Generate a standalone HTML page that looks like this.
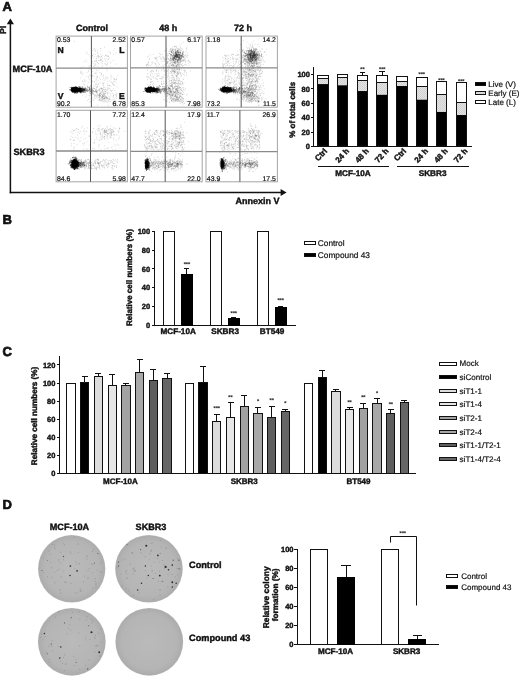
<!DOCTYPE html>
<html lang="en"><head><meta charset="utf-8"><title>Figure</title>
<style>
html,body{margin:0;padding:0;background:#fff;}
body{width:520px;height:676px;overflow:hidden;}
svg{display:block;font-family:"Liberation Sans", sans-serif;filter:blur(0.45px);text-rendering:geometricPrecision;}
</style></head><body>
<svg width="520" height="676" viewBox="0 0 520 676">
<rect width="520" height="676" fill="#fff"/>
<text x="2.50" y="11.00" font-size="13" font-weight="bold" stroke="#111" stroke-width="0.7" text-anchor="start" fill="#111">A</text>
<line x1="10.40" y1="22.50" x2="10.40" y2="193.30" stroke="#111" stroke-width="1.5"/>
<polygon points="10.4,18.4 6.8,24.2 14.0,24.2" fill="#111"/>
<line x1="9.70" y1="192.60" x2="281.50" y2="192.60" stroke="#111" stroke-width="1.5"/>
<polygon points="286.6,192.6 280.6,189.1 280.6,196.1" fill="#111"/>
<text x="5.70" y="29.80" font-size="8.6" font-weight="bold" stroke="#111" stroke-width="0.4" text-anchor="middle" fill="#111" transform="rotate(-90 5.70 29.80)">PI</text>
<text x="257.50" y="203.50" font-size="9" font-weight="bold" stroke="#111" stroke-width="0.4" text-anchor="middle" fill="#111">Annexin V</text>
<text x="92.00" y="30.70" font-size="9" font-weight="bold" stroke="#111" stroke-width="0.4" text-anchor="middle" fill="#111">Control</text>
<text x="168.30" y="30.70" font-size="9" font-weight="bold" stroke="#111" stroke-width="0.4" text-anchor="middle" fill="#111">48 h</text>
<text x="243.10" y="30.70" font-size="9" font-weight="bold" stroke="#111" stroke-width="0.4" text-anchor="middle" fill="#111">72 h</text>
<text x="12.60" y="71.60" font-size="9.2" font-weight="bold" stroke="#111" stroke-width="0.4" text-anchor="start" fill="#111">MCF-10A</text>
<text x="13.40" y="155.30" font-size="9.2" font-weight="bold" stroke="#111" stroke-width="0.4" text-anchor="start" fill="#111">SKBR3</text>
<rect x="56.1" y="36.1" width="71.30000000000001" height="71.1" fill="#fff" stroke="#a4a4a4" stroke-width="1"/>
<path d="M104.4 100.1h.01M100.9 96.8h.01M100.0 100.0h.01M103.7 96.1h.01M102.3 97.9h.01M96.2 90.9h.01M91.0 95.7h.01M93.3 90.6h.01M105.5 93.5h.01M102.4 96.5h.01M105.8 98.2h.01M90.0 94.8h.01M108.0 98.8h.01M97.1 94.1h.01M108.5 101.1h.01M101.6 99.8h.01M100.6 95.7h.01M106.3 101.0h.01M102.2 97.8h.01M103.3 96.5h.01M92.4 91.9h.01M101.8 96.5h.01M96.6 91.8h.01M90.7 93.6h.01M91.9 88.5h.01M99.2 97.7h.01M94.6 95.0h.01M105.2 97.9h.01M91.7 89.7h.01M89.4 89.7h.01M110.0 101.6h.01M95.7 95.0h.01M99.8 96.1h.01M93.5 94.5h.01M93.5 91.1h.01M97.5 94.8h.01M105.7 94.9h.01M89.9 92.2h.01M106.7 99.2h.01M109.9 99.6h.01M100.8 98.5h.01M96.7 95.4h.01M94.0 86.4h.01M92.9 92.1h.01M95.9 90.3h.01M107.0 101.4h.01M89.2 95.6h.01M105.6 97.2h.01M103.1 97.3h.01M89.5 89.7h.01M90.6 91.6h.01M104.5 99.2h.01M103.2 100.0h.01M95.7 91.2h.01M107.2 102.6h.01M93.5 90.3h.01M98.1 95.2h.01M91.5 93.9h.01M102.7 98.4h.01M90.9 88.9h.01M92.9 90.4h.01M105.2 97.1h.01M99.6 95.2h.01M103.0 99.6h.01M104.5 95.0h.01M101.8 97.5h.01M93.3 93.5h.01M103.8 98.7h.01M91.5 92.3h.01M94.8 96.3h.01M98.5 95.9h.01M91.5 93.2h.01M91.3 92.5h.01M102.8 100.9h.01M104.7 93.7h.01M96.9 96.8h.01M97.3 93.6h.01M93.5 91.7h.01M100.1 93.4h.01M101.3 92.1h.01M108.7 99.1h.01M90.0 89.0h.01M108.2 100.7h.01M109.9 97.3h.01M96.4 96.9h.01M104.3 98.3h.01M106.4 98.2h.01M102.8 95.4h.01M95.2 91.4h.01M102.2 94.2h.01M107.5 98.1h.01M91.3 91.2h.01M99.2 94.7h.01M89.6 87.2h.01M106.8 98.4h.01M105.4 96.3h.01M90.1 90.9h.01M104.8 102.0h.01M103.6 98.7h.01M91.8 90.7h.01M100.1 92.0h.01M103.6 94.2h.01M96.1 89.9h.01M99.7 97.0h.01M109.6 98.7h.01M102.4 96.9h.01M99.6 94.0h.01M90.5 91.0h.01M91.6 94.5h.01M107.0 97.5h.01M104.7 97.1h.01M106.6 97.1h.01M101.2 98.1h.01M101.2 93.9h.01M100.2 93.2h.01M104.5 94.8h.01M96.0 90.5h.01M99.5 96.4h.01M99.0 100.7h.01M103.0 94.9h.01M106.8 65.5h.01M101.9 59.9h.01M92.4 55.6h.01M98.2 56.9h.01M98.5 57.2h.01M95.3 54.5h.01M113.6 54.3h.01M86.8 52.1h.01M102.8 65.8h.01M102.4 58.0h.01M96.0 64.3h.01M101.1 56.5h.01M106.2 58.6h.01M101.2 57.0h.01M103.0 61.1h.01M105.0 63.5h.01M85.9 59.7h.01M110.4 53.7h.01M116.0 53.0h.01M107.0 68.9h.01M107.2 56.3h.01M90.2 56.2h.01M99.3 67.6h.01M94.4 65.2h.01M96.0 61.6h.01M106.9 55.5h.01M94.5 73.4h.01M99.2 60.7h.01M86.7 61.7h.01M99.0 57.0h.01M100.7 48.9h.01M95.2 49.4h.01M95.1 60.7h.01M113.3 60.6h.01M91.6 56.5h.01M92.7 50.5h.01M94.4 48.7h.01M108.5 56.0h.01M114.8 48.6h.01M102.4 63.9h.01M95.1 65.6h.01M97.1 76.5h.01M107.6 63.8h.01M93.7 54.2h.01M110.3 52.4h.01M100.6 54.2h.01M104.6 56.9h.01M105.3 64.4h.01M111.0 62.1h.01M92.7 61.9h.01M108.4 59.5h.01M97.5 62.4h.01M94.7 67.5h.01M100.8 51.2h.01M98.6 55.1h.01M93.2 49.1h.01M88.9 68.6h.01M93.5 66.5h.01M110.3 63.0h.01M113.8 50.3h.01M104.7 59.2h.01M108.4 56.6h.01M96.5 58.6h.01M99.6 56.9h.01M102.1 61.5h.01M92.5 55.5h.01M93.2 63.7h.01M100.8 59.7h.01M97.9 56.2h.01M92.7 57.4h.01M102.8 55.2h.01M98.3 63.4h.01M107.2 56.3h.01M100.1 60.0h.01M98.0 55.5h.01M101.0 48.4h.01M98.9 64.0h.01M95.4 51.2h.01M97.3 62.5h.01M105.3 60.8h.01M104.6 47.3h.01M109.1 52.0h.01M88.2 54.8h.01M97.3 52.8h.01M97.2 50.4h.01M101.3 62.9h.01M96.9 56.5h.01M96.5 60.6h.01M105.6 55.3h.01M101.3 60.1h.01M91.9 53.2h.01M109.4 57.9h.01M107.1 61.9h.01M96.1 58.4h.01M105.9 55.1h.01M95.0 51.0h.01M108.0 59.2h.01M98.6 60.3h.01M94.5 56.4h.01M97.5 53.1h.01M94.7 61.6h.01M101.4 74.2h.01M101.3 56.1h.01M100.4 60.3h.01M96.2 60.6h.01M74.5 41.4h.01M100.7 58.9h.01M86.8 53.5h.01M101.8 67.1h.01M95.2 98.6h.01M110.8 93.6h.01M105.4 89.2h.01M107.5 89.2h.01M89.6 75.3h.01M82.5 95.4h.01M113.5 95.9h.01M115.7 95.0h.01M104.6 90.4h.01M115.1 100.3h.01M106.9 92.4h.01M103.1 93.7h.01M96.0 72.4h.01M93.6 88.5h.01M88.6 76.7h.01M96.4 82.9h.01M99.4 94.0h.01M81.3 89.2h.01M95.1 90.0h.01M90.9 66.4h.01M104.2 91.5h.01M110.9 76.7h.01M103.4 78.1h.01M105.3 92.3h.01M103.4 83.3h.01M89.8 90.3h.01M112.2 96.7h.01M116.0 97.3h.01M87.0 72.4h.01M80.5 73.0h.01M116.6 79.6h.01M112.8 83.8h.01M103.2 75.3h.01M111.1 82.0h.01M102.7 84.0h.01M114.5 79.6h.01M89.3 67.9h.01M97.0 70.7h.01M105.6 91.5h.01M88.3 82.4h.01M107.3 97.7h.01M90.1 92.7h.01M107.1 84.0h.01M110.7 95.2h.01M96.2 69.7h.01M104.1 98.5h.01M108.9 85.8h.01M80.9 67.9h.01M84.4 84.4h.01M107.1 68.7h.01M115.9 82.3h.01M104.0 93.9h.01M114.8 90.5h.01M82.3 75.1h.01M114.0 99.0h.01M113.4 78.9h.01M104.0 89.3h.01M96.4 79.2h.01M106.9 78.9h.01M89.4 86.7h.01M105.5 77.0h.01M100.6 79.6h.01M90.0 102.2h.01M80.2 68.4h.01M87.5 87.6h.01M111.8 76.8h.01M88.2 68.3h.01M82.9 81.7h.01M89.5 88.9h.01M99.8 72.5h.01M102.4 97.8h.01M113.4 81.3h.01M112.6 90.4h.01M116.9 94.1h.01M113.7 95.3h.01M97.2 66.5h.01M85.5 97.1h.01M116.4 95.8h.01M88.8 77.7h.01M103.7 76.2h.01M90.1 65.4h.01M111.1 75.0h.01M87.7 87.0h.01M96.1 80.7h.01M88.4 70.5h.01M112.8 83.8h.01M103.6 102.0h.01M104.1 83.2h.01M92.1 77.0h.01M86.8 94.8h.01M112.7 93.7h.01M109.2 88.5h.01M108.0 81.6h.01M118.0 75.1h.01M101.4 74.0h.01M86.9 76.5h.01M103.3 84.1h.01M91.0 86.1h.01M99.6 90.7h.01M97.6 86.8h.01M101.5 87.9h.01M115.1 79.7h.01M110.9 67.0h.01M95.9 78.8h.01M111.2 79.1h.01M112.8 82.6h.01M109.5 85.4h.01M101.1 73.1h.01M114.3 78.4h.01M98.8 83.9h.01M84.1 81.7h.01M90.4 75.8h.01M105.1 91.8h.01M94.5 81.4h.01M96.2 73.9h.01M95.4 84.3h.01M87.4 100.3h.01M83.7 73.6h.01M82.0 91.5h.01M105.7 100.7h.01M92.4 98.0h.01M97.5 76.3h.01M103.9 87.6h.01M110.9 86.0h.01M109.1 85.7h.01M116.3 96.2h.01M82.6 80.6h.01M94.7 81.9h.01M116.2 103.0h.01M97.7 77.4h.01M116.1 79.7h.01M87.1 89.3h.01M82.4 87.0h.01M114.1 100.4h.01M95.7 73.3h.01M99.4 95.9h.01M115.7 94.8h.01M88.4 99.4h.01M116.9 77.9h.01M95.2 86.0h.01M89.5 79.3h.01M89.0 66.1h.01M99.8 78.1h.01M97.8 95.9h.01M113.8 84.7h.01M82.0 72.7h.01M81.8 88.5h.01M85.9 90.9h.01M103.1 96.1h.01M109.8 80.3h.01M98.3 84.2h.01M103.4 96.6h.01M104.5 80.1h.01M80.8 72.0h.01M89.5 90.4h.01M92.7 71.6h.01M116.1 64.1h.01M98.8 70.4h.01M88.6 71.7h.01M80.2 78.0h.01M88.4 87.9h.01M92.3 81.5h.01M96.8 77.3h.01M97.1 85.9h.01M100.9 75.9h.01M98.1 84.2h.01M81.3 73.3h.01M116.7 98.4h.01M81.1 71.3h.01M108.0 77.7h.01M98.2 80.3h.01M107.0 70.9h.01M92.7 75.8h.01M94.2 76.1h.01M99.7 94.0h.01M114.7 85.4h.01M92.6 75.1h.01M83.4 66.9h.01M81.6 68.0h.01M113.6 88.7h.01M92.0 80.7h.01M84.6 92.0h.01M102.8 79.8h.01M112.2 99.5h.01M102.9 88.7h.01M85.9 81.0h.01M95.5 63.8h.01M90.2 69.4h.01M80.7 86.9h.01M116.8 104.3h.01M97.6 86.6h.01M85.2 88.5h.01M113.7 85.3h.01M117.5 86.8h.01M111.1 82.0h.01M89.7 91.9h.01M87.3 84.9h.01M100.1 82.9h.01M102.3 82.7h.01M113.5 94.9h.01M116.9 93.6h.01M114.7 81.4h.01M93.1 100.4h.01M102.4 88.5h.01M84.8 80.8h.01M99.8 100.0h.01M82.8 90.3h.01M84.3 79.7h.01M84.7 86.0h.01M91.6 72.0h.01M91.9 76.4h.01M106.9 64.7h.01M83.0 92.4h.01M84.3 61.6h.01M105.0 93.6h.01M105.7 78.7h.01M107.1 77.6h.01M107.5 85.6h.01M105.3 89.5h.01M101.1 91.7h.01M108.3 105.5h.01M83.2 83.8h.01M88.1 90.5h.01M100.1 100.4h.01M106.7 90.1h.01M103.9 93.3h.01M100.8 92.4h.01M102.6 99.7h.01M102.8 95.8h.01M104.1 96.2h.01M105.1 87.7h.01M100.6 95.7h.01M99.4 88.7h.01M106.8 97.6h.01M94.6 97.9h.01M100.0 96.0h.01M89.6 98.7h.01M99.6 99.1h.01M106.5 96.8h.01M94.8 95.1h.01M116.1 100.9h.01M90.2 101.6h.01M110.3 89.6h.01M110.9 101.4h.01M107.7 98.7h.01M102.0 100.9h.01M104.9 98.4h.01M98.6 89.9h.01M107.1 90.2h.01M97.5 105.2h.01M101.7 97.4h.01M108.1 89.0h.01M97.5 97.8h.01M101.3 94.3h.01M103.9 86.9h.01M96.4 84.6h.01M108.9 88.1h.01M104.8 97.5h.01M95.5 95.9h.01M102.9 94.9h.01M99.2 97.5h.01M99.8 99.1h.01M103.5 85.6h.01M99.6 94.6h.01M107.9 92.0h.01M99.6 89.9h.01M108.0 93.4h.01M102.9 95.5h.01M107.4 94.8h.01M100.4 88.8h.01M100.6 93.7h.01M106.0 90.8h.01M107.8 87.7h.01M113.7 97.5h.01M109.6 99.1h.01M104.3 98.4h.01M102.0 90.5h.01M105.0 101.1h.01M103.0 92.2h.01M110.4 90.4h.01M107.8 93.1h.01M98.9 95.6h.01M99.7 99.7h.01M109.9 99.2h.01M104.6 96.0h.01M101.9 100.8h.01M109.0 96.5h.01M101.2 100.6h.01M101.7 89.1h.01M100.8 88.2h.01M93.3 100.0h.01" stroke="#333" stroke-opacity="0.25" stroke-width="0.80" stroke-linecap="round" fill="none"/>
<path d="M78.8 89.1h.01M84.2 90.5h.01M79.3 91.2h.01M87.0 90.5h.01M82.6 91.4h.01M83.4 90.2h.01M82.3 91.6h.01M83.0 91.7h.01M85.0 89.9h.01M80.9 91.8h.01M79.1 90.2h.01M83.7 90.1h.01M79.6 88.9h.01M79.7 89.7h.01M79.4 90.9h.01M80.8 88.4h.01M83.6 90.9h.01M91.4 90.6h.01M97.8 90.6h.01M82.3 87.1h.01M82.3 89.9h.01M84.5 90.9h.01M80.9 89.1h.01M82.6 90.1h.01M79.3 87.3h.01M91.1 91.2h.01M78.8 89.3h.01M80.0 91.0h.01M82.0 87.6h.01M96.2 91.4h.01M89.5 89.6h.01M103.1 92.0h.01M81.2 88.9h.01M79.9 89.3h.01M81.3 92.8h.01M80.5 89.0h.01M84.6 89.0h.01M90.8 89.5h.01M79.5 88.8h.01M80.9 91.5h.01M92.7 93.2h.01M94.5 88.6h.01M85.7 87.4h.01M79.9 91.4h.01M80.5 91.3h.01M81.3 91.0h.01M79.8 91.3h.01M79.7 89.0h.01M81.9 89.8h.01M78.7 88.5h.01M79.7 88.4h.01M97.0 92.1h.01M84.0 89.1h.01M80.8 92.8h.01M80.0 90.1h.01M84.6 89.1h.01M94.4 91.6h.01M79.7 92.1h.01M80.5 90.6h.01M96.8 87.4h.01M88.5 90.6h.01M83.7 91.9h.01M78.8 89.5h.01M89.5 88.7h.01M83.1 91.4h.01M80.5 90.2h.01M80.5 88.7h.01M79.4 89.6h.01M81.3 89.1h.01M78.9 90.3h.01M82.2 90.1h.01M79.2 91.3h.01M82.8 90.9h.01M79.2 88.2h.01M79.3 90.5h.01M96.9 91.9h.01M78.7 90.5h.01M80.8 91.3h.01M85.1 89.2h.01M86.2 88.6h.01M87.3 91.5h.01M82.8 88.6h.01M87.5 86.6h.01M81.6 91.3h.01M81.1 89.1h.01M84.0 89.6h.01M83.8 88.1h.01M79.3 88.5h.01M85.2 88.3h.01M79.2 89.6h.01M85.5 90.5h.01M90.4 86.0h.01M80.7 90.9h.01M81.4 88.5h.01M92.9 88.0h.01M92.5 91.3h.01M85.5 89.9h.01M80.6 88.1h.01M83.6 92.5h.01M80.1 89.0h.01M90.9 90.4h.01M84.3 90.3h.01M82.1 91.8h.01M80.7 89.4h.01M81.0 91.2h.01M80.2 89.1h.01M96.8 92.4h.01M82.8 89.0h.01M82.9 89.5h.01M80.6 92.3h.01M92.8 90.6h.01M78.6 90.1h.01M99.9 95.1h.01M81.0 90.4h.01M79.5 89.1h.01M80.1 90.9h.01M81.3 88.5h.01M80.4 91.4h.01M78.7 91.3h.01M82.7 89.2h.01M80.9 89.2h.01M81.8 90.2h.01M81.6 90.0h.01M89.3 88.3h.01M82.2 90.7h.01M79.9 87.6h.01M80.8 89.5h.01M82.8 89.5h.01M82.1 89.6h.01M85.0 90.4h.01M79.1 88.6h.01M90.2 91.0h.01M85.9 89.7h.01M83.9 89.1h.01M89.3 87.7h.01M79.8 88.6h.01M82.6 90.5h.01M81.4 88.8h.01M80.6 90.1h.01M80.6 91.3h.01M81.8 91.3h.01M80.2 91.9h.01M83.5 89.6h.01M85.4 88.4h.01M86.0 91.5h.01M81.3 90.4h.01M92.0 92.1h.01M86.8 90.0h.01M85.5 91.8h.01M78.9 90.9h.01M87.7 91.1h.01M83.3 90.7h.01M79.9 90.5h.01M80.3 90.3h.01M80.1 90.3h.01M78.7 91.1h.01M96.1 88.9h.01M81.9 92.2h.01M99.2 89.8h.01M79.6 91.1h.01M88.3 89.9h.01M89.7 89.6h.01M79.3 92.3h.01M84.9 89.6h.01M80.8 88.4h.01M79.8 89.2h.01M81.0 89.6h.01M81.0 92.7h.01M80.7 90.3h.01M95.0 91.9h.01M90.5 88.2h.01M111.4 91.0h.01M80.0 90.8h.01M85.0 92.6h.01M81.3 89.1h.01M87.8 91.0h.01M80.6 90.4h.01M82.6 88.6h.01M83.2 90.0h.01M83.3 89.6h.01M82.3 87.0h.01M86.5 90.9h.01M84.5 90.8h.01M83.7 89.4h.01M80.1 88.4h.01M85.0 92.2h.01M83.2 90.4h.01M84.1 91.4h.01M78.7 91.6h.01M84.5 89.3h.01M83.6 91.1h.01M78.6 89.7h.01M84.1 89.9h.01M81.2 89.9h.01M82.5 90.0h.01M80.7 91.4h.01M78.8 90.1h.01M92.5 89.7h.01M86.8 89.6h.01M80.2 90.4h.01M80.4 88.9h.01M79.7 89.4h.01M80.7 89.9h.01M87.5 89.1h.01M103.0 89.7h.01M101.5 88.6h.01M90.1 93.5h.01M78.6 91.5h.01M79.3 90.5h.01M84.1 89.9h.01M80.7 92.7h.01M86.2 90.5h.01M85.6 89.9h.01M102.6 90.7h.01M79.1 90.3h.01M79.5 91.6h.01M80.7 90.0h.01M92.7 93.9h.01M79.6 89.0h.01M81.9 90.9h.01M81.2 88.8h.01M80.5 92.2h.01M83.0 89.6h.01M79.6 89.9h.01M81.5 91.2h.01M78.8 91.4h.01M81.4 88.6h.01M80.0 89.6h.01M83.9 88.1h.01M85.0 90.2h.01M79.7 89.9h.01M78.8 89.6h.01M81.1 89.2h.01M81.7 89.5h.01M86.0 88.9h.01M82.1 90.7h.01M83.1 92.0h.01M80.7 87.7h.01M80.9 89.9h.01M91.9 89.2h.01M84.0 90.7h.01M79.8 88.9h.01M80.9 89.8h.01M81.1 88.7h.01M79.8 90.8h.01M87.1 90.2h.01M79.1 89.8h.01M81.1 90.5h.01M81.1 89.7h.01M88.7 87.4h.01M81.7 90.8h.01M80.0 90.3h.01M84.6 89.8h.01M89.9 91.7h.01M82.2 91.6h.01M82.2 88.6h.01M79.4 89.1h.01M82.0 92.0h.01M84.9 92.0h.01M78.8 89.2h.01" stroke="#222" stroke-opacity="0.4" stroke-width="0.90" stroke-linecap="round" fill="none"/>
<path d="M74.9 89.1h.01M75.4 88.9h.01M74.4 89.6h.01M73.4 88.6h.01M74.1 90.3h.01M73.2 89.6h.01M75.0 90.0h.01M77.2 89.5h.01M74.1 88.9h.01M73.8 88.7h.01M75.7 89.5h.01M75.5 89.1h.01M75.1 89.9h.01M73.3 89.7h.01M74.9 88.3h.01M76.1 89.8h.01M72.6 88.3h.01M74.1 89.1h.01M71.7 89.4h.01M72.7 87.5h.01M71.8 89.8h.01M74.5 89.9h.01M72.7 89.5h.01M75.4 89.3h.01M75.2 89.3h.01M74.6 88.7h.01M70.6 89.4h.01M74.0 89.1h.01M74.8 89.8h.01M75.1 88.4h.01M72.3 89.9h.01M74.1 89.9h.01M73.2 89.6h.01M73.5 89.2h.01M76.7 90.3h.01M73.5 88.0h.01M74.8 90.2h.01M76.4 90.0h.01M73.9 90.0h.01M74.7 90.1h.01M75.1 89.0h.01M75.0 89.4h.01M72.8 90.4h.01M75.0 90.2h.01M77.2 89.9h.01M72.3 88.1h.01M76.4 90.3h.01M75.1 90.9h.01M73.8 90.8h.01M78.3 89.9h.01M76.2 88.1h.01M72.9 90.7h.01M75.0 89.5h.01M75.9 87.0h.01M74.6 90.1h.01M76.1 88.1h.01M74.8 88.3h.01M76.0 89.0h.01M77.3 91.0h.01M73.8 89.3h.01M75.2 90.0h.01M74.1 91.5h.01M75.1 91.4h.01M72.9 89.6h.01M73.9 89.4h.01M74.6 88.4h.01M76.4 89.0h.01M76.8 90.1h.01M72.7 90.1h.01M73.5 89.8h.01M76.0 90.7h.01M71.5 88.9h.01M74.1 89.6h.01M74.7 90.5h.01M77.0 90.3h.01M76.1 90.8h.01M74.3 90.1h.01M74.3 89.4h.01M74.5 90.1h.01M77.5 88.6h.01M74.2 88.0h.01M74.4 90.3h.01M75.5 89.6h.01M74.7 90.0h.01M74.6 87.9h.01M73.0 89.3h.01M74.9 89.1h.01M74.1 88.8h.01M76.9 87.3h.01M76.0 89.3h.01M74.9 90.6h.01M76.0 90.1h.01M74.3 89.1h.01M76.7 89.7h.01M74.9 90.5h.01M75.9 86.8h.01M72.7 89.6h.01M75.5 90.3h.01M72.0 90.4h.01M71.4 91.5h.01M74.4 90.9h.01M73.4 90.0h.01M75.2 90.0h.01M78.7 90.5h.01M73.5 89.1h.01M73.8 89.7h.01M75.2 90.7h.01M75.7 91.8h.01M74.6 89.5h.01M74.5 89.6h.01M76.1 89.9h.01M75.8 91.1h.01M73.1 89.7h.01M74.8 91.2h.01M75.0 88.7h.01M73.1 89.5h.01M75.3 89.5h.01M73.4 90.5h.01M76.6 90.8h.01M75.2 88.1h.01M75.1 88.7h.01M73.9 90.1h.01M74.7 89.0h.01M71.5 88.1h.01M73.0 90.8h.01M75.5 90.2h.01M71.3 90.2h.01M76.3 89.2h.01M71.9 90.8h.01M76.2 89.4h.01M73.5 90.9h.01M76.2 88.7h.01M75.1 88.8h.01M72.3 89.9h.01M77.0 89.0h.01M77.4 90.4h.01M74.8 90.0h.01M74.4 88.7h.01M74.6 89.8h.01M73.2 89.3h.01M76.8 90.7h.01M74.0 89.0h.01M74.8 89.2h.01M73.6 91.0h.01M73.8 92.1h.01M72.7 91.8h.01M77.0 89.8h.01M74.6 89.9h.01M76.5 91.3h.01M74.9 89.6h.01M73.7 88.7h.01M74.3 89.8h.01M73.9 90.2h.01M74.9 88.8h.01M74.3 88.0h.01M74.4 88.2h.01M72.6 90.4h.01M73.5 88.9h.01M77.7 89.6h.01M73.8 89.9h.01M73.1 90.4h.01M75.5 89.3h.01M77.3 90.2h.01M72.4 88.8h.01M74.5 89.3h.01M73.8 88.6h.01M71.9 90.9h.01M76.1 89.7h.01M74.9 88.9h.01M75.0 89.3h.01M73.6 89.5h.01M75.7 90.4h.01M74.0 88.0h.01M74.7 88.6h.01M73.0 89.3h.01M72.8 92.4h.01M77.2 90.7h.01M74.0 89.6h.01M75.4 90.4h.01M74.8 91.9h.01M74.2 89.5h.01M74.0 89.3h.01M76.0 91.0h.01M74.4 90.2h.01M74.6 90.4h.01M74.9 89.2h.01M76.9 91.7h.01M76.1 91.5h.01M75.6 90.3h.01M73.9 90.4h.01M72.6 87.6h.01M76.5 90.4h.01M76.5 89.5h.01M74.7 90.2h.01M75.8 90.4h.01M76.2 89.3h.01M76.3 87.9h.01M76.5 90.1h.01M74.1 88.9h.01M77.5 89.4h.01M72.8 89.1h.01M76.4 89.3h.01M75.7 87.3h.01M76.4 91.0h.01M78.1 90.0h.01M77.4 90.9h.01M73.0 91.8h.01M72.0 89.7h.01M76.3 87.8h.01M73.2 88.8h.01M74.9 88.4h.01M76.3 89.2h.01M72.1 89.8h.01M71.3 87.6h.01M75.3 90.1h.01M75.0 88.1h.01M74.5 90.0h.01M75.0 89.6h.01M73.4 89.4h.01M72.3 89.6h.01M74.6 89.1h.01M73.2 89.1h.01M72.1 87.9h.01M75.8 89.7h.01M74.8 91.6h.01M75.6 91.8h.01M73.2 91.1h.01M73.8 90.4h.01M73.2 89.0h.01M73.4 91.2h.01M75.2 89.6h.01M73.6 89.6h.01M75.5 89.4h.01M75.5 89.8h.01M78.3 89.2h.01M72.5 89.6h.01M76.4 88.6h.01M74.7 89.3h.01M74.9 92.1h.01M72.4 89.6h.01M74.1 89.4h.01M76.2 90.3h.01M74.8 90.4h.01M75.0 88.5h.01M74.4 89.5h.01M76.9 90.7h.01M74.9 90.0h.01M71.2 89.8h.01M73.7 91.3h.01M71.6 89.0h.01M69.4 89.8h.01M74.0 89.2h.01M77.2 91.3h.01M75.0 87.7h.01M72.9 89.0h.01M73.3 89.1h.01M76.8 90.4h.01M75.2 90.3h.01M75.0 91.2h.01M74.8 88.0h.01M75.0 90.5h.01M76.3 89.4h.01M75.8 89.0h.01M75.3 90.3h.01M73.1 88.7h.01M75.8 87.5h.01M73.7 89.3h.01M76.8 88.1h.01M72.7 89.0h.01M74.7 90.1h.01M74.9 90.0h.01M72.6 91.4h.01M77.8 89.5h.01M77.4 88.1h.01M74.1 88.9h.01M76.2 88.7h.01M75.5 88.4h.01M70.5 90.2h.01M75.3 89.0h.01M74.8 87.6h.01M75.0 90.4h.01M73.1 89.6h.01M74.4 90.1h.01M74.6 89.8h.01M76.9 90.4h.01M75.5 89.7h.01M74.9 91.0h.01M77.5 90.1h.01M74.0 90.1h.01M74.2 90.1h.01M71.8 88.2h.01M77.6 89.5h.01M76.5 89.4h.01M76.5 89.9h.01M76.0 88.3h.01M75.1 91.4h.01M75.3 89.8h.01M74.5 88.4h.01M74.6 87.9h.01M75.0 89.4h.01M77.5 89.6h.01M75.8 88.9h.01M74.8 89.8h.01M73.9 89.0h.01M73.8 90.3h.01M77.6 88.9h.01M75.8 89.7h.01M75.0 90.7h.01M74.3 92.4h.01M73.0 88.6h.01M74.8 89.2h.01M76.4 88.8h.01M74.2 90.5h.01M74.5 88.5h.01M74.5 89.2h.01M75.1 89.7h.01M72.2 88.7h.01M74.5 88.7h.01M73.4 89.2h.01M76.4 87.5h.01M73.6 88.2h.01M75.9 89.3h.01M77.5 89.9h.01M74.4 89.5h.01M73.9 87.8h.01M75.2 89.2h.01M74.9 90.5h.01M73.2 90.3h.01M75.7 89.6h.01M78.3 88.8h.01M74.5 90.4h.01M74.6 89.1h.01M73.1 88.5h.01M75.4 88.9h.01M72.8 91.2h.01M73.0 89.9h.01M77.1 90.9h.01M73.4 89.2h.01M76.7 90.7h.01M77.5 89.1h.01M75.3 89.5h.01M75.8 92.3h.01M78.2 90.5h.01M74.6 89.2h.01M73.9 89.6h.01M72.6 90.0h.01M75.0 91.0h.01M77.4 89.2h.01M76.5 87.9h.01M73.3 89.4h.01M73.4 89.7h.01M74.0 89.8h.01M75.4 91.1h.01M74.6 90.0h.01M75.3 90.6h.01M75.4 88.5h.01M74.4 90.6h.01M74.8 91.9h.01M75.3 90.5h.01M74.8 90.0h.01M75.8 89.9h.01M78.1 91.6h.01M75.9 88.7h.01M75.0 89.6h.01M72.0 90.2h.01M75.6 90.5h.01M71.6 89.2h.01M72.5 90.0h.01M76.4 89.4h.01M76.1 89.8h.01M74.6 89.6h.01M72.0 88.5h.01M74.3 89.7h.01M73.7 90.6h.01M76.0 88.7h.01M78.7 89.4h.01M75.3 90.4h.01M73.6 88.6h.01M72.9 89.9h.01M74.8 88.6h.01M74.6 90.9h.01M72.9 92.1h.01M75.1 91.8h.01M72.9 89.5h.01M76.8 90.5h.01M76.7 89.8h.01M76.7 89.8h.01M74.1 91.3h.01M75.8 88.3h.01M74.7 90.8h.01M74.2 89.6h.01M74.3 91.2h.01M72.7 89.9h.01M72.4 89.0h.01M76.3 90.0h.01M74.6 90.5h.01M75.3 89.7h.01M76.6 90.2h.01M72.0 89.2h.01M73.6 87.5h.01M75.2 90.6h.01M75.6 90.4h.01M74.3 89.9h.01M76.6 89.8h.01M75.3 90.8h.01M72.8 89.2h.01M73.3 89.0h.01M76.3 89.5h.01M75.7 90.9h.01M71.7 88.2h.01M77.2 91.0h.01M75.9 89.0h.01M77.2 88.5h.01M74.2 91.0h.01M74.4 89.6h.01M73.0 88.3h.01M79.2 89.3h.01M74.6 90.7h.01M77.6 91.0h.01M73.8 89.3h.01M75.2 90.1h.01M72.1 90.4h.01M74.2 89.0h.01M76.6 90.1h.01M72.8 89.7h.01M76.7 89.1h.01M75.5 89.2h.01M73.1 89.8h.01M74.0 89.7h.01M74.1 89.1h.01M74.8 89.3h.01M74.0 90.9h.01M73.5 89.9h.01M74.4 90.6h.01M73.2 91.0h.01M72.7 90.3h.01M74.8 92.1h.01M76.4 88.8h.01M72.3 90.5h.01M74.9 89.4h.01M73.8 91.6h.01M73.2 91.5h.01M76.4 87.6h.01M74.0 88.7h.01M77.4 90.4h.01M73.6 90.5h.01M75.6 90.5h.01M74.5 89.6h.01M73.6 90.2h.01M75.9 90.4h.01M74.6 89.6h.01M75.9 90.8h.01M74.8 87.3h.01M73.1 90.4h.01M74.7 88.6h.01M75.0 90.7h.01M76.5 89.5h.01M73.4 88.8h.01M74.8 90.1h.01M72.0 88.7h.01M76.0 88.7h.01M73.1 88.1h.01M71.8 89.7h.01M74.8 90.2h.01M76.8 90.8h.01M72.3 89.6h.01M73.1 90.8h.01M73.6 89.7h.01M73.0 89.6h.01M75.5 90.3h.01M73.5 90.8h.01M73.7 89.3h.01M75.9 89.4h.01M73.6 89.5h.01M75.6 89.8h.01M73.2 88.8h.01M72.8 90.8h.01M71.8 89.3h.01M78.1 90.2h.01M74.4 88.8h.01M75.3 90.1h.01M74.8 90.1h.01M75.2 89.3h.01M75.0 91.8h.01M78.1 90.1h.01M73.1 91.6h.01M72.3 90.7h.01M73.2 89.0h.01M72.6 89.3h.01M76.2 90.2h.01M76.3 89.8h.01M73.3 89.8h.01M72.5 89.4h.01M74.3 87.8h.01M77.3 89.5h.01M70.1 87.4h.01M75.8 90.1h.01M73.1 88.9h.01M76.7 88.9h.01M73.1 89.5h.01M74.4 90.0h.01M72.3 88.2h.01M73.2 87.9h.01M77.3 88.6h.01M76.3 87.6h.01M74.2 88.7h.01M73.4 91.4h.01M71.7 88.6h.01M74.2 90.4h.01M74.8 88.3h.01M74.8 90.0h.01M74.7 89.4h.01M73.0 89.6h.01M74.8 90.3h.01M74.8 91.5h.01M77.1 89.9h.01M78.1 89.8h.01M74.7 88.7h.01M73.6 90.3h.01M74.8 89.4h.01M79.8 90.9h.01M77.5 89.4h.01M82.1 88.7h.01M72.4 91.5h.01M76.8 90.6h.01M79.9 90.1h.01M76.7 90.9h.01M75.5 91.1h.01M76.9 90.2h.01M74.0 86.9h.01M77.9 89.0h.01M83.9 89.3h.01M80.6 88.6h.01M74.7 90.0h.01M75.3 91.2h.01M76.5 89.2h.01M80.2 88.4h.01M75.5 92.2h.01M75.8 89.3h.01M79.9 88.3h.01M79.8 90.1h.01M76.6 90.3h.01M74.7 89.0h.01M73.6 90.7h.01M75.8 89.2h.01M71.8 88.7h.01M79.5 90.0h.01M76.0 90.7h.01M78.9 89.0h.01M82.5 90.2h.01M80.6 89.7h.01M74.6 93.2h.01M79.9 88.9h.01M80.6 91.5h.01M75.7 89.7h.01M75.1 89.6h.01M77.3 90.7h.01M73.4 90.9h.01M81.4 91.3h.01M71.3 90.2h.01M74.7 89.1h.01M76.9 89.2h.01M77.0 90.4h.01M78.0 90.5h.01M78.3 91.5h.01M77.0 90.3h.01M80.6 91.1h.01M72.0 91.6h.01M77.6 90.0h.01M75.7 88.0h.01M77.9 88.4h.01M78.2 88.1h.01M75.2 91.7h.01M75.9 88.8h.01M79.7 91.3h.01M78.5 90.5h.01M75.8 91.9h.01M82.9 91.0h.01M83.6 89.7h.01M73.8 89.6h.01M78.4 89.9h.01M84.1 90.0h.01M79.6 89.2h.01M78.2 89.8h.01M77.1 91.7h.01M76.2 87.8h.01M77.0 90.1h.01M76.2 88.7h.01M79.5 90.0h.01M76.6 90.8h.01M76.5 89.7h.01M74.5 90.7h.01M77.5 87.9h.01M75.3 91.1h.01M77.1 89.1h.01M80.3 90.5h.01M78.6 90.0h.01M78.9 86.7h.01M78.5 88.9h.01M77.8 90.1h.01M77.3 91.7h.01M76.8 90.1h.01M79.6 90.1h.01M74.8 88.1h.01M81.1 91.5h.01M77.7 92.0h.01M75.7 89.8h.01M76.3 89.5h.01M75.8 87.9h.01M78.0 90.9h.01M75.7 93.0h.01M80.6 90.7h.01M75.6 91.3h.01M71.7 90.5h.01M75.7 88.6h.01M72.4 91.4h.01M77.5 88.3h.01M80.4 89.5h.01M79.3 90.1h.01M74.1 90.9h.01M75.6 90.3h.01M82.2 90.3h.01M78.4 88.9h.01M77.6 88.3h.01M80.3 89.9h.01M84.0 88.9h.01M81.0 88.2h.01M78.0 88.3h.01M78.5 89.2h.01M79.2 87.6h.01M76.0 88.2h.01M74.8 87.8h.01M77.7 90.0h.01M75.1 90.3h.01M77.4 92.2h.01M77.8 88.0h.01M83.7 89.0h.01M75.4 90.9h.01M77.3 89.5h.01M77.2 89.4h.01M78.7 91.9h.01M80.3 89.4h.01M76.3 88.4h.01M75.5 88.2h.01M73.3 90.2h.01M75.2 90.2h.01M79.0 88.2h.01M77.7 88.6h.01M75.0 90.4h.01M76.6 90.5h.01M77.7 89.0h.01M78.9 90.5h.01M76.1 90.5h.01M76.9 87.7h.01M72.9 89.4h.01M74.6 90.3h.01M81.8 89.1h.01M71.9 87.2h.01M76.7 89.5h.01M78.2 90.7h.01M76.6 91.7h.01M75.5 87.2h.01M77.4 92.9h.01M77.6 88.4h.01M77.4 90.9h.01M72.7 91.3h.01M77.2 91.0h.01M75.4 90.0h.01M76.2 88.4h.01M78.2 90.6h.01M79.3 88.9h.01M79.9 86.8h.01M76.3 93.2h.01M80.0 90.6h.01M80.7 92.0h.01M80.6 88.7h.01M81.2 91.6h.01M77.2 91.7h.01M77.1 91.7h.01M79.7 89.8h.01M74.0 88.4h.01M78.1 89.6h.01M76.2 87.2h.01M76.6 87.8h.01M73.1 89.9h.01M75.3 88.6h.01M77.5 89.6h.01M79.9 89.7h.01M80.2 92.1h.01M77.4 91.4h.01M77.1 89.7h.01M75.4 91.3h.01M78.6 88.9h.01M77.0 89.4h.01M79.2 90.9h.01M82.2 88.3h.01M77.5 89.5h.01M73.7 88.2h.01M75.4 89.9h.01M73.8 91.8h.01M74.5 88.9h.01M81.0 90.1h.01M78.2 88.7h.01M73.6 88.4h.01M79.3 88.3h.01M80.9 91.5h.01M76.7 92.6h.01M75.8 90.4h.01M76.7 88.9h.01M78.3 90.6h.01M79.3 89.4h.01M80.7 90.8h.01M80.8 90.1h.01M80.7 90.1h.01M81.1 90.5h.01M79.3 89.1h.01M73.6 89.3h.01M77.3 87.7h.01M78.4 89.3h.01M76.6 88.1h.01" stroke="#000" stroke-opacity="0.6" stroke-width="1.00" stroke-linecap="round" fill="none"/>
<line x1="56.10" y1="68.10" x2="127.40" y2="68.10" stroke="#8a8a8a" stroke-width="1.3"/>
<line x1="91.40" y1="36.10" x2="91.40" y2="107.20" stroke="#555" stroke-width="1"/>
<text x="56.90" y="42.30" font-size="6.9" stroke="#111" stroke-width="0.2" text-anchor="start" fill="#111">0.53</text>
<text x="125.90" y="42.30" font-size="6.9" stroke="#111" stroke-width="0.2" text-anchor="end" fill="#111">2.52</text>
<text x="56.90" y="106.30" font-size="6.9" stroke="#111" stroke-width="0.2" text-anchor="start" fill="#111">90.2</text>
<text x="125.90" y="106.30" font-size="6.9" stroke="#111" stroke-width="0.2" text-anchor="end" fill="#111">6.78</text>
<text x="57.50" y="52.90" font-size="8.6" font-weight="bold" stroke="#111" stroke-width="0.4" text-anchor="start" fill="#111">N</text>
<text x="124.40" y="52.70" font-size="8.6" font-weight="bold" stroke="#111" stroke-width="0.4" text-anchor="end" fill="#111">L</text>
<text x="57.70" y="98.80" font-size="8.6" font-weight="bold" stroke="#111" stroke-width="0.4" text-anchor="start" fill="#111">V</text>
<text x="124.70" y="98.80" font-size="8.6" font-weight="bold" stroke="#111" stroke-width="0.4" text-anchor="end" fill="#111">E</text>
<rect x="130.5" y="36.1" width="71.69999999999999" height="71.1" fill="#fff" stroke="#a4a4a4" stroke-width="1"/>
<path d="M166.0 89.9h.01M163.7 91.5h.01M169.8 90.2h.01M169.5 94.5h.01M179.7 101.0h.01M175.3 94.1h.01M171.7 94.7h.01M180.1 96.0h.01M183.2 101.1h.01M177.0 97.1h.01M177.2 97.5h.01M181.6 102.2h.01M169.6 94.3h.01M184.4 103.6h.01M167.2 93.4h.01M164.5 88.0h.01M180.8 99.4h.01M167.2 93.1h.01M170.5 90.5h.01M174.3 98.5h.01M165.8 91.5h.01M172.4 95.4h.01M170.9 91.9h.01M165.3 91.2h.01M176.2 97.1h.01M173.0 94.2h.01M166.9 92.0h.01M180.0 93.8h.01M172.1 97.4h.01M164.0 88.0h.01M182.0 94.6h.01M172.1 92.3h.01M165.4 89.3h.01M169.6 94.4h.01M168.9 90.8h.01M164.4 91.2h.01M170.4 91.5h.01M167.0 96.8h.01M168.0 93.6h.01M177.7 101.5h.01M166.8 89.6h.01M164.0 91.8h.01M167.2 89.9h.01M169.7 94.5h.01M167.0 93.4h.01M176.0 92.9h.01M182.0 96.9h.01M180.9 96.3h.01M173.4 91.8h.01M180.0 96.8h.01M180.1 96.3h.01M176.8 93.6h.01M180.4 98.8h.01M171.5 95.3h.01M179.2 95.1h.01M174.5 94.4h.01M179.0 97.9h.01M179.0 97.4h.01M164.9 89.3h.01M181.0 100.7h.01M164.3 92.4h.01M172.5 96.1h.01M175.9 95.9h.01M180.8 103.1h.01M164.7 94.6h.01M177.6 96.3h.01M170.7 93.5h.01M164.4 93.2h.01M170.5 91.9h.01M177.0 97.7h.01M165.2 91.1h.01M181.3 97.5h.01M164.4 90.1h.01M168.5 89.2h.01M170.4 92.4h.01M164.8 86.4h.01M182.9 104.9h.01M183.8 103.6h.01M182.5 102.3h.01M167.7 92.9h.01M181.0 101.1h.01M170.6 96.5h.01M169.6 95.4h.01M178.0 99.4h.01M165.3 89.0h.01M163.6 91.1h.01M183.0 98.7h.01M170.9 91.2h.01M180.2 95.9h.01M172.4 95.5h.01M165.4 93.4h.01M173.5 92.1h.01M167.1 95.7h.01M165.2 94.2h.01M163.9 89.5h.01M171.9 93.3h.01M168.9 92.7h.01M170.6 95.8h.01M183.7 99.4h.01M180.9 96.4h.01M178.3 98.3h.01M168.6 88.1h.01M179.2 98.3h.01M178.2 100.0h.01M174.6 96.3h.01M168.5 94.3h.01M167.9 93.4h.01M172.3 96.1h.01M169.3 93.3h.01M182.1 97.6h.01M173.3 94.5h.01M177.7 97.1h.01M182.3 102.3h.01M176.5 100.2h.01M166.9 92.7h.01M170.2 91.8h.01M182.9 98.2h.01M164.5 90.2h.01M168.2 95.5h.01M176.5 97.3h.01M176.6 46.1h.01M177.5 64.8h.01M179.0 64.3h.01M176.4 55.8h.01M174.4 58.3h.01M179.1 60.3h.01M174.3 68.6h.01M176.9 61.2h.01M172.8 58.6h.01M168.3 55.1h.01M172.8 48.6h.01M173.8 54.5h.01M176.6 58.8h.01M183.0 56.7h.01M167.2 58.9h.01M177.2 63.2h.01M164.3 61.2h.01M170.7 60.2h.01M173.7 62.7h.01M164.1 59.6h.01M166.3 58.2h.01M177.3 61.4h.01M176.9 47.2h.01M175.9 66.5h.01M172.1 50.0h.01M188.3 63.8h.01M175.6 58.5h.01M171.8 65.6h.01M185.7 58.6h.01M179.9 52.3h.01M174.5 65.4h.01M183.1 59.6h.01M177.4 59.2h.01M180.0 58.9h.01M177.8 64.9h.01M170.8 63.7h.01M181.8 59.9h.01M177.4 48.3h.01M170.9 55.8h.01M172.3 59.1h.01M181.8 70.1h.01M174.5 60.9h.01M176.8 57.8h.01M180.1 66.2h.01M177.2 57.7h.01M168.1 58.3h.01M180.0 59.5h.01M181.7 48.7h.01M181.3 64.7h.01M185.4 61.2h.01M178.5 56.6h.01M180.8 51.0h.01M185.2 59.8h.01M174.9 67.6h.01M186.1 54.3h.01M186.0 51.6h.01M180.8 61.2h.01M186.6 48.1h.01M181.2 44.0h.01M171.7 55.6h.01M182.8 54.0h.01M178.3 56.7h.01M178.8 54.9h.01M177.4 60.6h.01M184.0 57.0h.01M179.5 54.6h.01M172.7 55.5h.01M179.2 62.6h.01M180.5 64.7h.01M172.5 64.4h.01M174.1 63.0h.01M173.2 52.0h.01M178.4 56.4h.01M182.1 59.8h.01M186.9 48.0h.01M183.1 67.7h.01M182.1 60.5h.01M182.8 54.4h.01M183.8 59.5h.01M174.4 56.2h.01M180.3 53.5h.01M178.3 61.8h.01M175.8 55.5h.01M174.0 49.3h.01M173.7 54.4h.01M175.0 57.7h.01M169.7 51.5h.01M179.4 66.7h.01M176.4 51.4h.01M177.1 69.9h.01M178.4 64.3h.01M180.5 52.4h.01M173.2 59.3h.01M175.9 66.2h.01M167.7 57.3h.01M164.3 50.8h.01M165.8 59.2h.01M185.0 71.4h.01M166.5 48.8h.01M179.1 62.1h.01M184.6 58.6h.01M174.0 57.8h.01M185.5 56.0h.01M186.7 56.5h.01M181.7 65.3h.01M189.5 62.4h.01M179.9 52.1h.01M172.5 68.7h.01M179.4 50.1h.01M174.1 62.9h.01M169.4 59.7h.01M169.5 66.3h.01M189.2 60.9h.01M173.6 65.4h.01M176.4 58.4h.01M172.9 64.9h.01M177.3 60.8h.01M175.2 72.5h.01M174.3 54.0h.01M169.9 66.3h.01M168.8 61.6h.01M172.5 59.7h.01M178.2 54.9h.01M188.0 61.5h.01M182.4 49.0h.01M186.6 49.7h.01M179.2 63.2h.01M176.1 48.5h.01M169.3 67.9h.01M176.6 56.8h.01M164.8 60.2h.01M174.9 59.1h.01M185.5 61.3h.01M178.4 56.8h.01M182.8 56.2h.01M174.5 57.8h.01M169.0 65.4h.01M174.0 66.0h.01M174.4 66.9h.01M183.2 61.0h.01M187.5 57.3h.01M172.5 47.7h.01M174.6 62.8h.01M175.8 64.1h.01M174.7 56.0h.01M169.8 63.8h.01M177.1 67.0h.01M178.6 59.2h.01M178.8 65.5h.01M170.0 60.6h.01M176.0 47.3h.01M167.1 55.5h.01M181.7 55.9h.01M171.0 62.0h.01M175.1 53.0h.01M174.2 55.7h.01M173.4 52.3h.01M170.8 58.3h.01M166.9 59.1h.01M186.2 64.9h.01M178.1 63.8h.01M178.1 59.7h.01M188.2 60.2h.01M176.1 59.3h.01M179.7 59.3h.01M176.8 68.7h.01M183.2 42.4h.01M179.4 57.5h.01M178.4 60.6h.01M175.3 65.9h.01M178.2 51.5h.01M183.1 60.9h.01M165.3 64.2h.01M176.0 55.7h.01M174.4 46.2h.01M175.0 56.3h.01M165.8 50.8h.01M180.7 62.8h.01M172.0 53.1h.01M175.4 70.2h.01M173.9 59.5h.01M167.5 53.4h.01M174.2 55.3h.01M166.5 51.5h.01M171.5 61.1h.01M174.9 68.3h.01M176.7 57.2h.01M177.0 64.6h.01M175.9 52.5h.01M188.4 60.6h.01M179.1 73.6h.01M170.0 49.5h.01M173.3 66.6h.01M173.1 66.2h.01M175.7 46.4h.01M173.4 49.3h.01M172.0 52.3h.01M185.8 64.9h.01M176.9 55.8h.01M174.8 57.5h.01M175.3 63.2h.01M175.5 59.4h.01M184.3 60.1h.01M179.3 56.5h.01M182.9 65.9h.01M159.5 53.5h.01M178.5 69.5h.01M182.5 56.4h.01M187.5 53.4h.01M176.9 62.8h.01M167.2 61.5h.01M179.9 45.7h.01M173.4 60.0h.01M166.8 49.8h.01M173.3 53.2h.01M182.5 63.7h.01M183.3 53.0h.01M180.7 60.9h.01M170.9 56.1h.01M190.5 71.1h.01M170.3 58.0h.01M176.3 50.9h.01M168.8 51.4h.01M183.9 52.7h.01M179.2 59.4h.01M181.6 58.5h.01M177.2 64.9h.01M176.3 59.6h.01M177.7 59.4h.01M177.5 91.4h.01M175.2 71.1h.01M177.3 94.4h.01M179.8 91.3h.01M179.8 83.6h.01M173.1 83.4h.01M167.0 75.0h.01M171.8 100.7h.01M177.2 75.2h.01M163.4 68.7h.01M173.4 82.7h.01M178.1 98.6h.01M173.0 98.8h.01M170.2 83.5h.01M184.6 75.4h.01M182.7 91.0h.01M174.5 82.7h.01M182.4 94.3h.01M182.3 94.8h.01M170.2 89.0h.01M189.2 100.9h.01M171.1 86.6h.01M174.5 101.0h.01M170.3 86.8h.01M176.2 67.7h.01M169.2 85.7h.01M175.8 91.9h.01M181.2 76.7h.01M176.8 65.5h.01M174.5 73.6h.01M183.5 92.5h.01M171.3 67.2h.01M180.6 58.6h.01M174.3 96.8h.01M176.8 100.9h.01M175.9 96.3h.01M176.4 93.4h.01M175.5 90.2h.01M171.8 82.4h.01M172.9 86.8h.01M178.0 90.9h.01M175.2 72.6h.01M169.9 67.1h.01M172.2 88.6h.01M172.3 84.7h.01M175.5 101.7h.01M176.6 76.3h.01M176.2 76.3h.01M172.5 63.5h.01M175.8 58.8h.01M168.9 64.2h.01M161.3 84.1h.01M175.4 100.5h.01M167.4 63.1h.01M171.0 65.1h.01M169.7 88.1h.01M178.8 71.4h.01M169.6 60.1h.01M177.1 97.2h.01M173.2 64.7h.01M169.5 77.3h.01M167.8 91.3h.01M178.0 92.4h.01M177.6 100.2h.01M179.5 84.2h.01M184.8 64.6h.01M177.0 61.6h.01M177.0 86.4h.01M175.0 81.7h.01M176.1 69.1h.01M173.9 65.4h.01M171.1 73.5h.01M185.6 70.8h.01M166.3 73.7h.01M176.9 73.6h.01M177.8 91.2h.01M176.3 78.4h.01M170.8 95.4h.01M174.6 80.2h.01M173.3 70.9h.01M170.2 98.8h.01M175.3 86.8h.01M173.5 95.2h.01M172.8 68.4h.01M179.0 100.9h.01M170.2 86.0h.01M177.7 74.6h.01M172.5 69.1h.01M177.7 62.4h.01M175.9 59.5h.01M176.7 66.7h.01M170.6 71.7h.01M171.6 81.4h.01M171.2 75.6h.01M176.4 60.1h.01M179.2 64.5h.01M180.9 58.9h.01M173.0 59.9h.01M175.9 71.2h.01M167.4 86.2h.01M164.4 64.8h.01M171.1 97.0h.01M172.1 101.5h.01M167.7 85.2h.01M166.6 60.2h.01M178.1 66.1h.01M171.4 80.6h.01M167.1 99.2h.01M187.0 101.3h.01M176.3 90.5h.01M173.8 97.3h.01M178.8 62.4h.01M171.6 80.4h.01M183.3 79.1h.01M167.7 67.6h.01M168.9 82.9h.01M174.7 82.9h.01M171.6 100.8h.01M182.4 61.0h.01M167.4 71.3h.01M171.7 65.6h.01M176.6 67.9h.01M178.2 72.1h.01M180.4 74.3h.01M177.1 100.2h.01M186.3 72.5h.01M173.0 79.4h.01M176.2 65.4h.01M179.6 67.8h.01M173.8 67.6h.01M173.9 83.1h.01M173.0 71.3h.01M172.1 70.3h.01M169.7 81.1h.01M172.6 58.8h.01M167.6 96.1h.01M177.2 60.4h.01M167.4 76.2h.01M185.6 101.6h.01M183.8 65.5h.01M180.8 60.1h.01M174.2 79.5h.01M172.4 85.8h.01M181.4 74.9h.01M176.2 67.8h.01M178.1 88.5h.01M171.7 84.0h.01M180.6 73.4h.01M171.3 85.2h.01M175.8 95.1h.01M166.7 80.7h.01M172.0 75.2h.01M177.8 85.2h.01M173.0 80.3h.01M173.0 62.4h.01M179.2 97.8h.01M174.9 63.6h.01M181.4 90.8h.01M163.2 77.2h.01M178.1 92.6h.01M177.8 81.1h.01M167.6 94.2h.01M168.8 78.8h.01M179.6 69.0h.01M169.9 92.0h.01M172.1 94.5h.01M178.2 80.2h.01M173.6 99.0h.01M177.6 89.2h.01M170.9 99.1h.01M176.7 66.7h.01M180.6 99.6h.01M176.9 91.9h.01M164.3 99.6h.01M178.5 73.5h.01M175.5 82.6h.01M170.7 97.5h.01M182.2 87.7h.01M166.6 70.8h.01M184.6 70.8h.01M172.1 99.7h.01M183.1 87.6h.01M175.0 60.4h.01M168.6 69.5h.01M175.7 82.6h.01M176.9 66.4h.01M177.9 78.6h.01M180.5 87.5h.01M170.8 61.8h.01M177.7 69.3h.01M178.9 96.9h.01M173.9 59.9h.01M170.6 63.0h.01M170.5 94.2h.01M179.0 87.9h.01M179.2 78.8h.01M171.1 95.9h.01M168.6 67.3h.01M181.4 58.3h.01M167.5 93.8h.01M176.0 86.2h.01M171.2 72.9h.01M166.5 83.6h.01M175.8 61.7h.01M174.3 71.9h.01M182.4 83.1h.01M186.5 95.3h.01M174.3 72.0h.01M180.3 60.8h.01M180.4 62.0h.01M172.6 71.6h.01M170.9 85.7h.01M183.2 89.1h.01M173.4 88.7h.01M175.1 96.6h.01M173.8 88.1h.01M174.6 87.6h.01M172.2 84.2h.01M178.9 87.4h.01M181.5 90.2h.01M173.4 101.0h.01M168.4 66.0h.01M175.5 86.4h.01M167.8 63.6h.01M172.0 67.2h.01M181.3 98.9h.01M186.8 75.9h.01M177.1 83.1h.01M169.9 67.4h.01M179.1 80.5h.01M164.0 59.2h.01M171.8 83.7h.01M182.8 100.1h.01M178.9 88.3h.01M168.4 87.4h.01M166.9 82.5h.01M179.5 72.2h.01M175.0 92.1h.01M172.3 75.2h.01M177.3 72.9h.01M172.4 82.2h.01M165.7 101.0h.01M179.2 90.4h.01M172.0 87.8h.01M170.2 63.7h.01M168.6 93.7h.01M176.5 76.7h.01M171.2 85.8h.01M178.3 82.8h.01M173.9 92.7h.01M180.6 59.5h.01M173.3 62.4h.01M172.0 70.5h.01M165.4 67.0h.01M169.8 88.1h.01M178.8 63.2h.01M190.4 62.2h.01M169.0 81.4h.01M170.1 61.0h.01M176.9 93.0h.01M177.6 72.6h.01M171.9 71.4h.01M175.6 84.4h.01M167.2 101.1h.01M173.7 70.6h.01M179.7 68.0h.01M183.4 74.3h.01M174.4 92.4h.01M173.9 99.2h.01M177.5 64.9h.01M180.7 59.4h.01M177.6 71.6h.01M171.5 72.2h.01M177.0 91.0h.01M180.0 88.0h.01M171.7 91.0h.01M168.6 75.4h.01M177.8 77.0h.01M177.0 99.5h.01M180.0 60.2h.01M175.7 59.0h.01M172.0 58.8h.01M173.1 94.0h.01M170.1 80.9h.01M170.5 88.7h.01M172.4 86.9h.01M172.8 93.9h.01M180.8 81.4h.01M169.1 72.6h.01M175.0 63.0h.01M172.3 76.2h.01M182.6 66.7h.01M176.5 98.9h.01M173.4 91.7h.01M179.3 70.6h.01M175.6 80.6h.01M172.9 78.8h.01M182.9 84.7h.01M178.8 99.8h.01M183.9 70.2h.01M181.0 85.1h.01M179.1 80.3h.01M175.9 100.1h.01M169.9 67.7h.01M178.8 86.6h.01M175.6 62.1h.01M178.6 82.0h.01M175.2 100.3h.01M171.8 89.8h.01M170.3 59.5h.01M178.8 101.4h.01M181.7 81.8h.01M173.8 83.6h.01M177.5 99.7h.01M182.2 83.8h.01M171.1 67.8h.01M173.6 77.0h.01M169.7 91.1h.01M181.1 75.5h.01M176.6 65.5h.01M173.0 75.2h.01M167.1 62.6h.01M174.4 62.5h.01M180.2 63.4h.01M173.8 80.5h.01M173.2 72.2h.01M178.5 66.0h.01M169.2 90.6h.01M175.6 85.0h.01M178.3 94.2h.01M171.4 65.2h.01M171.2 85.4h.01M176.5 69.7h.01M174.8 79.9h.01M174.1 77.7h.01M176.3 83.8h.01M176.4 83.2h.01M170.7 98.5h.01M172.0 85.6h.01M177.5 73.6h.01M180.9 93.1h.01M182.0 65.2h.01M171.1 92.2h.01M180.7 83.5h.01M179.1 69.5h.01M175.2 91.2h.01M177.7 63.1h.01M179.4 59.7h.01M184.2 70.1h.01M170.1 80.3h.01M178.3 85.9h.01M174.6 71.9h.01M174.3 83.6h.01M181.0 101.2h.01M179.4 102.0h.01M170.3 89.8h.01M173.9 71.4h.01M176.5 79.1h.01M168.3 93.6h.01M179.6 97.1h.01M175.0 100.0h.01M176.1 75.2h.01M177.0 73.0h.01M184.3 72.9h.01M175.5 92.6h.01M173.6 100.2h.01M184.0 82.9h.01M172.9 77.6h.01M172.7 87.4h.01M168.5 76.7h.01M180.7 83.2h.01M176.7 66.4h.01M177.7 62.5h.01M176.2 75.9h.01M174.7 69.9h.01M171.5 64.8h.01M171.5 100.6h.01M177.5 88.7h.01M176.0 75.2h.01M183.4 101.7h.01M171.6 62.8h.01M172.9 73.4h.01M170.3 97.0h.01M182.2 100.7h.01M169.3 93.0h.01M179.2 66.3h.01M182.5 83.0h.01M174.7 61.2h.01M178.9 60.9h.01M164.8 96.1h.01M173.4 58.2h.01M167.2 62.4h.01M176.2 62.8h.01M175.4 89.4h.01M171.6 85.8h.01M180.0 67.6h.01M177.1 76.1h.01M172.8 100.0h.01M172.8 67.4h.01M168.1 61.1h.01M174.5 86.6h.01M185.8 62.9h.01M171.9 82.6h.01M177.4 69.3h.01M172.7 59.5h.01M179.3 87.1h.01M177.5 91.2h.01M174.2 71.9h.01M166.6 65.1h.01M172.8 101.1h.01M181.3 68.9h.01M174.2 68.9h.01M178.5 74.2h.01M173.0 68.7h.01M166.2 68.9h.01M177.5 98.8h.01M177.0 61.7h.01M172.5 94.8h.01M173.5 81.6h.01M176.8 59.7h.01M172.4 64.7h.01M177.1 87.0h.01M174.4 82.7h.01M163.7 68.7h.01M174.7 70.9h.01M172.4 98.9h.01M171.2 90.5h.01M177.4 87.2h.01M173.0 98.8h.01M178.0 68.3h.01M180.8 72.6h.01M176.1 95.0h.01M167.7 77.5h.01M171.8 77.8h.01M179.9 93.7h.01M174.1 102.1h.01M171.4 97.2h.01M174.9 92.0h.01M177.9 77.7h.01M176.7 89.2h.01M178.6 68.0h.01M171.3 69.3h.01M174.0 67.1h.01M174.1 88.1h.01M175.3 99.8h.01M165.0 91.3h.01M174.2 69.8h.01M168.8 87.2h.01M182.3 73.5h.01M183.1 94.4h.01M183.7 79.5h.01M179.4 69.1h.01M173.0 70.9h.01M180.1 61.9h.01M174.4 74.0h.01M178.4 73.0h.01M170.9 78.3h.01M172.5 87.0h.01M177.7 99.0h.01M184.2 94.1h.01M175.3 83.3h.01M186.5 74.0h.01M189.0 65.6h.01M169.1 84.1h.01M175.3 60.9h.01M170.7 60.5h.01M174.7 86.4h.01M172.8 65.3h.01M175.1 95.4h.01M180.2 87.6h.01M180.1 81.2h.01M176.7 99.3h.01M175.4 63.9h.01M176.0 71.7h.01M176.0 80.4h.01M178.3 100.6h.01M175.4 61.6h.01M177.9 84.6h.01M168.9 98.6h.01M179.3 64.5h.01M184.1 89.1h.01M176.3 88.5h.01M168.4 74.0h.01M182.1 81.7h.01M173.8 99.3h.01M160.6 78.7h.01M174.3 78.2h.01M178.4 82.9h.01M177.3 59.5h.01M181.6 93.7h.01M178.5 60.4h.01M176.0 101.2h.01M165.7 100.8h.01M169.9 94.1h.01M176.3 97.5h.01M178.8 85.2h.01M170.4 71.6h.01M172.4 84.7h.01M177.8 88.0h.01M166.0 64.3h.01M165.8 92.2h.01M174.3 71.5h.01M176.7 80.7h.01M173.1 69.8h.01M164.1 70.5h.01M175.6 96.7h.01M168.9 92.0h.01M178.7 60.9h.01M174.9 92.0h.01M176.7 98.8h.01M178.6 89.1h.01M172.8 88.6h.01M179.5 69.7h.01M181.6 88.9h.01M177.4 74.8h.01M182.0 98.7h.01M172.3 89.1h.01M180.0 72.3h.01M176.8 97.0h.01M170.6 92.2h.01M150.9 81.5h.01M151.2 82.5h.01M146.8 65.2h.01M163.4 66.5h.01M148.4 67.0h.01M152.6 63.0h.01M162.7 84.1h.01M153.2 71.1h.01M152.8 76.8h.01M148.0 73.5h.01M147.6 57.0h.01M159.1 56.4h.01M149.5 58.8h.01M167.7 70.0h.01M147.1 74.2h.01M153.4 86.0h.01M150.5 82.9h.01M166.3 77.7h.01M163.0 66.4h.01M149.0 65.1h.01M147.7 76.4h.01M148.3 65.2h.01M162.8 78.6h.01M162.9 77.4h.01M160.4 57.9h.01M157.3 79.8h.01M156.7 57.1h.01M159.6 64.3h.01M148.9 85.3h.01M164.0 74.9h.01M163.6 81.5h.01M161.5 83.8h.01M151.7 62.6h.01M151.2 79.6h.01M168.1 66.0h.01M167.4 56.2h.01M163.0 57.5h.01M163.8 58.1h.01M156.6 74.3h.01M165.8 74.6h.01M161.7 81.2h.01M156.1 63.5h.01M161.5 78.5h.01M148.3 62.6h.01M155.2 64.1h.01M165.1 75.1h.01M157.1 66.7h.01M158.7 86.0h.01M158.8 64.2h.01M167.2 61.7h.01M150.9 82.2h.01M161.5 82.0h.01M156.4 59.3h.01M151.7 64.9h.01M147.6 70.4h.01M159.9 56.2h.01M150.5 66.0h.01M159.3 78.7h.01M156.0 78.7h.01M155.4 58.9h.01M166.0 63.8h.01M148.5 62.7h.01M158.8 76.0h.01M155.6 58.3h.01M149.8 85.7h.01M155.2 57.8h.01M165.6 71.0h.01M150.9 76.6h.01M161.5 84.4h.01M152.4 73.8h.01M157.9 81.5h.01M158.6 71.1h.01M148.1 61.2h.01M164.3 67.6h.01M154.8 73.5h.01M151.1 71.1h.01M151.1 79.1h.01M168.2 71.4h.01M167.2 66.4h.01M156.8 70.6h.01M152.5 70.7h.01M162.1 54.4h.01M147.7 64.6h.01M165.4 72.4h.01M146.6 76.9h.01M147.6 67.8h.01M153.9 78.0h.01M156.5 70.2h.01M146.6 65.9h.01M152.8 61.9h.01M168.1 79.6h.01M163.5 83.6h.01M147.8 77.4h.01M165.8 61.2h.01M156.7 76.7h.01M168.3 70.3h.01M153.6 83.7h.01M153.3 54.3h.01M161.4 78.8h.01M157.2 69.0h.01M152.6 81.5h.01M158.0 73.5h.01M160.5 54.3h.01M153.4 76.2h.01M164.6 71.2h.01M163.0 61.8h.01M163.1 58.0h.01M161.0 66.8h.01M151.6 72.0h.01M162.0 69.4h.01M150.3 54.6h.01M149.6 58.8h.01M157.6 75.9h.01M150.3 71.6h.01M149.3 77.9h.01M159.5 67.4h.01M168.0 62.3h.01M147.7 79.6h.01M156.3 61.1h.01M148.5 56.0h.01M158.4 65.9h.01M159.1 68.5h.01M157.3 60.8h.01M147.4 84.7h.01M161.9 61.5h.01M157.7 58.0h.01M159.1 75.3h.01M161.2 58.7h.01M166.4 63.1h.01M156.1 67.3h.01M166.6 62.9h.01M150.4 75.0h.01M156.5 58.6h.01M150.4 74.7h.01M154.7 57.8h.01M166.4 72.7h.01M168.0 85.4h.01M156.9 79.3h.01M152.6 84.4h.01M153.6 71.6h.01M166.3 59.2h.01M156.1 65.9h.01M150.9 78.9h.01M164.9 58.3h.01M157.7 75.4h.01M155.9 64.4h.01M166.4 83.5h.01M162.9 65.3h.01M146.8 64.4h.01M167.8 62.8h.01M156.5 71.4h.01M150.5 84.6h.01M166.5 71.4h.01M155.7 77.8h.01M161.6 70.8h.01M163.0 56.7h.01M150.8 72.9h.01M168.1 73.1h.01M158.9 73.2h.01M147.8 63.7h.01M158.3 62.6h.01M146.9 64.6h.01M168.0 55.1h.01M161.2 59.3h.01M154.8 63.3h.01M164.1 70.5h.01M164.0 83.3h.01M161.9 76.5h.01M151.7 70.6h.01M148.5 77.0h.01M168.8 91.1h.01M170.8 91.4h.01M178.1 94.5h.01M177.5 86.8h.01M176.0 92.1h.01M182.2 91.5h.01M172.6 89.8h.01M172.1 95.5h.01M172.1 86.1h.01M185.1 90.4h.01M162.6 88.1h.01M175.9 94.6h.01M176.8 89.9h.01M174.6 92.3h.01M187.5 93.9h.01M180.9 84.6h.01M178.7 94.2h.01M169.2 88.6h.01M177.1 90.9h.01M172.2 91.6h.01M174.6 95.9h.01M175.5 95.5h.01M171.6 100.3h.01M177.9 92.9h.01M183.6 89.9h.01M180.2 89.8h.01M175.6 95.2h.01M163.4 99.6h.01M180.5 93.7h.01M180.5 89.4h.01M173.3 93.4h.01M171.7 93.3h.01M178.1 92.3h.01M169.8 88.6h.01M178.9 80.2h.01M168.3 89.6h.01M169.2 97.0h.01M174.5 93.1h.01M166.2 81.8h.01M174.4 92.1h.01M177.4 83.5h.01M167.0 101.4h.01M179.6 93.0h.01M171.3 86.5h.01M177.5 95.8h.01M175.6 88.4h.01M171.9 94.7h.01M171.5 92.2h.01M164.8 86.6h.01M170.5 95.2h.01M170.1 85.8h.01M183.7 98.4h.01M180.2 92.4h.01M166.7 87.3h.01M179.0 83.6h.01M175.7 99.6h.01M172.3 98.9h.01M177.1 86.2h.01M178.9 99.8h.01M171.3 92.9h.01M172.9 91.1h.01M175.4 91.7h.01M168.9 90.8h.01M175.5 98.8h.01M174.0 92.8h.01M170.6 83.5h.01M169.7 101.9h.01M176.2 96.2h.01M179.4 87.0h.01M176.3 90.4h.01M169.7 87.9h.01M178.7 92.3h.01M175.4 93.9h.01M177.8 93.2h.01M181.0 89.3h.01M169.4 88.4h.01M173.7 96.1h.01M171.1 91.6h.01M169.6 102.6h.01M185.7 88.3h.01M179.8 95.8h.01M164.6 92.3h.01M176.9 88.6h.01M171.4 98.5h.01M180.9 92.7h.01M175.0 87.9h.01M173.5 90.6h.01M175.3 96.9h.01M176.6 86.4h.01M174.7 98.5h.01" stroke="#333" stroke-opacity="0.25" stroke-width="0.80" stroke-linecap="round" fill="none"/>
<path d="M157.3 89.7h.01M153.3 88.5h.01M169.9 88.9h.01M159.0 90.8h.01M165.6 88.5h.01M153.9 89.1h.01M157.2 88.1h.01M166.0 87.8h.01M156.5 91.0h.01M163.1 90.7h.01M156.3 88.4h.01M157.9 88.5h.01M162.4 89.0h.01M162.8 90.8h.01M155.7 88.5h.01M155.5 89.7h.01M156.6 87.1h.01M159.3 88.1h.01M154.5 90.4h.01M171.3 91.8h.01M156.9 88.4h.01M159.7 88.8h.01M161.2 91.2h.01M164.8 89.2h.01M161.4 89.1h.01M153.1 90.5h.01M153.0 90.2h.01M157.5 91.4h.01M156.3 91.0h.01M164.9 88.9h.01M154.2 89.8h.01M155.8 89.9h.01M158.7 88.0h.01M168.3 88.0h.01M157.3 91.2h.01M165.9 87.0h.01M153.5 91.1h.01M160.0 90.4h.01M156.8 89.8h.01M155.4 90.6h.01M157.6 90.6h.01M159.3 91.7h.01M154.2 89.5h.01M155.8 89.7h.01M176.1 89.3h.01M158.4 92.6h.01M153.4 91.0h.01M156.1 88.8h.01M169.6 89.2h.01M162.8 88.8h.01M153.8 90.0h.01M164.3 90.3h.01M155.5 92.8h.01M158.7 87.4h.01M154.7 91.2h.01M155.1 90.5h.01M169.1 88.5h.01M163.6 89.7h.01M166.4 89.0h.01M156.7 90.0h.01M153.3 91.1h.01M153.3 88.3h.01M155.0 91.5h.01M155.5 89.5h.01M156.7 91.9h.01M156.2 90.5h.01M160.6 91.8h.01M160.6 90.8h.01M154.3 91.2h.01M156.9 90.0h.01M153.8 89.0h.01M155.0 90.8h.01M154.5 90.8h.01M157.0 92.7h.01M162.9 86.6h.01M159.4 89.7h.01M154.2 91.2h.01M154.1 88.5h.01M158.5 89.6h.01M160.4 93.1h.01M154.5 91.6h.01M153.3 89.0h.01M153.2 91.6h.01M156.5 91.5h.01M154.2 90.9h.01M156.1 90.4h.01M153.9 90.2h.01M158.5 88.7h.01M156.4 89.3h.01M153.6 90.8h.01M155.5 90.1h.01M155.6 92.3h.01M160.3 89.5h.01M157.1 86.8h.01M155.8 89.5h.01M156.0 90.3h.01M153.3 90.4h.01M158.5 90.1h.01M156.2 88.9h.01M156.4 91.9h.01M154.9 89.2h.01M157.9 90.9h.01M176.9 89.2h.01M153.5 88.6h.01M156.0 91.8h.01M153.6 87.1h.01M155.8 88.9h.01M164.7 90.7h.01M156.8 89.5h.01M153.3 90.8h.01M159.7 89.8h.01M153.8 89.5h.01M157.5 92.9h.01M162.6 89.6h.01M158.0 89.7h.01M157.3 88.5h.01M161.0 88.8h.01M157.6 90.8h.01M154.9 90.7h.01M154.4 90.0h.01M154.7 89.1h.01M168.1 91.3h.01M157.3 87.7h.01M154.1 89.6h.01M159.6 89.6h.01M167.1 88.4h.01M157.8 90.2h.01M159.1 89.0h.01M155.9 89.0h.01M157.9 92.4h.01M156.1 90.9h.01M155.4 91.5h.01M154.7 90.0h.01M157.0 91.3h.01M160.7 91.2h.01M155.1 91.5h.01M156.6 93.1h.01M153.3 89.7h.01M177.8 90.6h.01M156.8 89.9h.01M153.7 86.0h.01M168.5 87.3h.01M159.4 90.0h.01M156.0 90.8h.01M155.1 89.3h.01M167.3 92.1h.01M155.0 91.5h.01M158.5 89.4h.01M156.6 91.8h.01M161.0 92.7h.01M157.4 90.6h.01M154.3 88.8h.01M157.3 92.0h.01M160.4 89.7h.01M154.4 89.6h.01M154.0 90.1h.01M168.5 88.9h.01M156.4 91.4h.01M159.6 91.1h.01M159.2 91.8h.01M161.6 90.9h.01M163.6 88.7h.01M156.5 89.8h.01M157.7 91.2h.01M153.8 89.5h.01M153.1 93.2h.01M153.7 89.7h.01M153.3 89.3h.01M154.5 91.4h.01M157.3 91.0h.01M153.6 90.0h.01M157.3 89.7h.01M153.9 90.5h.01M153.2 90.9h.01M163.9 91.3h.01M154.2 89.6h.01M154.6 90.5h.01M166.2 91.5h.01M154.8 90.9h.01M159.4 85.5h.01M157.7 88.8h.01M156.9 89.0h.01M155.4 89.7h.01M158.4 90.3h.01M155.2 91.1h.01M153.8 90.7h.01M155.8 89.8h.01M170.2 90.0h.01M160.5 92.7h.01M154.9 89.3h.01M156.9 90.4h.01M158.3 92.2h.01M154.6 90.4h.01M153.3 87.7h.01M166.2 90.7h.01M157.3 89.5h.01M155.4 89.9h.01M158.9 91.5h.01M157.0 90.6h.01M154.1 89.7h.01M153.0 91.0h.01M156.8 90.6h.01M159.3 90.2h.01M159.5 90.4h.01M155.2 90.3h.01M167.1 89.4h.01M173.2 89.0h.01M165.6 90.0h.01M154.1 88.9h.01M156.4 88.4h.01M154.0 91.5h.01M154.9 89.7h.01M158.2 90.0h.01M154.9 89.8h.01M166.7 90.0h.01M155.7 90.0h.01M161.4 90.1h.01M155.7 89.0h.01M155.4 91.1h.01M163.2 88.9h.01M154.8 91.2h.01M158.1 87.4h.01M155.0 88.7h.01M156.7 91.3h.01M156.9 89.8h.01M158.3 89.1h.01M158.6 90.5h.01M154.6 88.8h.01M157.9 90.1h.01M162.9 86.4h.01M159.8 89.3h.01M157.8 89.1h.01M158.9 90.8h.01M153.8 91.0h.01M157.5 88.8h.01M156.7 92.1h.01M164.2 89.0h.01M153.1 87.7h.01M160.0 86.5h.01M156.9 92.0h.01M153.7 89.9h.01M164.3 88.9h.01M157.6 89.0h.01M164.3 88.1h.01M159.2 92.0h.01M166.1 89.8h.01M157.0 92.4h.01M157.1 89.7h.01M160.1 86.5h.01M161.0 91.3h.01M162.0 89.4h.01M156.2 89.7h.01M159.9 92.3h.01M176.0 89.4h.01M157.7 91.6h.01M158.4 90.0h.01M158.4 89.0h.01M155.0 90.6h.01M157.3 89.2h.01M154.8 91.5h.01M176.8 54.5h.01M174.4 58.2h.01M180.0 53.7h.01M178.0 57.3h.01M176.8 57.7h.01M177.4 50.5h.01M182.7 52.1h.01M176.5 54.4h.01M182.7 53.8h.01M181.2 56.5h.01M177.2 49.8h.01M180.0 57.8h.01M176.6 57.8h.01M174.2 55.1h.01M176.1 51.5h.01M173.9 55.6h.01M178.7 54.0h.01M177.1 57.3h.01M178.9 55.3h.01M179.8 57.8h.01M166.4 54.3h.01M178.1 59.9h.01M170.9 48.7h.01M177.6 52.6h.01M174.0 57.1h.01M177.4 51.1h.01M181.6 57.8h.01M171.2 51.9h.01M177.6 55.9h.01M176.7 52.9h.01M170.6 54.3h.01M179.2 56.1h.01M177.1 55.3h.01M175.3 54.5h.01M174.5 62.1h.01M187.9 55.6h.01M175.7 52.7h.01M170.9 58.4h.01M173.8 58.1h.01M175.8 59.3h.01M175.7 61.0h.01M176.7 52.8h.01M173.4 58.8h.01M178.8 59.0h.01M175.4 55.6h.01M172.4 56.3h.01M174.2 46.6h.01M175.7 53.9h.01M179.9 61.0h.01M178.6 50.2h.01M175.9 54.0h.01M177.1 56.5h.01M177.7 57.3h.01M183.9 60.5h.01M174.9 50.3h.01M178.6 55.7h.01M179.5 58.2h.01M173.8 51.7h.01M177.6 55.5h.01M177.6 61.3h.01M175.4 59.5h.01M178.9 57.2h.01M180.5 47.8h.01M180.8 55.2h.01M176.3 56.8h.01M177.6 54.7h.01M185.0 55.4h.01M173.2 64.9h.01M177.8 55.0h.01M180.0 52.7h.01M177.5 56.3h.01M179.2 54.7h.01M177.6 54.7h.01M179.6 55.3h.01M181.4 57.9h.01M176.2 56.3h.01M177.7 52.0h.01M176.8 55.2h.01M175.6 57.0h.01M176.9 54.2h.01M173.2 59.0h.01M179.5 57.9h.01M182.8 52.6h.01M182.8 56.6h.01M181.3 61.6h.01M173.7 60.3h.01M182.2 55.4h.01M174.6 58.3h.01M176.8 53.6h.01M183.3 51.3h.01M173.4 57.3h.01M179.9 56.3h.01M178.0 57.1h.01M176.5 55.5h.01M174.0 56.6h.01M178.4 54.1h.01M175.4 57.0h.01M180.6 58.1h.01M181.2 55.4h.01M172.3 58.0h.01M175.3 50.3h.01M175.9 53.2h.01M173.0 59.9h.01M173.2 60.9h.01M177.3 56.4h.01M176.3 55.3h.01M171.4 51.8h.01M175.2 56.7h.01M178.8 57.9h.01M172.9 51.2h.01M173.9 57.3h.01M182.4 57.1h.01M181.5 56.9h.01M171.5 52.2h.01M172.4 57.2h.01M178.3 51.1h.01M172.9 60.1h.01M176.1 56.0h.01M175.5 52.1h.01M178.9 59.6h.01M168.4 59.1h.01M169.5 53.6h.01M172.8 62.2h.01M180.4 52.6h.01M176.5 56.5h.01M171.2 59.1h.01M178.7 48.8h.01M179.4 58.6h.01M176.2 55.4h.01M175.9 55.6h.01M178.5 52.4h.01M181.1 56.6h.01M177.5 52.3h.01M178.8 52.7h.01M176.8 54.3h.01M175.7 51.9h.01M173.9 60.3h.01M177.9 51.6h.01M176.0 53.3h.01M176.2 54.7h.01M180.2 55.6h.01M178.7 58.0h.01M180.0 58.1h.01M171.6 54.7h.01M178.9 54.4h.01M175.0 55.7h.01M174.3 58.1h.01M174.1 57.7h.01M181.1 54.1h.01M179.8 49.4h.01M174.6 62.0h.01M173.1 58.5h.01M177.0 56.4h.01M175.4 56.6h.01M182.6 54.0h.01M172.0 52.6h.01M170.8 54.6h.01M176.1 54.9h.01M177.0 53.7h.01M177.5 51.2h.01M179.6 54.7h.01M184.0 57.3h.01M175.8 54.1h.01M175.1 55.7h.01M171.0 49.4h.01M177.8 55.0h.01M179.9 55.2h.01M176.1 51.9h.01M181.0 50.4h.01M177.1 56.8h.01M182.2 53.2h.01M178.1 57.1h.01M173.4 54.3h.01M174.8 57.5h.01M171.8 54.6h.01M171.1 51.1h.01M177.9 55.3h.01M180.0 54.6h.01M183.6 57.6h.01M176.8 54.2h.01M176.2 54.4h.01M173.2 58.2h.01M180.4 59.1h.01M178.3 57.9h.01M175.0 58.7h.01M179.3 57.0h.01M178.9 57.9h.01M170.6 58.2h.01M179.5 56.8h.01M177.5 55.8h.01M175.7 56.0h.01M175.6 62.8h.01M182.9 55.6h.01M182.2 54.9h.01M183.2 54.5h.01M173.1 55.5h.01M174.8 56.3h.01M180.1 52.2h.01M172.9 49.7h.01M174.6 56.5h.01M170.9 50.8h.01M183.3 56.4h.01M180.6 56.0h.01M178.6 59.1h.01M177.7 60.6h.01M175.6 56.7h.01M175.6 53.9h.01M179.1 52.1h.01M174.6 53.2h.01M181.2 55.7h.01M175.3 49.4h.01M174.0 55.8h.01M181.4 55.6h.01M176.5 57.5h.01M178.9 54.6h.01M175.6 55.9h.01M169.3 53.4h.01M178.9 54.2h.01M172.4 50.3h.01M180.7 56.0h.01M171.7 60.2h.01M170.7 56.1h.01M178.0 56.7h.01M178.4 52.7h.01M177.4 59.9h.01M172.9 53.3h.01M180.0 58.0h.01M172.0 55.9h.01M175.4 52.7h.01M174.3 58.7h.01" stroke="#222" stroke-opacity="0.4" stroke-width="0.90" stroke-linecap="round" fill="none"/>
<path d="M146.9 89.8h.01M148.8 89.8h.01M149.1 88.8h.01M148.5 89.8h.01M148.5 90.4h.01M151.7 89.9h.01M145.0 88.6h.01M150.8 87.5h.01M153.2 89.4h.01M149.3 89.9h.01M149.3 89.4h.01M150.5 89.3h.01M152.4 89.0h.01M147.3 90.5h.01M149.4 89.6h.01M149.0 89.8h.01M150.3 88.7h.01M149.6 89.0h.01M150.4 89.9h.01M148.6 88.6h.01M149.4 88.4h.01M148.2 89.4h.01M148.2 91.0h.01M149.1 89.9h.01M149.1 91.2h.01M147.3 89.6h.01M152.0 89.4h.01M149.1 88.2h.01M146.9 89.1h.01M151.2 91.2h.01M148.0 90.0h.01M150.2 90.5h.01M149.3 90.4h.01M149.7 89.7h.01M149.6 89.5h.01M148.3 89.8h.01M149.4 90.4h.01M152.8 90.2h.01M145.5 90.2h.01M149.4 89.9h.01M150.0 88.9h.01M147.5 89.4h.01M147.0 88.7h.01M153.0 90.8h.01M148.7 87.5h.01M152.8 89.5h.01M150.2 92.2h.01M149.4 89.3h.01M150.1 88.5h.01M150.4 89.7h.01M151.3 91.1h.01M150.0 89.5h.01M149.5 90.3h.01M149.6 89.8h.01M151.6 89.3h.01M150.7 93.0h.01M147.6 89.8h.01M148.2 89.1h.01M149.9 89.2h.01M148.2 90.1h.01M148.7 90.1h.01M147.7 90.5h.01M148.9 89.8h.01M150.0 88.2h.01M151.0 90.3h.01M149.3 89.4h.01M152.8 89.4h.01M149.2 88.1h.01M154.7 89.1h.01M151.0 88.9h.01M150.1 89.7h.01M148.5 88.2h.01M144.5 89.8h.01M149.0 89.8h.01M149.6 88.5h.01M152.6 89.0h.01M147.0 88.8h.01M152.5 90.7h.01M148.9 87.0h.01M150.5 89.3h.01M145.0 88.0h.01M149.5 89.2h.01M148.7 90.6h.01M150.5 89.0h.01M149.5 89.8h.01M147.4 88.8h.01M150.9 91.7h.01M150.5 90.7h.01M150.3 90.9h.01M151.0 88.3h.01M151.2 88.5h.01M149.3 90.8h.01M147.0 89.5h.01M146.9 89.4h.01M151.6 90.1h.01M150.5 88.4h.01M149.5 90.5h.01M148.6 89.7h.01M149.4 90.2h.01M149.3 89.0h.01M148.7 90.2h.01M148.1 89.0h.01M153.0 90.7h.01M149.7 90.9h.01M148.3 90.7h.01M147.1 90.2h.01M148.1 90.4h.01M150.5 86.9h.01M150.6 90.6h.01M148.9 89.4h.01M149.4 89.8h.01M148.8 89.4h.01M147.4 88.2h.01M151.5 89.1h.01M149.9 90.4h.01M153.5 91.2h.01M148.0 89.0h.01M149.1 88.8h.01M150.8 91.2h.01M148.9 88.8h.01M146.9 91.9h.01M147.7 89.8h.01M149.5 88.8h.01M149.9 90.7h.01M149.1 91.5h.01M151.0 88.2h.01M151.0 91.3h.01M149.8 89.4h.01M149.3 91.3h.01M148.9 89.3h.01M150.2 88.0h.01M150.9 90.2h.01M149.4 90.7h.01M150.1 91.9h.01M148.7 91.5h.01M146.9 90.4h.01M147.6 89.5h.01M150.6 89.2h.01M150.1 89.4h.01M152.0 88.8h.01M149.4 89.4h.01M150.8 87.0h.01M151.5 89.9h.01M151.0 89.7h.01M148.3 92.4h.01M149.0 90.5h.01M149.5 89.2h.01M147.6 90.3h.01M150.1 88.4h.01M151.0 89.1h.01M148.5 87.7h.01M152.7 91.2h.01M148.8 90.3h.01M149.0 88.5h.01M148.9 89.6h.01M148.1 90.7h.01M150.0 90.2h.01M149.3 90.1h.01M152.1 88.8h.01M150.3 89.0h.01M150.2 89.8h.01M148.9 90.7h.01M146.9 88.8h.01M149.1 88.5h.01M147.9 90.9h.01M150.9 88.7h.01M149.2 90.8h.01M152.1 90.0h.01M150.6 90.6h.01M150.7 91.5h.01M149.7 90.4h.01M149.7 90.5h.01M150.4 88.7h.01M150.9 89.0h.01M148.1 90.4h.01M150.1 91.3h.01M153.8 91.2h.01M149.1 92.1h.01M148.9 90.0h.01M148.1 89.9h.01M146.8 90.8h.01M151.3 89.7h.01M149.4 89.6h.01M149.8 88.6h.01M152.4 90.7h.01M153.6 88.6h.01M147.8 90.2h.01M151.1 88.2h.01M150.4 90.9h.01M150.0 88.6h.01M150.1 90.6h.01M149.3 88.0h.01M152.0 89.2h.01M150.3 90.9h.01M149.9 88.9h.01M151.4 89.8h.01M150.8 89.2h.01M150.1 87.3h.01M149.9 90.0h.01M152.3 90.2h.01M150.2 88.5h.01M149.2 90.3h.01M147.8 88.9h.01M148.7 88.6h.01M147.5 89.7h.01M149.5 89.0h.01M149.7 92.1h.01M145.8 88.1h.01M149.3 90.5h.01M150.4 90.7h.01M149.6 87.6h.01M147.7 87.9h.01M151.5 90.3h.01M148.1 89.2h.01M147.2 90.1h.01M147.5 90.9h.01M149.3 89.3h.01M151.0 88.6h.01M151.3 86.8h.01M149.7 89.9h.01M147.3 88.7h.01M148.2 90.0h.01M147.8 89.9h.01M149.0 88.2h.01M146.3 91.5h.01M149.5 90.8h.01M150.4 90.6h.01M149.0 88.5h.01M150.1 89.3h.01M147.7 89.1h.01M146.8 89.3h.01M148.2 88.5h.01M151.3 90.2h.01M151.1 89.9h.01M148.5 90.1h.01M151.3 89.2h.01M148.7 91.1h.01M151.9 89.9h.01M150.1 86.8h.01M148.5 89.0h.01M150.7 89.6h.01M148.0 90.7h.01M147.7 89.4h.01M146.8 89.4h.01M149.7 89.0h.01M149.2 90.4h.01M149.2 89.2h.01M148.6 89.1h.01M151.7 88.9h.01M148.6 90.3h.01M148.1 89.1h.01M151.4 87.9h.01M151.7 90.4h.01M149.9 89.0h.01M146.3 90.1h.01M148.3 90.1h.01M150.3 91.0h.01M149.3 90.8h.01M151.9 89.1h.01M147.0 89.5h.01M150.5 88.3h.01M148.2 91.5h.01M151.5 90.2h.01M149.2 91.2h.01M151.1 89.4h.01M148.2 87.5h.01M146.9 91.3h.01M147.4 89.8h.01M148.3 89.8h.01M147.6 89.8h.01M151.3 90.4h.01M151.6 90.3h.01M149.8 88.0h.01M147.5 90.8h.01M149.1 89.1h.01M148.1 89.2h.01M151.8 91.5h.01M149.8 90.7h.01M150.1 89.3h.01M148.6 87.8h.01M145.9 89.9h.01M148.0 90.3h.01M147.4 89.6h.01M149.9 88.4h.01M149.5 88.9h.01M147.9 88.4h.01M148.6 89.9h.01M152.0 90.6h.01M147.7 90.8h.01M147.7 88.9h.01M148.9 89.9h.01M148.1 90.3h.01M148.6 89.2h.01M150.2 89.5h.01M152.2 91.9h.01M146.3 89.9h.01M149.3 90.6h.01M149.4 89.2h.01M149.2 89.7h.01M149.0 87.9h.01M148.7 89.7h.01M151.0 91.0h.01M148.5 91.9h.01M149.1 91.0h.01M149.3 90.4h.01M149.5 89.8h.01M149.0 89.1h.01M151.0 89.5h.01M149.3 90.3h.01M149.6 88.9h.01M149.2 90.7h.01M147.6 88.7h.01M147.9 87.8h.01M147.5 88.6h.01M149.6 88.0h.01M148.1 88.3h.01M147.5 90.9h.01M149.7 89.5h.01M150.2 89.9h.01M146.3 90.9h.01M152.2 91.0h.01M149.4 89.2h.01M149.1 91.1h.01M151.1 90.1h.01M149.4 89.7h.01M148.3 90.2h.01M153.0 88.2h.01M147.5 88.9h.01M149.1 89.6h.01M150.7 90.3h.01M147.5 89.3h.01M149.1 89.6h.01M150.0 90.7h.01M153.4 91.2h.01M147.8 90.5h.01M149.2 91.0h.01M150.4 89.3h.01M149.4 89.4h.01M147.3 90.0h.01M150.0 89.4h.01M149.5 89.2h.01M150.1 91.4h.01M151.2 89.5h.01M151.0 88.7h.01M150.0 90.2h.01M149.8 91.6h.01M147.4 89.8h.01M149.1 91.0h.01M149.7 89.2h.01M148.6 89.2h.01M149.5 89.0h.01M147.9 89.5h.01M151.9 91.6h.01M153.0 88.5h.01M148.6 91.4h.01M150.0 88.6h.01M148.9 89.5h.01M151.4 90.6h.01M150.0 90.4h.01M149.4 90.0h.01M148.9 88.0h.01M149.5 90.1h.01M147.6 88.6h.01M150.4 92.4h.01M148.1 89.5h.01M150.2 89.9h.01M149.5 88.5h.01M151.2 89.2h.01M149.3 88.3h.01M151.0 90.7h.01M147.7 89.4h.01M150.3 90.3h.01M148.9 89.0h.01M149.6 89.2h.01M149.4 91.1h.01M150.9 88.7h.01M145.9 87.8h.01M149.8 90.1h.01M146.8 88.5h.01M151.4 89.2h.01M145.9 90.7h.01M147.6 88.8h.01M146.5 90.6h.01M152.1 89.0h.01M147.1 91.3h.01M149.5 91.1h.01M148.4 89.2h.01M146.2 89.5h.01M148.7 88.8h.01M150.4 89.9h.01M149.0 90.9h.01M150.9 88.2h.01M148.7 90.7h.01M149.3 88.3h.01M148.6 88.8h.01M149.9 87.8h.01M152.5 91.9h.01M149.9 89.8h.01M149.6 90.0h.01M148.2 89.0h.01M148.0 90.8h.01M151.8 87.5h.01M147.4 89.7h.01M147.7 92.0h.01M149.1 89.3h.01M148.6 89.7h.01M152.6 90.4h.01M145.3 88.8h.01M149.9 89.7h.01M150.5 90.7h.01M147.4 89.9h.01M148.2 90.1h.01M150.0 89.3h.01M152.1 90.0h.01M147.7 89.8h.01M146.6 91.2h.01M151.0 90.5h.01M151.9 89.4h.01M148.7 87.1h.01M145.5 90.5h.01M151.8 90.5h.01M149.0 88.7h.01M151.2 87.6h.01M149.2 88.5h.01M148.7 90.7h.01M148.5 88.6h.01M151.8 89.2h.01M151.7 89.9h.01M145.7 91.0h.01M147.7 89.7h.01M152.3 89.6h.01M148.7 89.1h.01M147.0 91.4h.01M149.3 90.8h.01M149.1 89.6h.01M149.1 88.2h.01M148.5 88.9h.01M148.8 90.3h.01M148.5 88.9h.01M149.9 90.6h.01M147.9 90.1h.01M148.8 90.0h.01M149.1 90.4h.01M151.5 90.2h.01M149.9 88.8h.01M149.1 89.4h.01M150.2 92.2h.01M150.0 88.4h.01M151.1 89.2h.01M150.2 90.8h.01M152.3 89.5h.01M151.6 88.8h.01M149.2 88.3h.01M148.6 90.3h.01M150.8 90.8h.01M150.2 91.2h.01M149.1 89.8h.01M146.8 90.8h.01M146.2 88.6h.01M149.9 89.9h.01M150.6 89.0h.01M150.7 89.9h.01M147.1 90.5h.01M151.1 90.8h.01M148.4 88.7h.01M150.0 91.0h.01M150.0 89.2h.01M147.9 88.6h.01M148.3 89.5h.01M145.8 88.2h.01M147.7 89.7h.01M146.2 90.0h.01M150.0 89.5h.01M149.4 90.3h.01M150.9 89.4h.01M149.9 89.7h.01M148.2 88.2h.01M149.9 89.7h.01M148.6 88.8h.01M150.3 89.2h.01M149.8 89.6h.01M147.6 89.9h.01M149.3 88.0h.01M149.4 88.1h.01M148.8 89.4h.01M150.8 90.2h.01M152.2 90.1h.01M148.7 90.6h.01M148.7 91.1h.01M145.5 90.2h.01M149.1 89.7h.01M148.6 88.6h.01M145.6 88.7h.01M149.8 89.2h.01M150.3 90.0h.01M148.1 89.9h.01M148.7 89.7h.01M147.7 89.5h.01M150.6 90.4h.01M146.7 89.9h.01M148.8 90.0h.01M152.6 90.0h.01M149.4 89.1h.01M150.1 88.6h.01M149.1 90.2h.01M147.3 90.1h.01M149.2 89.5h.01M150.0 89.3h.01M147.6 92.1h.01M149.9 88.9h.01M151.4 89.5h.01M151.1 90.0h.01M146.6 88.5h.01M147.6 89.8h.01M146.6 91.6h.01M151.1 90.7h.01M150.3 90.4h.01M150.5 90.3h.01M147.8 89.8h.01M147.3 90.7h.01M151.6 89.8h.01M150.9 88.7h.01M152.3 90.1h.01M154.4 92.0h.01M152.9 89.1h.01M153.8 89.8h.01M146.7 91.4h.01M155.1 89.0h.01M158.1 88.8h.01M155.5 88.5h.01M151.2 90.3h.01M149.8 90.4h.01M152.7 89.6h.01M149.4 89.8h.01M153.9 91.3h.01M150.6 90.8h.01M154.5 88.1h.01M155.5 89.8h.01M146.7 89.9h.01M152.8 90.6h.01M150.2 89.5h.01M148.3 89.0h.01M150.4 89.2h.01M151.4 87.6h.01M154.7 89.7h.01M148.0 89.1h.01M154.7 90.3h.01M157.2 88.5h.01M153.6 89.2h.01M153.4 88.6h.01M152.0 88.5h.01M148.9 90.6h.01M153.4 89.2h.01M153.0 90.3h.01M153.9 88.4h.01M158.7 89.9h.01M153.9 87.7h.01M153.1 89.2h.01M156.1 89.2h.01M148.5 90.5h.01M149.0 90.0h.01M151.0 89.5h.01M150.3 90.8h.01M153.8 90.0h.01M151.2 90.4h.01M156.5 90.7h.01M156.0 89.7h.01M154.0 89.4h.01M151.0 90.1h.01M153.6 89.2h.01M154.1 90.2h.01M149.2 91.1h.01M152.9 90.8h.01M153.8 89.3h.01M152.6 88.2h.01M156.1 89.7h.01M155.2 89.6h.01M149.9 91.1h.01M152.3 89.3h.01M149.8 89.5h.01M153.5 90.6h.01M149.7 89.2h.01M154.4 89.6h.01M153.0 91.8h.01M154.5 91.5h.01M151.6 90.5h.01M148.2 90.1h.01M156.6 88.6h.01M151.6 90.4h.01M155.6 89.8h.01M153.1 90.0h.01M153.8 89.1h.01M156.8 89.7h.01M152.9 89.5h.01M155.6 90.1h.01M148.1 91.5h.01M154.3 90.2h.01M151.4 87.8h.01M151.7 88.6h.01M152.0 87.8h.01M152.9 88.8h.01M156.3 90.4h.01M147.2 90.2h.01M152.1 89.0h.01M150.1 90.1h.01M155.0 88.8h.01M150.9 88.0h.01M153.2 88.1h.01M151.0 88.7h.01M153.7 91.4h.01M154.6 88.1h.01M151.0 91.2h.01M152.1 91.3h.01M148.3 89.5h.01M152.8 89.7h.01M154.2 89.0h.01M150.6 89.7h.01M154.9 90.5h.01M146.6 89.8h.01M147.2 90.9h.01M148.4 91.2h.01M150.7 90.2h.01M152.0 90.1h.01M151.8 89.7h.01M151.8 90.2h.01M153.9 88.4h.01M150.8 90.2h.01M148.7 90.0h.01M148.8 88.7h.01M157.5 92.3h.01M145.9 88.6h.01M151.5 88.7h.01M155.8 90.1h.01M153.3 87.4h.01M149.8 88.8h.01M152.0 87.9h.01M154.2 88.6h.01M155.1 89.6h.01M149.7 90.1h.01M154.0 91.1h.01M152.7 90.7h.01M154.9 91.2h.01M155.6 90.4h.01M151.1 89.2h.01M148.2 91.1h.01M153.0 89.2h.01M156.6 89.0h.01M153.8 91.6h.01M152.6 90.7h.01M158.2 90.0h.01M149.3 90.6h.01M154.3 90.8h.01M150.5 88.1h.01M152.1 89.6h.01M152.2 88.3h.01M155.9 89.9h.01M149.6 88.9h.01M150.6 91.4h.01M147.9 90.4h.01M153.3 88.8h.01M150.8 89.7h.01M153.1 88.3h.01M149.2 89.8h.01M151.1 90.4h.01M154.7 90.0h.01M151.5 87.4h.01M153.6 89.3h.01M153.4 90.3h.01M151.1 90.1h.01M147.9 91.1h.01M154.6 88.2h.01M152.4 90.4h.01M154.6 89.0h.01M146.8 90.0h.01M147.7 90.2h.01M146.4 90.6h.01M149.7 89.0h.01M154.7 90.0h.01M153.5 88.3h.01M151.9 88.0h.01M152.3 90.4h.01M154.0 89.7h.01M151.2 87.8h.01M153.0 88.7h.01M152.4 89.8h.01M146.3 91.6h.01M151.0 91.0h.01M155.5 90.7h.01M151.0 87.6h.01M151.6 89.6h.01M150.4 90.3h.01M150.7 90.2h.01M154.9 90.2h.01M151.3 89.5h.01M149.3 91.8h.01M143.9 91.5h.01M150.5 89.6h.01M146.9 88.6h.01M147.3 92.2h.01M154.1 89.1h.01M153.8 91.2h.01M147.0 92.0h.01M154.2 88.6h.01M153.2 90.1h.01M150.0 89.3h.01M153.9 90.3h.01M147.8 90.1h.01M148.9 92.1h.01M148.3 90.4h.01M149.1 89.7h.01M154.3 91.1h.01M148.5 89.4h.01M149.0 89.3h.01M149.5 92.4h.01M152.5 88.7h.01M151.1 89.1h.01M154.2 89.8h.01M150.2 88.5h.01M148.6 87.2h.01M150.7 91.0h.01" stroke="#000" stroke-opacity="0.6" stroke-width="1.00" stroke-linecap="round" fill="none"/>
<line x1="130.50" y1="67.80" x2="202.20" y2="67.80" stroke="#8a8a8a" stroke-width="1.3"/>
<line x1="166.00" y1="36.10" x2="166.00" y2="107.20" stroke="#555" stroke-width="1"/>
<text x="131.30" y="42.30" font-size="6.9" stroke="#111" stroke-width="0.2" text-anchor="start" fill="#111">0.57</text>
<text x="200.70" y="42.30" font-size="6.9" stroke="#111" stroke-width="0.2" text-anchor="end" fill="#111">6.17</text>
<text x="131.30" y="106.30" font-size="6.9" stroke="#111" stroke-width="0.2" text-anchor="start" fill="#111">85.3</text>
<text x="200.70" y="106.30" font-size="6.9" stroke="#111" stroke-width="0.2" text-anchor="end" fill="#111">7.98</text>
<rect x="206.0" y="36.1" width="71.39999999999998" height="71.1" fill="#fff" stroke="#a4a4a4" stroke-width="1"/>
<path d="M257.6 96.7h.01M251.0 96.6h.01M245.3 92.1h.01M241.4 93.3h.01M252.3 99.2h.01M250.8 96.3h.01M249.0 94.4h.01M254.1 98.4h.01M248.8 95.3h.01M255.4 95.8h.01M245.1 95.7h.01M245.9 94.2h.01M258.2 101.6h.01M251.2 93.4h.01M259.1 102.3h.01M240.3 95.6h.01M258.4 101.4h.01M240.2 87.7h.01M254.7 98.2h.01M251.2 96.2h.01M241.5 92.1h.01M245.4 93.0h.01M249.1 96.4h.01M250.7 95.1h.01M249.2 95.9h.01M239.6 89.1h.01M259.9 101.0h.01M246.4 96.2h.01M254.2 96.8h.01M258.5 101.5h.01M259.5 98.6h.01M242.9 91.4h.01M257.7 99.1h.01M249.8 98.4h.01M252.8 95.5h.01M244.2 95.6h.01M242.0 88.6h.01M251.2 96.0h.01M258.0 101.8h.01M247.8 96.2h.01M259.0 98.1h.01M253.8 95.0h.01M239.4 92.4h.01M258.6 97.3h.01M241.4 92.8h.01M243.7 91.5h.01M250.8 96.2h.01M258.7 105.3h.01M241.8 95.1h.01M245.2 95.3h.01M240.0 87.7h.01M240.8 91.9h.01M248.0 94.9h.01M251.1 96.1h.01M249.7 98.6h.01M240.0 87.0h.01M248.0 95.5h.01M248.3 95.2h.01M258.6 98.4h.01M245.9 97.6h.01M252.3 94.1h.01M249.2 95.5h.01M255.3 98.6h.01M251.7 91.7h.01M259.8 97.5h.01M252.4 94.8h.01M246.2 95.6h.01M247.8 96.8h.01M257.0 100.6h.01M246.7 94.7h.01M258.5 95.1h.01M248.3 95.4h.01M258.8 99.0h.01M242.2 94.5h.01M255.5 101.5h.01M248.3 99.9h.01M243.8 94.2h.01M251.4 98.3h.01M240.3 88.6h.01M243.2 92.6h.01M256.8 96.4h.01M250.0 97.8h.01M246.1 91.2h.01M242.0 91.3h.01M242.4 90.1h.01M243.8 91.6h.01M248.7 96.1h.01M239.4 89.2h.01M243.3 92.9h.01M248.0 92.5h.01M257.5 102.7h.01M257.2 97.9h.01M258.6 102.3h.01M243.7 97.4h.01M241.6 86.1h.01M256.8 97.0h.01M253.7 97.1h.01M244.2 95.5h.01M248.1 93.7h.01M258.4 100.8h.01M256.2 97.2h.01M258.7 101.4h.01M249.4 92.7h.01M243.0 94.2h.01M250.3 89.2h.01M241.4 87.2h.01M241.5 95.6h.01M240.9 91.6h.01M244.3 90.9h.01M242.4 96.9h.01M244.4 95.3h.01M253.6 100.1h.01M253.1 96.4h.01M239.5 91.9h.01M257.0 100.4h.01M256.2 95.2h.01M258.8 101.5h.01M243.6 92.1h.01M254.3 100.8h.01M250.7 99.0h.01M261.7 48.8h.01M250.0 64.1h.01M241.9 66.6h.01M239.4 49.9h.01M236.4 59.2h.01M248.7 68.3h.01M259.9 61.0h.01M243.0 51.6h.01M250.4 51.9h.01M241.8 63.8h.01M258.4 70.1h.01M254.3 51.2h.01M254.0 58.5h.01M259.8 53.2h.01M261.5 56.4h.01M258.0 60.2h.01M248.9 58.0h.01M244.7 53.8h.01M246.3 71.8h.01M242.3 57.2h.01M262.4 57.1h.01M251.1 65.4h.01M252.9 58.3h.01M253.3 56.9h.01M263.6 64.4h.01M249.0 51.6h.01M258.9 63.1h.01M253.9 64.9h.01M251.4 62.5h.01M241.4 57.1h.01M257.4 58.2h.01M248.0 47.2h.01M249.6 57.4h.01M253.5 60.1h.01M252.8 63.8h.01M258.6 59.1h.01M248.4 55.7h.01M253.2 52.8h.01M253.8 57.9h.01M252.4 59.1h.01M256.1 66.0h.01M250.8 58.3h.01M259.1 55.0h.01M248.2 57.5h.01M244.1 55.1h.01M252.0 56.7h.01M258.9 44.0h.01M249.3 48.0h.01M248.7 50.5h.01M250.3 61.2h.01M253.2 57.7h.01M251.2 59.2h.01M254.0 65.7h.01M242.5 51.5h.01M260.7 65.6h.01M255.5 60.7h.01M247.4 53.6h.01M260.0 67.8h.01M254.8 49.0h.01M260.6 51.0h.01M245.6 56.9h.01M261.6 60.8h.01M252.5 57.0h.01M240.6 44.5h.01M256.5 56.3h.01M250.5 57.7h.01M246.5 74.6h.01M251.0 67.0h.01M241.2 59.0h.01M255.5 51.2h.01M251.0 60.4h.01M250.7 50.7h.01M260.2 59.5h.01M252.4 60.6h.01M248.5 55.6h.01M246.8 59.8h.01M251.9 56.1h.01M258.3 54.5h.01M248.9 68.1h.01M246.4 61.9h.01M257.5 56.2h.01M252.6 53.3h.01M252.1 59.3h.01M264.0 61.8h.01M245.4 63.7h.01M253.4 67.7h.01M242.2 61.2h.01M250.5 51.0h.01M255.6 71.2h.01M258.6 65.7h.01M245.0 63.5h.01M257.0 66.8h.01M256.7 48.6h.01M251.5 55.8h.01M266.2 54.9h.01M252.2 65.8h.01M247.2 50.6h.01M254.6 56.1h.01M241.7 67.9h.01M261.1 62.4h.01M257.8 55.7h.01M250.0 70.3h.01M255.7 49.7h.01M255.3 61.1h.01M263.2 56.7h.01M248.7 61.5h.01M244.9 56.4h.01M240.7 52.8h.01M250.6 59.6h.01M243.3 49.7h.01M251.2 61.6h.01M254.6 56.1h.01M249.7 64.1h.01M246.9 55.3h.01M259.0 53.9h.01M251.1 60.7h.01M253.5 66.1h.01M257.6 44.9h.01M244.8 58.9h.01M247.0 62.2h.01M266.4 49.1h.01M251.3 52.5h.01M246.3 62.3h.01M250.8 52.9h.01M249.0 54.1h.01M245.3 69.2h.01M249.9 52.1h.01M252.1 52.6h.01M252.1 43.3h.01M255.3 51.2h.01M242.4 50.3h.01M243.8 69.2h.01M256.7 66.0h.01M249.7 50.1h.01M259.1 70.8h.01M253.9 63.1h.01M244.2 57.0h.01M255.3 63.3h.01M246.5 60.6h.01M253.7 53.3h.01M259.2 46.9h.01M264.2 52.3h.01M251.8 58.1h.01M256.2 55.9h.01M253.9 53.4h.01M256.7 64.4h.01M237.8 51.3h.01M250.0 63.9h.01M253.9 55.1h.01M254.9 58.9h.01M248.0 51.0h.01M256.9 58.1h.01M258.5 53.1h.01M252.6 47.0h.01M250.9 58.0h.01M250.2 57.8h.01M253.0 63.5h.01M258.9 60.0h.01M260.7 51.7h.01M249.6 54.2h.01M247.0 42.2h.01M247.7 51.0h.01M257.8 66.5h.01M253.5 67.9h.01M253.9 63.0h.01M255.0 60.1h.01M254.4 61.9h.01M251.5 61.3h.01M246.4 47.0h.01M248.7 52.5h.01M252.9 65.7h.01M254.4 65.7h.01M250.1 59.7h.01M249.9 56.2h.01M260.0 55.7h.01M249.6 54.7h.01M253.5 52.2h.01M250.4 45.8h.01M247.4 59.1h.01M243.7 55.2h.01M249.2 56.8h.01M247.6 69.1h.01M257.0 61.9h.01M245.8 53.6h.01M249.9 61.9h.01M255.9 48.5h.01M251.6 64.9h.01M255.0 59.8h.01M256.9 56.9h.01M242.9 61.8h.01M249.9 67.5h.01M246.8 55.2h.01M259.8 51.8h.01M251.6 71.7h.01M255.0 58.2h.01M261.8 67.7h.01M250.2 53.8h.01M252.6 60.6h.01M254.5 54.0h.01M250.7 62.2h.01M259.3 56.4h.01M256.8 53.8h.01M257.9 68.1h.01M252.5 60.3h.01M250.3 45.1h.01M250.2 56.6h.01M250.2 52.2h.01M243.0 50.3h.01M254.3 54.4h.01M256.8 55.1h.01M252.2 58.3h.01M249.4 53.0h.01M252.4 46.1h.01M253.5 54.7h.01M254.1 63.8h.01M262.3 49.3h.01M247.4 62.1h.01M254.3 61.1h.01M256.1 55.2h.01M252.7 60.1h.01M250.9 53.3h.01M246.5 55.5h.01M248.9 51.5h.01M256.2 61.1h.01M260.3 67.0h.01M248.5 53.7h.01M254.9 65.8h.01M255.1 44.3h.01M257.8 52.4h.01M253.6 51.6h.01M254.7 69.2h.01M257.2 54.3h.01M245.7 63.1h.01M252.5 44.9h.01M242.4 58.8h.01M241.2 61.8h.01M247.6 57.9h.01M243.6 40.5h.01M255.0 59.3h.01M257.7 63.3h.01M250.5 66.6h.01M251.4 60.7h.01M250.9 47.2h.01M250.8 56.8h.01M253.0 64.0h.01M254.2 52.8h.01M249.6 61.8h.01M247.8 55.0h.01M249.3 58.7h.01M256.7 63.0h.01M249.9 53.5h.01M260.3 76.7h.01M250.9 59.1h.01M259.8 60.3h.01M245.6 53.3h.01M248.3 58.5h.01M254.8 56.4h.01M254.9 48.6h.01M251.3 48.2h.01M263.5 60.0h.01M252.6 57.5h.01M253.8 41.0h.01M249.0 44.2h.01M261.4 56.1h.01M256.9 57.7h.01M254.5 62.0h.01M243.1 50.1h.01M254.2 61.9h.01M249.6 56.1h.01M254.4 54.8h.01M257.2 57.2h.01M248.0 64.5h.01M253.4 61.7h.01M257.0 63.9h.01M253.1 53.6h.01M250.4 56.3h.01M246.3 50.5h.01M248.5 54.5h.01M245.2 55.5h.01M257.6 55.1h.01M252.8 62.7h.01M245.5 60.9h.01M252.2 63.0h.01M245.0 58.9h.01M234.0 65.1h.01M258.9 58.8h.01M258.7 64.4h.01M244.0 61.4h.01M248.2 62.9h.01M253.3 57.7h.01M250.1 50.0h.01M247.5 48.7h.01M249.3 70.8h.01M250.8 60.6h.01M249.1 61.0h.01M253.3 57.0h.01M250.9 55.1h.01M248.0 76.8h.01M252.3 50.8h.01M243.0 57.7h.01M260.1 57.8h.01M242.6 50.7h.01M251.7 49.8h.01M254.0 53.5h.01M254.4 55.9h.01M253.6 54.9h.01M259.1 63.4h.01M246.0 50.4h.01M251.8 60.7h.01M253.0 67.6h.01M249.4 63.9h.01M248.9 50.7h.01M259.2 38.9h.01M248.2 63.6h.01M249.5 61.3h.01M250.6 54.3h.01M251.0 66.4h.01M253.0 55.5h.01M251.0 58.8h.01M254.2 51.4h.01M252.9 60.2h.01M254.8 55.3h.01M259.7 54.8h.01M247.5 65.1h.01M261.2 59.5h.01M249.7 48.4h.01M255.8 62.6h.01M253.0 63.5h.01M250.5 52.7h.01M241.4 55.5h.01M261.0 58.4h.01M248.0 56.5h.01M247.8 58.9h.01M258.0 62.3h.01M252.5 54.9h.01M262.6 71.6h.01M261.4 53.5h.01M256.0 54.6h.01M253.5 70.9h.01M256.3 73.6h.01M244.9 58.3h.01M253.1 56.9h.01M252.9 51.1h.01M249.5 65.5h.01M253.5 59.2h.01M246.8 59.1h.01M253.0 92.8h.01M257.9 74.3h.01M254.4 99.7h.01M262.0 72.0h.01M256.8 76.1h.01M253.2 88.9h.01M250.8 99.8h.01M253.8 98.3h.01M257.1 74.6h.01M255.3 88.0h.01M256.3 60.8h.01M252.1 83.3h.01M254.8 86.5h.01M257.1 70.3h.01M250.2 87.0h.01M244.5 71.6h.01M259.6 91.8h.01M253.9 61.3h.01M248.8 81.0h.01M252.2 99.9h.01M249.8 85.8h.01M242.5 99.5h.01M250.1 99.8h.01M243.9 91.7h.01M252.0 93.5h.01M250.5 90.4h.01M256.7 80.6h.01M250.4 92.8h.01M252.9 92.8h.01M249.5 96.0h.01M249.1 58.4h.01M244.0 59.7h.01M256.0 78.5h.01M251.9 89.7h.01M248.1 76.5h.01M252.0 74.9h.01M248.9 59.0h.01M247.4 84.8h.01M252.2 100.1h.01M257.1 85.2h.01M249.7 68.9h.01M243.9 86.1h.01M247.9 74.4h.01M260.0 74.2h.01M246.9 60.6h.01M256.9 89.5h.01M249.8 58.1h.01M254.7 95.1h.01M250.5 58.4h.01M243.1 92.4h.01M248.9 73.5h.01M261.6 73.5h.01M250.3 79.7h.01M253.8 66.2h.01M249.3 67.2h.01M250.3 89.5h.01M252.6 98.1h.01M253.4 64.3h.01M262.1 70.2h.01M250.9 101.3h.01M250.1 88.3h.01M247.7 98.4h.01M244.4 75.1h.01M243.0 91.9h.01M254.3 89.4h.01M241.7 90.8h.01M258.0 79.1h.01M255.3 71.0h.01M249.5 74.1h.01M245.2 64.4h.01M251.2 61.6h.01M251.1 74.8h.01M256.6 95.8h.01M247.3 72.7h.01M249.1 82.8h.01M250.7 94.3h.01M249.6 62.7h.01M247.9 74.4h.01M242.4 74.4h.01M242.8 89.4h.01M247.6 97.9h.01M249.9 58.4h.01M256.0 82.1h.01M262.6 58.2h.01M259.6 71.3h.01M253.0 75.7h.01M260.4 70.5h.01M250.4 76.3h.01M248.4 74.0h.01M262.6 80.1h.01M245.7 69.1h.01M248.9 75.3h.01M249.7 67.8h.01M258.3 76.6h.01M248.0 89.3h.01M254.9 59.4h.01M249.0 102.0h.01M244.9 64.6h.01M252.2 92.9h.01M251.9 70.7h.01M245.2 61.2h.01M246.7 92.8h.01M247.1 83.0h.01M255.8 69.7h.01M253.3 74.8h.01M252.2 96.1h.01M253.5 89.2h.01M248.6 70.3h.01M253.4 68.5h.01M248.0 83.0h.01M244.4 63.4h.01M247.5 68.2h.01M252.1 93.5h.01M251.5 90.0h.01M256.3 59.2h.01M242.6 77.8h.01M249.9 75.6h.01M253.0 90.6h.01M246.2 76.8h.01M252.3 68.1h.01M249.0 95.1h.01M245.4 66.6h.01M256.6 86.6h.01M244.1 70.5h.01M256.0 85.3h.01M249.0 65.7h.01M246.3 96.6h.01M246.6 74.4h.01M247.3 88.0h.01M246.8 91.1h.01M252.4 78.7h.01M241.7 81.8h.01M257.2 63.3h.01M255.2 81.9h.01M258.0 81.5h.01M246.1 97.5h.01M239.5 73.6h.01M247.9 64.8h.01M250.2 76.0h.01M252.6 92.7h.01M248.4 58.6h.01M250.6 59.7h.01M251.8 102.0h.01M243.3 82.5h.01M260.1 89.7h.01M245.4 78.6h.01M252.4 66.7h.01M256.4 87.5h.01M247.1 68.7h.01M251.1 78.0h.01M259.2 67.3h.01M249.6 98.1h.01M256.3 75.4h.01M252.5 88.7h.01M252.2 66.1h.01M254.6 84.9h.01M249.9 71.1h.01M250.0 63.3h.01M255.9 72.0h.01M252.4 60.9h.01M253.5 84.6h.01M245.1 82.5h.01M251.1 95.7h.01M257.1 59.3h.01M255.6 76.1h.01M252.8 101.4h.01M248.5 73.4h.01M248.0 60.7h.01M253.3 93.3h.01M258.2 62.2h.01M251.3 89.5h.01M257.6 81.2h.01M249.6 96.7h.01M257.1 80.7h.01M246.1 88.0h.01M252.0 69.4h.01M245.7 101.4h.01M254.4 67.3h.01M253.9 94.9h.01M246.3 88.1h.01M247.4 79.3h.01M248.9 74.5h.01M243.6 61.9h.01M246.5 93.0h.01M246.8 68.1h.01M255.0 96.5h.01M258.0 97.2h.01M248.9 67.4h.01M249.6 70.9h.01M252.1 89.4h.01M248.5 91.7h.01M249.7 60.2h.01M255.3 94.4h.01M252.2 94.0h.01M250.7 85.5h.01M248.2 97.3h.01M258.4 101.0h.01M248.0 67.1h.01M251.7 99.6h.01M245.9 96.0h.01M248.1 84.0h.01M251.5 63.0h.01M249.1 100.4h.01M253.7 90.8h.01M251.4 74.4h.01M244.2 72.3h.01M239.5 99.9h.01M256.0 68.3h.01M248.2 94.2h.01M258.5 77.6h.01M251.1 88.8h.01M247.3 94.2h.01M253.9 62.5h.01M249.7 69.6h.01M251.1 63.1h.01M246.4 75.8h.01M254.3 64.3h.01M256.5 98.4h.01M248.4 92.8h.01M260.0 83.7h.01M248.2 66.5h.01M252.3 67.4h.01M242.9 84.2h.01M241.5 98.0h.01M261.6 99.1h.01M258.2 99.0h.01M256.8 72.3h.01M242.6 88.8h.01M252.2 80.9h.01M253.2 82.5h.01M251.5 87.9h.01M252.6 71.1h.01M246.5 69.9h.01M250.3 76.2h.01M245.4 68.4h.01M249.3 96.0h.01M252.9 74.2h.01M247.2 59.8h.01M249.7 86.0h.01M248.9 101.5h.01M251.1 82.3h.01M255.7 70.6h.01M252.2 97.8h.01M253.0 85.8h.01M243.9 85.3h.01M249.2 78.4h.01M255.1 92.0h.01M246.8 87.6h.01M248.9 82.1h.01M246.2 72.8h.01M257.7 92.6h.01M248.8 98.2h.01M247.4 62.1h.01M254.1 59.3h.01M256.5 62.5h.01M253.5 96.5h.01M256.0 85.3h.01M252.1 75.6h.01M250.4 101.0h.01M248.8 99.7h.01M248.5 76.8h.01M248.1 74.4h.01M252.9 81.5h.01M250.5 84.2h.01M251.5 95.1h.01M254.1 96.7h.01M250.8 70.6h.01M244.2 95.7h.01M247.1 61.5h.01M245.5 67.3h.01M241.5 76.6h.01M251.6 61.4h.01M245.1 73.4h.01M244.6 59.3h.01M245.7 93.5h.01M255.4 87.9h.01M249.5 69.5h.01M256.0 81.1h.01M250.6 75.3h.01M248.9 94.2h.01M253.9 71.0h.01M254.0 68.5h.01M251.6 92.3h.01M245.9 91.4h.01M248.7 89.1h.01M245.1 60.9h.01M249.7 59.9h.01M251.5 99.0h.01M258.4 100.9h.01M258.1 67.1h.01M254.4 79.7h.01M255.8 78.5h.01M252.2 70.6h.01M264.9 61.6h.01M258.7 69.2h.01M264.2 100.4h.01M252.9 77.6h.01M253.1 67.2h.01M256.3 61.4h.01M252.0 86.5h.01M252.6 95.1h.01M246.1 69.2h.01M255.7 91.3h.01M251.7 59.0h.01M255.1 63.8h.01M249.9 86.2h.01M242.1 62.2h.01M253.5 78.6h.01M256.8 79.4h.01M244.6 59.3h.01M246.2 94.3h.01M249.5 90.6h.01M249.8 92.9h.01M242.5 86.8h.01M259.8 70.5h.01M256.1 88.7h.01M247.9 83.3h.01M241.9 85.5h.01M252.8 91.2h.01M260.9 70.8h.01M255.1 98.3h.01M256.8 78.4h.01M246.3 72.0h.01M252.2 81.3h.01M243.5 100.9h.01M260.9 89.1h.01M253.8 62.3h.01M240.5 70.2h.01M241.8 87.7h.01M253.4 100.2h.01M251.7 81.8h.01M249.4 81.9h.01M254.1 58.1h.01M261.0 64.8h.01M252.8 93.6h.01M242.0 68.7h.01M250.2 81.7h.01M244.4 88.1h.01M247.0 84.3h.01M252.6 91.8h.01M250.1 86.4h.01M245.7 71.7h.01M250.8 83.9h.01M246.9 88.7h.01M253.6 61.2h.01M249.8 100.6h.01M252.9 85.4h.01M249.6 101.0h.01M254.7 96.1h.01M250.3 59.5h.01M250.9 61.7h.01M248.1 95.8h.01M251.7 68.9h.01M242.1 98.2h.01M264.3 101.2h.01M247.6 91.9h.01M251.4 85.6h.01M248.6 77.4h.01M248.5 98.1h.01M253.0 85.8h.01M248.4 62.2h.01M248.8 90.1h.01M244.1 72.7h.01M246.3 64.1h.01M245.1 74.2h.01M259.9 95.9h.01M244.3 90.8h.01M245.6 74.8h.01M251.9 94.4h.01M258.1 82.7h.01M242.5 73.0h.01M243.2 62.6h.01M251.6 88.1h.01M252.6 69.0h.01M243.9 80.4h.01M241.9 68.6h.01M246.1 85.9h.01M254.7 60.7h.01M250.7 70.4h.01M254.6 85.6h.01M250.4 95.2h.01M250.8 90.2h.01M254.0 70.8h.01M250.3 75.6h.01M252.1 80.2h.01M246.4 99.7h.01M247.9 65.9h.01M253.3 92.8h.01M249.7 63.1h.01M247.2 95.0h.01M254.2 63.0h.01M253.6 74.9h.01M250.9 74.4h.01M247.1 87.5h.01M255.4 72.0h.01M263.4 93.6h.01M246.8 101.5h.01M243.2 89.7h.01M247.0 59.0h.01M246.2 62.3h.01M244.6 93.5h.01M245.0 76.1h.01M255.1 80.6h.01M255.2 95.3h.01M258.3 89.5h.01M254.6 81.3h.01M248.5 71.3h.01M256.3 61.6h.01M247.8 63.1h.01M249.1 60.4h.01M245.0 75.7h.01M257.0 99.8h.01M255.9 63.0h.01M248.6 80.8h.01M249.3 85.2h.01M251.1 99.5h.01M251.9 101.9h.01M255.1 87.0h.01M251.2 83.6h.01M252.9 89.2h.01M243.4 77.3h.01M249.4 92.4h.01M241.9 94.9h.01M259.8 67.6h.01M257.8 81.4h.01M254.4 71.9h.01M256.4 63.6h.01M260.9 76.6h.01M255.6 84.7h.01M242.9 80.9h.01M249.8 75.0h.01M239.1 82.6h.01M246.8 80.3h.01M244.6 59.3h.01M250.8 88.5h.01M252.8 92.8h.01M246.2 78.4h.01M249.4 86.8h.01M252.2 68.7h.01M250.1 90.2h.01M249.9 78.1h.01M238.8 86.3h.01M248.6 87.7h.01M254.8 77.1h.01M252.1 66.3h.01M243.4 99.4h.01M249.5 94.6h.01M252.2 75.0h.01M246.0 74.8h.01M254.2 95.4h.01M246.8 91.2h.01M249.2 70.3h.01M250.3 94.2h.01M262.0 73.0h.01M249.2 95.1h.01M248.0 63.0h.01M254.4 99.8h.01M248.5 74.2h.01M251.8 98.6h.01M239.6 69.0h.01M252.3 74.5h.01M250.7 69.3h.01M244.4 83.9h.01M257.6 69.3h.01M249.6 87.8h.01M249.8 88.0h.01M244.2 91.9h.01M242.7 78.0h.01M248.0 76.9h.01M243.2 69.1h.01M253.3 79.5h.01M255.2 81.3h.01M247.6 70.3h.01M242.8 82.6h.01M248.8 65.7h.01M245.5 76.5h.01M251.6 72.4h.01M251.7 81.6h.01M248.7 92.2h.01M251.2 59.5h.01M256.0 77.5h.01M259.3 62.5h.01M248.2 73.7h.01M254.4 90.5h.01M249.6 86.1h.01M245.5 89.6h.01M257.2 93.9h.01M252.8 73.1h.01M251.5 74.5h.01M252.6 66.4h.01M250.0 72.5h.01M245.5 85.3h.01M259.7 87.6h.01M255.3 89.3h.01M252.1 81.7h.01M255.6 60.3h.01M257.2 86.5h.01M249.8 95.4h.01M253.7 96.5h.01M249.2 59.1h.01M254.0 74.7h.01M249.5 79.7h.01M263.0 85.6h.01M249.0 93.1h.01M253.4 59.3h.01M253.1 97.7h.01M249.1 77.3h.01M255.5 100.6h.01M250.4 92.8h.01M248.7 75.5h.01M250.8 99.9h.01M247.0 78.6h.01M256.8 62.9h.01M253.9 66.9h.01M255.7 81.7h.01M244.0 91.5h.01M252.1 71.8h.01M246.9 99.4h.01M251.2 69.4h.01M257.2 101.1h.01M252.1 86.6h.01M249.9 90.4h.01M256.4 75.1h.01M255.8 81.5h.01M260.0 73.6h.01M241.5 80.3h.01M252.4 95.1h.01M248.7 91.9h.01M246.4 94.4h.01M251.4 76.3h.01M245.0 71.2h.01M239.6 84.1h.01M246.3 100.0h.01M249.5 89.2h.01M260.1 68.3h.01M247.2 93.0h.01M245.0 97.1h.01M240.9 90.5h.01M249.0 90.0h.01M249.6 87.9h.01M251.5 83.0h.01M243.6 75.4h.01M247.0 89.7h.01M239.5 76.6h.01M251.6 65.9h.01M242.9 97.5h.01M237.1 98.4h.01M256.6 63.6h.01M253.3 93.5h.01M252.6 85.4h.01M252.5 72.7h.01M245.6 72.6h.01M256.2 64.5h.01M245.6 77.7h.01M260.4 67.4h.01M251.9 87.7h.01M241.6 99.7h.01M255.1 71.2h.01M260.7 69.5h.01M249.5 81.0h.01M256.1 63.2h.01M249.7 64.3h.01M247.7 65.9h.01M237.9 94.6h.01M257.0 80.2h.01M248.6 92.7h.01M252.7 94.8h.01M245.1 71.4h.01M246.3 65.8h.01M256.4 60.8h.01M248.9 90.4h.01M248.8 81.8h.01M244.5 95.6h.01M251.9 87.0h.01M254.7 65.6h.01M248.5 79.4h.01M249.9 75.9h.01M244.7 63.4h.01M257.8 64.3h.01M247.7 89.1h.01M250.0 87.2h.01M259.2 76.6h.01M249.7 63.6h.01M243.0 69.4h.01M246.2 77.4h.01M249.0 90.6h.01M259.7 76.4h.01M251.9 91.3h.01M249.7 74.2h.01M255.0 84.6h.01M257.4 91.0h.01M247.0 76.5h.01M258.0 78.7h.01M255.1 60.5h.01M253.1 63.0h.01M239.0 88.1h.01M251.8 62.4h.01M257.8 66.4h.01M249.5 79.5h.01M262.4 98.9h.01M251.2 102.0h.01M245.7 92.2h.01M253.8 74.0h.01M252.3 65.9h.01M255.0 76.1h.01M249.7 60.9h.01M257.4 70.6h.01M248.1 89.2h.01M251.5 85.3h.01M244.6 99.0h.01M246.8 71.9h.01M251.9 76.5h.01M247.6 90.4h.01M248.6 69.2h.01M249.8 68.6h.01M252.1 101.1h.01M254.7 73.4h.01M254.7 96.6h.01M256.0 75.8h.01M251.9 97.7h.01M248.1 94.6h.01M242.9 71.0h.01M249.1 60.3h.01M246.9 87.3h.01M241.7 73.1h.01M259.2 72.6h.01M241.6 89.6h.01M252.7 76.2h.01M253.7 70.3h.01M249.7 96.0h.01M264.0 93.1h.01M251.0 93.6h.01M247.0 72.5h.01M259.8 101.1h.01M246.8 80.6h.01M243.6 72.0h.01M245.8 64.2h.01M247.6 93.7h.01M251.1 89.1h.01M252.6 99.3h.01M243.2 62.2h.01M252.7 60.5h.01M262.2 97.3h.01M247.3 69.2h.01M250.2 72.7h.01M254.4 63.7h.01M257.0 80.2h.01M247.5 67.2h.01M246.0 60.7h.01M245.8 100.1h.01M256.4 64.2h.01M255.5 74.2h.01M239.9 66.9h.01M240.0 94.3h.01M244.6 92.5h.01M243.3 98.5h.01M253.0 79.0h.01M252.0 92.7h.01M260.8 93.8h.01M254.9 95.0h.01M251.5 65.0h.01M256.9 79.7h.01M246.4 86.9h.01M243.8 71.6h.01M251.1 92.6h.01M255.7 86.1h.01M242.7 93.4h.01M255.4 90.9h.01M255.3 77.3h.01M248.3 63.2h.01M251.7 68.7h.01M249.5 79.9h.01M251.3 100.0h.01M255.0 67.2h.01M246.8 94.0h.01M256.2 69.4h.01M255.3 84.0h.01M255.5 97.7h.01M240.9 77.8h.01M241.4 67.8h.01M254.4 71.7h.01M247.9 90.9h.01M247.4 87.6h.01M247.0 85.7h.01M244.1 67.5h.01M249.4 91.3h.01M247.2 95.0h.01M247.6 78.4h.01M253.3 70.2h.01M244.9 84.8h.01M256.6 92.7h.01M239.6 78.1h.01M263.6 82.8h.01M244.0 91.0h.01M253.8 98.5h.01M255.5 61.6h.01M250.9 88.4h.01M254.7 60.9h.01M250.3 69.9h.01M241.9 88.1h.01M252.6 65.8h.01M256.7 87.4h.01M248.1 92.5h.01M242.3 88.1h.01M247.8 94.3h.01M252.5 85.0h.01M252.4 80.2h.01M256.5 101.5h.01M253.7 73.1h.01M253.5 65.7h.01M240.7 79.9h.01M262.2 83.9h.01M251.1 74.0h.01M255.3 100.0h.01M249.1 72.7h.01M250.1 66.3h.01M251.2 81.7h.01M258.9 67.9h.01M258.6 85.7h.01M254.0 70.9h.01M261.0 74.2h.01M248.9 88.3h.01M253.5 88.0h.01M248.6 60.2h.01M257.5 83.0h.01M251.1 83.0h.01M255.9 73.9h.01M259.7 74.4h.01M240.3 84.8h.01M262.0 92.5h.01M252.5 92.5h.01M249.3 95.3h.01M241.1 81.5h.01M249.4 69.4h.01M239.2 90.3h.01M251.4 65.3h.01M250.1 59.0h.01M260.2 64.2h.01M249.3 60.5h.01M256.4 76.7h.01M256.9 75.5h.01M261.5 100.5h.01M249.7 95.6h.01M254.8 94.5h.01M243.2 90.5h.01M245.3 66.1h.01M249.5 64.9h.01M250.8 94.2h.01M244.7 91.6h.01M248.8 60.2h.01M254.5 76.4h.01M248.6 70.0h.01M250.2 82.4h.01M246.4 78.0h.01M258.0 78.6h.01M260.1 85.4h.01M252.0 92.2h.01M250.4 97.2h.01M259.5 79.5h.01M253.4 74.7h.01M247.5 95.7h.01M244.1 59.2h.01M247.9 92.0h.01M262.2 60.5h.01M247.9 71.1h.01M265.8 98.7h.01M251.0 71.8h.01M249.9 60.3h.01M257.8 63.7h.01M249.7 100.2h.01M252.9 76.1h.01M245.6 74.3h.01M244.6 97.9h.01M247.2 95.4h.01M252.1 69.0h.01M247.6 63.4h.01M240.9 97.5h.01M253.4 74.9h.01M250.1 78.4h.01M225.5 76.3h.01M231.0 54.6h.01M241.7 57.9h.01M242.0 85.0h.01M226.2 71.8h.01M236.1 62.4h.01M225.1 55.7h.01M233.1 69.3h.01M239.3 64.5h.01M227.7 59.1h.01M235.0 74.5h.01M226.3 59.9h.01M228.1 84.4h.01M236.1 61.5h.01M229.4 82.5h.01M226.8 65.5h.01M229.1 63.5h.01M238.8 78.4h.01M231.2 70.3h.01M235.2 58.6h.01M227.7 81.0h.01M235.7 71.7h.01M222.9 72.3h.01M223.3 66.2h.01M226.8 80.5h.01M239.4 73.8h.01M225.9 56.5h.01M231.2 82.4h.01M243.9 72.2h.01M227.1 62.8h.01M225.2 55.4h.01M228.1 55.4h.01M233.7 58.0h.01M241.7 62.3h.01M222.7 71.0h.01M233.7 61.3h.01M222.4 79.3h.01M243.8 70.9h.01M232.0 67.8h.01M236.9 67.8h.01M227.7 61.8h.01M232.4 71.3h.01M240.1 61.6h.01M224.6 64.4h.01M226.7 70.4h.01M228.7 74.4h.01M240.1 64.6h.01M241.8 77.2h.01M238.5 65.5h.01M227.4 83.4h.01M228.9 58.9h.01M238.2 72.6h.01M231.8 65.5h.01M229.7 68.7h.01M243.9 57.8h.01M227.6 64.9h.01M239.1 60.1h.01M225.9 75.7h.01M242.1 78.9h.01M228.3 79.2h.01M242.3 83.3h.01M237.6 66.3h.01M241.2 74.6h.01M236.0 84.7h.01M224.3 70.1h.01M230.7 70.7h.01M243.5 75.1h.01M224.7 55.1h.01M233.7 81.3h.01M233.5 67.4h.01M231.6 78.3h.01M228.2 58.3h.01M228.8 69.9h.01M226.5 72.3h.01M227.8 78.8h.01M222.8 73.2h.01M238.5 74.0h.01M241.7 83.7h.01M226.8 62.8h.01M223.3 68.5h.01M230.5 82.3h.01M224.4 68.7h.01M231.4 73.0h.01M227.6 70.3h.01M234.7 85.3h.01M238.3 75.8h.01M241.3 78.8h.01M237.8 55.1h.01M240.2 66.7h.01M243.9 78.0h.01M230.8 59.5h.01M225.4 79.0h.01M225.7 83.6h.01M232.2 78.5h.01M237.3 77.2h.01M240.3 62.9h.01M225.7 58.0h.01M233.5 84.1h.01M223.7 67.6h.01M234.6 82.9h.01M241.0 75.5h.01M229.6 83.9h.01M236.9 54.9h.01M235.9 79.7h.01M236.6 77.8h.01M226.0 72.1h.01M233.2 59.3h.01M223.2 60.6h.01M231.1 83.8h.01M223.2 66.6h.01M243.2 78.2h.01M229.6 85.3h.01M227.5 61.4h.01M241.9 56.2h.01M231.5 55.2h.01M233.3 67.9h.01M241.1 80.5h.01M233.5 79.7h.01M230.6 73.0h.01M238.2 54.2h.01M228.6 62.0h.01M225.3 58.9h.01M237.8 59.1h.01M232.9 58.3h.01M243.9 55.2h.01M234.0 70.2h.01M241.7 65.0h.01M222.9 65.4h.01M222.5 62.9h.01M229.7 79.4h.01M240.4 63.4h.01M232.5 59.1h.01M235.4 63.1h.01M230.0 62.1h.01M229.6 65.2h.01M229.3 66.2h.01M228.2 61.4h.01M222.8 74.2h.01M236.9 59.1h.01M228.8 83.2h.01M242.2 82.4h.01M235.0 69.9h.01M225.4 77.5h.01M228.5 60.9h.01M226.0 63.4h.01M238.6 83.2h.01M227.6 69.3h.01M234.3 77.8h.01M231.5 80.1h.01M230.1 76.6h.01M241.1 68.6h.01M233.3 66.2h.01M228.8 56.0h.01M225.8 81.8h.01M228.6 76.3h.01M226.2 56.1h.01M236.6 80.8h.01M238.4 63.2h.01M235.1 81.3h.01M237.7 58.9h.01M238.5 54.8h.01M234.6 81.6h.01M226.2 82.6h.01M236.1 69.9h.01M222.5 83.3h.01M232.5 57.0h.01M225.5 58.9h.01M237.3 85.2h.01M236.7 84.2h.01M229.3 76.3h.01M234.9 64.8h.01M237.7 76.9h.01M233.2 54.1h.01M227.6 65.4h.01M224.5 81.4h.01M241.2 61.4h.01M223.9 58.2h.01M226.4 69.8h.01M239.2 75.7h.01M223.1 64.0h.01M225.2 80.3h.01M230.2 83.1h.01M225.3 61.0h.01M222.9 66.4h.01M239.1 80.8h.01M225.8 70.2h.01M242.1 78.0h.01M223.1 64.1h.01M228.0 80.3h.01M234.6 80.8h.01M224.2 78.9h.01M232.5 82.2h.01M232.7 66.6h.01M235.2 70.6h.01M242.4 79.9h.01M231.0 77.2h.01M242.0 71.3h.01M226.8 55.2h.01M236.4 61.1h.01M231.4 68.6h.01M239.1 78.2h.01M233.5 83.0h.01M240.8 85.7h.01M225.4 66.4h.01M227.8 85.0h.01M234.0 66.3h.01M236.0 59.9h.01M230.3 83.8h.01M239.7 57.5h.01M230.3 69.3h.01M242.5 78.9h.01M242.5 74.2h.01M222.9 81.3h.01M236.1 71.1h.01M240.9 68.3h.01M223.1 64.9h.01M238.2 74.1h.01M234.8 72.2h.01M233.4 70.4h.01M228.0 75.9h.01M238.2 70.3h.01M226.8 76.3h.01M226.0 70.1h.01M229.7 78.9h.01M243.8 60.6h.01M230.9 65.6h.01M225.1 63.9h.01M230.8 82.2h.01M238.8 72.7h.01M235.7 84.2h.01M237.8 71.9h.01M240.2 84.1h.01M228.4 77.8h.01M229.6 82.7h.01M240.9 63.7h.01M230.4 86.0h.01M233.3 63.7h.01M240.3 78.1h.01M235.8 73.9h.01M242.1 65.5h.01M222.3 57.4h.01M235.6 55.5h.01M233.2 54.4h.01M231.0 71.7h.01M228.5 72.1h.01M230.3 57.6h.01M240.0 55.3h.01M232.5 54.7h.01M226.8 72.6h.01M237.3 78.2h.01M240.0 82.9h.01M230.9 69.1h.01M224.9 77.9h.01M238.4 61.7h.01M237.2 55.7h.01M254.9 85.4h.01M246.1 96.5h.01M252.2 89.9h.01M261.6 98.1h.01M260.3 86.4h.01M250.3 89.7h.01M242.8 94.3h.01M250.8 92.5h.01M248.2 88.8h.01M254.8 91.3h.01M242.6 85.8h.01M248.8 92.3h.01M251.4 79.3h.01M247.2 92.8h.01M255.9 98.5h.01M243.4 96.3h.01M242.8 96.1h.01M247.9 90.0h.01M254.7 94.4h.01M248.2 90.1h.01M246.5 91.6h.01M254.5 91.5h.01M251.2 75.8h.01M246.9 96.4h.01M250.6 94.2h.01M248.5 96.1h.01M253.4 87.4h.01M250.7 95.3h.01M245.3 94.3h.01M247.2 81.3h.01M247.5 83.5h.01M252.0 92.3h.01M252.1 88.8h.01M245.1 91.9h.01M248.8 88.9h.01M251.7 99.2h.01M256.2 82.9h.01M251.3 85.4h.01M261.1 87.3h.01M250.0 85.4h.01M254.1 89.2h.01M248.0 91.9h.01M244.2 85.5h.01M250.5 93.8h.01M252.7 98.3h.01M251.8 97.3h.01M250.7 101.7h.01M248.0 97.5h.01M245.2 91.9h.01M248.2 100.6h.01M252.6 95.4h.01M255.4 101.0h.01M231.0 91.1h.01M253.4 81.9h.01M256.1 86.4h.01M257.1 92.9h.01M252.1 94.7h.01M253.7 91.0h.01M247.3 96.9h.01M249.4 86.5h.01M252.9 88.7h.01M243.6 96.8h.01M245.3 92.3h.01M251.0 92.5h.01M242.2 98.8h.01M250.2 97.3h.01M241.4 88.2h.01M251.0 93.0h.01M250.0 83.9h.01M246.7 92.0h.01M244.5 93.9h.01M247.0 83.7h.01M237.0 99.6h.01M247.6 101.7h.01M250.6 94.5h.01M256.8 96.5h.01M247.0 99.3h.01M248.9 91.2h.01M257.9 97.1h.01M259.9 93.9h.01M247.1 84.7h.01M255.9 87.7h.01M256.7 89.4h.01M252.9 97.2h.01M244.2 92.6h.01M244.5 96.8h.01M253.2 89.8h.01M263.3 85.9h.01M248.9 102.0h.01M258.9 105.2h.01M260.8 93.9h.01M242.7 91.2h.01M246.4 97.8h.01M258.6 86.8h.01M255.5 91.1h.01M253.0 85.2h.01M249.8 94.4h.01M253.5 93.3h.01M246.3 90.2h.01M264.3 89.0h.01M243.3 84.8h.01M239.5 88.1h.01M250.7 98.0h.01M258.2 90.4h.01M247.1 98.2h.01M249.6 87.9h.01M244.0 91.7h.01M249.5 89.9h.01M244.0 90.9h.01M244.1 95.8h.01M241.4 82.2h.01M246.7 95.7h.01M260.6 95.5h.01M249.6 92.1h.01M251.0 92.5h.01M262.8 91.0h.01M246.2 95.4h.01M244.1 92.4h.01M252.9 88.0h.01M242.8 92.8h.01M251.8 96.7h.01M256.5 93.9h.01M243.7 92.3h.01M246.9 93.1h.01M259.7 89.7h.01M243.8 89.9h.01M246.0 83.1h.01M251.3 91.2h.01M248.1 96.8h.01M245.0 90.2h.01M259.1 87.8h.01M246.5 96.4h.01M251.8 92.9h.01M247.5 92.8h.01M248.6 94.4h.01" stroke="#333" stroke-opacity="0.25" stroke-width="0.80" stroke-linecap="round" fill="none"/>
<path d="M231.5 90.8h.01M239.7 88.4h.01M231.1 90.3h.01M233.7 92.1h.01M235.4 90.8h.01M231.3 90.3h.01M234.9 87.2h.01M231.5 89.6h.01M229.2 88.6h.01M230.8 91.0h.01M228.7 89.2h.01M234.6 90.6h.01M230.1 88.9h.01M239.6 93.3h.01M239.7 88.1h.01M231.4 90.2h.01M234.0 93.7h.01M238.6 90.4h.01M230.2 89.0h.01M230.5 90.8h.01M230.5 91.2h.01M238.7 91.5h.01M235.9 87.1h.01M235.9 90.4h.01M233.7 87.2h.01M229.0 92.2h.01M230.3 90.1h.01M255.4 89.0h.01M245.5 91.4h.01M232.5 90.7h.01M230.4 88.7h.01M235.5 92.5h.01M228.8 89.8h.01M232.5 87.8h.01M231.2 91.8h.01M229.0 91.8h.01M232.1 91.7h.01M232.0 90.8h.01M233.2 88.9h.01M237.8 91.6h.01M233.8 92.6h.01M238.1 91.4h.01M230.1 91.9h.01M234.4 89.0h.01M229.1 91.2h.01M235.0 91.4h.01M232.9 88.1h.01M229.9 88.2h.01M231.0 89.2h.01M238.8 90.2h.01M232.8 90.7h.01M232.7 89.8h.01M229.1 90.0h.01M233.5 89.9h.01M229.0 90.2h.01M232.8 90.8h.01M230.2 90.6h.01M230.6 90.0h.01M231.8 90.4h.01M234.0 89.4h.01M232.2 91.1h.01M231.9 89.4h.01M237.4 92.7h.01M231.5 90.0h.01M233.2 90.4h.01M231.7 89.1h.01M230.9 89.6h.01M229.6 90.3h.01M232.8 90.1h.01M231.7 89.3h.01M229.7 88.7h.01M229.1 90.1h.01M239.7 90.4h.01M228.5 90.7h.01M237.2 92.0h.01M229.3 89.7h.01M236.2 87.1h.01M235.7 89.9h.01M233.2 87.6h.01M236.4 88.1h.01M242.3 92.0h.01M232.9 90.8h.01M233.8 89.2h.01M231.2 89.3h.01M230.4 90.0h.01M234.6 87.6h.01M230.0 90.6h.01M239.3 89.5h.01M232.0 92.4h.01M244.4 88.0h.01M230.9 91.3h.01M242.4 88.8h.01M231.3 91.3h.01M238.9 88.5h.01M241.3 91.4h.01M228.7 89.6h.01M230.6 89.1h.01M229.0 89.9h.01M234.1 90.7h.01M232.0 90.6h.01M238.9 92.7h.01M245.2 91.8h.01M233.8 86.4h.01M235.9 89.5h.01M230.3 87.7h.01M229.9 89.6h.01M228.7 90.8h.01M239.4 87.8h.01M234.0 88.4h.01M228.7 90.2h.01M239.4 89.6h.01M241.0 92.9h.01M232.1 90.5h.01M232.9 90.8h.01M237.7 92.9h.01M240.3 89.2h.01M233.2 90.1h.01M236.4 88.6h.01M232.5 90.4h.01M233.9 91.5h.01M230.4 91.7h.01M229.0 90.0h.01M232.6 89.1h.01M245.1 88.6h.01M239.6 87.7h.01M230.8 90.2h.01M228.8 91.6h.01M242.7 85.7h.01M229.9 87.5h.01M241.1 92.6h.01M231.1 88.1h.01M228.8 90.4h.01M228.9 88.7h.01M229.0 90.9h.01M234.9 91.2h.01M231.5 90.3h.01M230.7 91.1h.01M236.5 90.2h.01M243.9 91.2h.01M230.9 92.3h.01M229.5 91.3h.01M236.6 89.1h.01M233.7 89.0h.01M229.3 89.8h.01M231.2 89.8h.01M229.6 90.2h.01M229.3 89.4h.01M229.1 90.8h.01M233.3 90.1h.01M229.2 90.5h.01M244.3 90.1h.01M232.3 90.9h.01M237.2 88.2h.01M242.5 93.1h.01M233.1 90.6h.01M235.1 90.8h.01M237.2 91.1h.01M234.6 91.7h.01M232.5 91.1h.01M230.8 90.4h.01M229.1 89.9h.01M229.6 88.2h.01M230.4 90.3h.01M237.4 89.6h.01M233.2 89.7h.01M229.4 92.8h.01M230.8 87.8h.01M229.7 90.2h.01M229.6 91.5h.01M228.7 91.1h.01M233.0 91.8h.01M229.6 88.6h.01M245.8 88.2h.01M240.2 91.2h.01M238.4 89.6h.01M229.4 92.1h.01M232.1 90.4h.01M231.7 90.3h.01M229.6 90.6h.01M235.5 89.7h.01M234.8 90.3h.01M231.7 89.2h.01M238.2 90.1h.01M230.8 89.5h.01M234.1 90.5h.01M231.5 88.3h.01M228.6 88.4h.01M236.4 90.8h.01M229.6 90.4h.01M242.9 88.3h.01M230.0 89.8h.01M231.5 88.8h.01M230.3 92.5h.01M229.9 88.3h.01M233.5 92.5h.01M233.6 89.0h.01M228.5 90.6h.01M228.9 89.8h.01M254.7 89.3h.01M232.7 91.4h.01M235.9 91.4h.01M229.9 89.8h.01M230.3 89.0h.01M228.7 92.4h.01M235.4 92.2h.01M230.1 90.3h.01M238.0 89.7h.01M231.1 90.5h.01M233.7 90.2h.01M239.6 92.2h.01M229.4 89.0h.01M233.2 90.1h.01M248.5 88.5h.01M235.2 92.0h.01M242.3 93.5h.01M233.1 90.0h.01M230.8 90.8h.01M228.6 91.7h.01M230.2 89.7h.01M232.3 88.9h.01M229.4 91.3h.01M230.3 90.7h.01M231.9 89.8h.01M231.1 91.9h.01M229.7 90.4h.01M229.7 88.0h.01M231.7 90.6h.01M229.7 90.0h.01M228.8 92.2h.01M242.2 90.1h.01M231.5 89.9h.01M232.1 90.7h.01M229.5 90.4h.01M252.1 86.8h.01M234.0 90.3h.01M229.4 89.7h.01M229.4 91.7h.01M235.4 93.7h.01M228.6 88.9h.01M238.6 88.6h.01M239.7 88.7h.01M233.9 89.2h.01M242.2 88.9h.01M230.1 90.2h.01M228.5 91.3h.01M232.9 88.4h.01M233.1 88.0h.01M231.1 87.8h.01M234.3 91.7h.01M234.7 92.0h.01M229.7 88.3h.01M230.3 88.2h.01M228.7 90.2h.01M234.8 91.7h.01M231.1 91.4h.01M231.2 90.4h.01M230.2 90.9h.01M236.1 90.6h.01M229.0 89.5h.01M240.4 93.5h.01M250.5 57.4h.01M250.7 59.5h.01M253.4 54.5h.01M255.0 55.8h.01M251.3 56.4h.01M252.3 58.9h.01M254.9 55.4h.01M254.2 52.2h.01M256.8 58.9h.01M253.6 56.9h.01M249.7 56.8h.01M246.6 51.7h.01M255.6 55.6h.01M251.6 50.3h.01M251.5 49.4h.01M251.7 54.9h.01M247.3 54.3h.01M251.4 57.3h.01M243.7 60.0h.01M251.3 55.5h.01M249.6 61.1h.01M259.1 53.8h.01M254.3 57.9h.01M252.0 51.7h.01M253.3 56.0h.01M255.3 54.6h.01M250.1 55.0h.01M251.9 57.4h.01M251.5 49.8h.01M261.4 56.0h.01M253.0 53.1h.01M245.9 56.0h.01M255.5 56.8h.01M261.7 54.5h.01M249.4 54.5h.01M264.9 52.0h.01M252.5 57.3h.01M256.2 53.5h.01M250.8 57.0h.01M251.8 51.2h.01M248.4 59.8h.01M249.0 52.5h.01M245.2 59.2h.01M256.7 54.2h.01M248.7 57.3h.01M254.0 55.2h.01M253.9 57.7h.01M250.4 55.6h.01M252.9 59.5h.01M252.4 57.7h.01M251.0 57.7h.01M252.9 60.7h.01M252.9 53.5h.01M249.1 59.6h.01M248.2 55.8h.01M249.7 51.0h.01M253.1 57.1h.01M257.6 55.0h.01M257.9 60.8h.01M253.8 54.1h.01M256.0 55.8h.01M253.1 56.3h.01M256.6 49.7h.01M253.2 57.2h.01M254.1 52.5h.01M251.7 59.9h.01M252.7 60.7h.01M259.4 55.6h.01M248.5 50.7h.01M252.7 56.2h.01M250.6 56.1h.01M256.1 57.8h.01M259.1 54.7h.01M251.6 51.9h.01M243.0 55.2h.01M254.9 52.8h.01M254.9 61.1h.01M246.8 53.4h.01M251.8 53.6h.01M252.5 55.5h.01M244.6 51.8h.01M255.1 54.2h.01M254.2 55.2h.01M253.5 54.1h.01M249.0 54.8h.01M250.2 59.4h.01M250.5 56.9h.01M254.4 51.5h.01M249.2 54.3h.01M257.8 57.9h.01M254.0 53.6h.01M245.0 55.9h.01M258.6 55.5h.01M253.2 57.2h.01M250.7 55.0h.01M253.0 55.2h.01M246.2 53.0h.01M253.3 56.7h.01M244.0 52.7h.01M249.1 60.9h.01M257.5 55.5h.01M257.1 54.9h.01M251.5 58.0h.01M249.3 55.3h.01M256.0 55.9h.01M252.5 55.4h.01M253.4 53.4h.01M254.9 52.8h.01M248.9 53.4h.01M255.5 59.1h.01M245.2 53.7h.01M257.8 54.4h.01M247.1 54.2h.01M250.4 57.7h.01M250.3 61.7h.01M255.2 52.8h.01M255.3 57.3h.01M253.9 56.0h.01M254.6 54.7h.01M254.3 57.2h.01M252.4 51.7h.01M245.9 58.2h.01M244.5 56.3h.01M244.5 52.5h.01M252.5 60.5h.01M251.8 58.2h.01M252.1 59.2h.01M253.4 51.1h.01M251.8 54.8h.01M249.1 54.0h.01M247.3 57.5h.01M245.9 59.8h.01M256.9 49.7h.01M255.8 55.7h.01M247.8 55.2h.01M251.7 58.7h.01M254.2 55.5h.01M258.3 51.7h.01M250.5 55.0h.01M253.2 52.4h.01M256.7 53.2h.01M246.5 55.7h.01M250.0 54.1h.01M252.5 56.5h.01M250.1 50.9h.01M260.1 62.7h.01M255.7 59.5h.01M253.3 57.8h.01M249.2 51.6h.01M255.7 49.0h.01M254.9 53.0h.01M250.8 54.9h.01M251.1 62.4h.01M247.4 59.6h.01M252.3 54.0h.01M255.7 59.3h.01M256.2 59.4h.01M254.7 55.6h.01M255.5 59.3h.01M250.5 56.6h.01M250.9 53.6h.01M256.9 52.0h.01M254.2 55.2h.01M249.8 58.7h.01M254.4 51.4h.01M255.5 50.7h.01M255.1 57.3h.01M253.0 47.3h.01M250.8 61.2h.01M254.0 54.3h.01M258.6 57.8h.01M253.1 61.3h.01M250.2 51.1h.01M253.8 52.4h.01M248.2 62.5h.01M253.4 54.7h.01M251.5 55.2h.01M256.0 56.3h.01M253.0 58.8h.01M256.3 59.7h.01M260.7 55.9h.01M251.8 54.6h.01M249.6 55.5h.01M254.2 56.5h.01M252.3 59.6h.01M253.1 56.0h.01M250.5 61.2h.01M254.6 53.0h.01M252.8 57.2h.01M244.9 61.0h.01M251.7 59.6h.01M253.8 56.6h.01M256.8 52.9h.01M250.5 53.4h.01M249.7 55.1h.01M256.6 56.6h.01M250.4 54.8h.01M252.9 51.1h.01M254.3 53.3h.01M255.2 57.2h.01M252.6 58.2h.01M248.6 51.3h.01M256.2 54.5h.01M251.0 50.5h.01M250.7 53.9h.01M259.7 66.5h.01M255.7 55.8h.01M248.8 54.5h.01M250.9 53.8h.01M251.7 51.9h.01M249.9 49.9h.01M245.8 55.5h.01M255.4 54.8h.01M255.3 60.1h.01M253.4 50.6h.01M251.2 56.9h.01M253.3 59.7h.01M254.8 49.6h.01M248.9 57.6h.01M251.4 50.7h.01M250.6 57.2h.01M255.0 60.1h.01M253.5 55.6h.01M248.0 56.5h.01M250.4 53.5h.01M258.8 56.5h.01M249.1 59.1h.01M253.1 55.0h.01M250.3 55.2h.01M257.0 56.8h.01M252.3 58.1h.01M251.0 50.6h.01M248.4 55.8h.01M251.7 53.5h.01M255.5 57.1h.01M254.9 58.8h.01M247.9 56.6h.01M258.1 59.6h.01M251.7 52.6h.01M248.8 54.3h.01M253.0 52.6h.01M250.4 55.8h.01M250.5 55.9h.01M250.3 55.0h.01M252.2 51.9h.01M250.8 55.4h.01M246.5 54.3h.01M254.4 57.5h.01M250.7 54.8h.01M256.8 59.2h.01M254.4 56.3h.01M254.7 49.9h.01M253.2 55.1h.01M257.1 51.2h.01M251.4 58.6h.01M249.0 60.0h.01M253.8 55.5h.01M243.0 57.0h.01M251.2 51.2h.01M253.3 48.7h.01M251.1 53.9h.01M257.0 54.8h.01M255.0 51.0h.01M252.9 55.9h.01M251.1 56.6h.01M256.4 57.6h.01M250.1 60.4h.01M251.1 58.1h.01M255.2 54.5h.01M254.6 55.9h.01M259.7 57.4h.01M251.8 52.4h.01M245.9 59.7h.01M254.8 58.4h.01M256.9 54.9h.01M251.9 53.6h.01M258.0 67.3h.01M258.8 58.2h.01M250.2 58.5h.01M250.8 61.1h.01M248.1 58.6h.01M254.4 56.3h.01M255.0 57.8h.01M254.6 52.8h.01M248.2 57.8h.01M249.8 50.9h.01M247.5 56.9h.01M246.9 57.3h.01M247.8 50.8h.01M247.0 61.5h.01M251.9 52.1h.01M254.0 58.8h.01M254.7 54.0h.01M252.4 56.6h.01M250.2 53.6h.01M252.5 63.3h.01M254.5 58.8h.01M251.5 61.2h.01M252.7 58.0h.01M251.4 57.8h.01M250.7 56.1h.01M252.6 54.9h.01M248.6 57.5h.01M256.2 56.1h.01M247.0 55.2h.01M254.1 51.4h.01M247.7 54.7h.01M257.8 57.5h.01M255.5 54.2h.01M249.7 56.7h.01M250.9 55.2h.01M248.6 52.5h.01M252.3 52.9h.01M253.9 53.4h.01M261.5 54.8h.01M247.7 54.9h.01M256.8 59.1h.01M250.5 52.3h.01M253.5 49.4h.01M255.6 57.8h.01M254.4 54.3h.01M254.0 55.3h.01M251.8 63.5h.01M252.5 60.2h.01M253.0 57.5h.01M256.7 58.6h.01M247.4 56.0h.01M250.8 58.6h.01M248.1 53.8h.01M249.1 53.5h.01M249.7 54.2h.01M256.3 60.5h.01M260.0 60.5h.01M257.2 53.8h.01M248.4 59.3h.01M252.8 55.2h.01M248.5 59.0h.01M254.1 54.7h.01M256.9 58.6h.01M254.6 55.3h.01M255.5 54.8h.01M252.0 55.6h.01M245.6 56.2h.01M245.6 53.9h.01M252.2 51.5h.01" stroke="#222" stroke-opacity="0.4" stroke-width="0.90" stroke-linecap="round" fill="none"/>
<path d="M225.9 89.1h.01M224.4 90.4h.01M227.0 88.0h.01M227.6 89.3h.01M225.8 89.8h.01M225.1 90.1h.01M227.7 89.7h.01M227.2 89.6h.01M223.3 89.1h.01M224.5 89.3h.01M224.5 90.0h.01M224.1 90.3h.01M222.4 90.4h.01M226.2 90.7h.01M224.9 90.9h.01M225.0 87.9h.01M227.0 89.2h.01M223.9 89.6h.01M224.7 89.1h.01M225.2 90.8h.01M224.1 90.5h.01M224.6 89.6h.01M226.0 89.8h.01M224.8 91.0h.01M226.9 89.4h.01M223.6 89.4h.01M225.1 90.6h.01M222.5 90.2h.01M224.6 91.2h.01M223.7 90.1h.01M227.0 90.5h.01M226.0 89.2h.01M225.6 88.8h.01M227.7 89.7h.01M227.1 87.1h.01M225.9 90.1h.01M223.7 90.7h.01M222.5 89.8h.01M224.8 89.5h.01M224.2 90.8h.01M223.8 89.7h.01M224.3 90.7h.01M222.2 91.9h.01M227.2 90.5h.01M223.0 90.7h.01M223.7 90.2h.01M225.7 90.0h.01M222.2 90.0h.01M226.3 89.8h.01M226.3 90.8h.01M224.3 88.1h.01M223.1 89.5h.01M224.0 90.4h.01M221.8 88.9h.01M227.0 89.6h.01M224.9 89.0h.01M223.6 90.2h.01M223.3 90.6h.01M225.7 91.2h.01M227.2 90.2h.01M222.8 89.0h.01M223.9 90.0h.01M222.0 90.3h.01M225.9 91.1h.01M225.1 87.6h.01M228.4 90.1h.01M224.6 87.9h.01M224.1 90.4h.01M223.7 90.2h.01M226.2 90.2h.01M222.2 90.6h.01M226.0 90.1h.01M225.2 89.1h.01M224.0 90.1h.01M223.3 90.9h.01M226.5 89.6h.01M227.8 89.8h.01M224.1 88.5h.01M225.7 90.9h.01M227.6 89.2h.01M223.8 89.0h.01M224.4 89.3h.01M222.8 88.9h.01M224.6 89.5h.01M224.7 91.0h.01M224.1 90.5h.01M223.6 91.2h.01M222.2 91.2h.01M222.6 88.8h.01M223.2 90.2h.01M225.8 91.2h.01M224.0 92.0h.01M223.4 88.3h.01M225.9 88.3h.01M225.7 90.2h.01M223.6 89.4h.01M223.8 88.7h.01M225.9 90.1h.01M225.4 88.9h.01M223.4 87.5h.01M225.2 89.7h.01M224.8 89.9h.01M226.6 90.4h.01M223.4 90.7h.01M226.2 89.9h.01M225.5 89.5h.01M223.2 89.1h.01M226.5 88.1h.01M226.3 89.3h.01M222.7 90.7h.01M228.0 90.4h.01M222.9 91.8h.01M223.3 89.6h.01M224.3 87.9h.01M226.0 90.6h.01M225.7 90.8h.01M224.6 88.6h.01M227.0 88.1h.01M225.5 89.9h.01M227.1 90.4h.01M229.4 88.6h.01M225.1 89.4h.01M220.6 88.9h.01M224.1 88.5h.01M223.0 88.4h.01M225.0 89.9h.01M225.0 89.3h.01M222.8 89.0h.01M222.9 87.1h.01M224.4 91.5h.01M224.5 88.8h.01M220.5 89.6h.01M226.4 88.6h.01M224.9 90.1h.01M224.8 88.2h.01M225.3 89.8h.01M223.1 89.5h.01M224.7 90.6h.01M226.5 88.6h.01M226.6 89.1h.01M225.6 89.5h.01M224.3 91.8h.01M223.5 88.2h.01M227.0 90.0h.01M225.7 89.1h.01M224.1 90.0h.01M221.2 90.4h.01M223.4 89.9h.01M221.6 90.0h.01M226.9 90.0h.01M225.1 89.1h.01M223.6 89.5h.01M224.3 88.1h.01M229.1 89.4h.01M226.8 88.9h.01M222.6 89.5h.01M224.6 90.4h.01M222.8 90.1h.01M221.9 90.2h.01M225.1 90.8h.01M228.8 87.3h.01M227.4 90.1h.01M224.9 89.7h.01M224.2 89.6h.01M225.1 88.4h.01M226.5 90.3h.01M222.4 90.9h.01M221.7 90.7h.01M227.9 89.6h.01M225.3 90.3h.01M227.5 90.6h.01M225.2 91.5h.01M227.3 90.9h.01M223.8 89.8h.01M225.6 89.8h.01M227.4 89.9h.01M226.5 89.9h.01M224.0 89.2h.01M226.3 90.5h.01M223.7 89.0h.01M222.4 88.9h.01M225.7 90.1h.01M227.1 89.1h.01M226.2 89.5h.01M222.7 87.6h.01M226.3 90.5h.01M225.9 89.7h.01M224.0 89.6h.01M220.6 90.2h.01M226.5 89.9h.01M226.3 89.0h.01M225.6 91.7h.01M221.9 89.3h.01M222.3 90.7h.01M226.5 91.5h.01M226.2 89.1h.01M225.6 89.8h.01M224.4 88.9h.01M225.5 90.8h.01M223.9 89.4h.01M224.3 88.6h.01M223.3 91.0h.01M225.2 90.6h.01M224.1 88.8h.01M226.4 90.9h.01M226.0 89.9h.01M223.4 92.4h.01M227.9 91.4h.01M222.9 89.1h.01M225.6 89.4h.01M226.6 88.8h.01M227.0 89.8h.01M221.1 89.7h.01M226.5 90.4h.01M226.9 89.8h.01M227.2 88.2h.01M221.0 88.9h.01M223.7 91.1h.01M224.6 90.9h.01M224.0 89.5h.01M227.1 89.6h.01M223.6 89.5h.01M226.9 89.7h.01M225.8 88.0h.01M222.3 90.6h.01M223.1 89.0h.01M224.0 89.8h.01M225.0 87.2h.01M226.5 89.9h.01M224.5 91.0h.01M226.3 87.5h.01M222.1 91.2h.01M219.6 90.2h.01M224.2 89.0h.01M225.6 88.1h.01M224.2 90.9h.01M223.1 90.0h.01M225.5 90.3h.01M228.1 89.4h.01M224.6 88.9h.01M223.6 90.6h.01M223.4 88.7h.01M228.1 90.6h.01M224.7 88.0h.01M225.8 88.8h.01M226.9 88.2h.01M226.6 91.0h.01M223.2 87.9h.01M226.4 88.6h.01M226.2 90.4h.01M225.6 89.9h.01M226.5 91.9h.01M223.8 91.5h.01M224.7 90.3h.01M223.9 90.4h.01M226.1 87.9h.01M223.7 88.8h.01M225.5 89.4h.01M222.9 89.5h.01M224.6 88.3h.01M224.2 88.8h.01M224.6 88.8h.01M225.0 90.8h.01M224.5 90.1h.01M224.4 89.4h.01M221.3 89.4h.01M226.7 90.0h.01M223.7 89.0h.01M224.4 89.4h.01M223.4 88.0h.01M226.5 90.4h.01M223.3 90.7h.01M225.7 90.1h.01M226.8 90.2h.01M227.6 90.1h.01M226.8 91.7h.01M225.9 89.9h.01M222.8 88.4h.01M227.0 88.6h.01M226.8 90.4h.01M226.2 90.8h.01M226.2 90.5h.01M224.9 90.5h.01M223.9 89.9h.01M226.6 88.2h.01M227.0 89.0h.01M223.0 87.9h.01M226.4 89.3h.01M225.2 88.3h.01M226.3 89.8h.01M225.3 89.5h.01M226.7 87.7h.01M226.6 90.4h.01M226.3 90.5h.01M222.5 88.3h.01M226.2 89.8h.01M224.9 90.4h.01M222.9 89.4h.01M226.0 90.6h.01M222.5 89.9h.01M226.3 90.8h.01M227.7 89.9h.01M224.0 89.5h.01M226.4 90.2h.01M225.6 90.5h.01M225.9 89.9h.01M222.5 89.2h.01M225.9 88.9h.01M225.1 89.3h.01M226.1 89.1h.01M224.8 89.9h.01M226.7 89.9h.01M225.3 89.6h.01M226.0 89.7h.01M227.1 89.9h.01M225.1 91.3h.01M226.5 90.9h.01M225.2 89.1h.01M225.7 90.1h.01M224.0 89.4h.01M226.2 89.6h.01M226.9 89.4h.01M224.7 89.1h.01M226.2 88.3h.01M225.6 87.2h.01M223.0 89.9h.01M225.4 90.9h.01M227.1 88.8h.01M224.0 90.2h.01M221.9 89.3h.01M225.2 90.0h.01M223.8 88.9h.01M228.0 89.4h.01M224.8 89.6h.01M224.8 87.3h.01M223.8 89.9h.01M225.3 89.5h.01M223.9 87.2h.01M223.3 90.3h.01M224.8 89.6h.01M223.5 89.9h.01M227.1 90.0h.01M222.9 89.3h.01M224.7 88.6h.01M223.7 89.2h.01M222.6 89.2h.01M227.6 91.9h.01M221.3 91.5h.01M227.3 89.2h.01M222.5 89.3h.01M225.0 90.0h.01M228.6 90.2h.01M221.3 89.0h.01M222.6 88.7h.01M227.0 91.6h.01M225.1 90.7h.01M223.9 88.1h.01M224.8 87.9h.01M223.3 88.8h.01M225.1 89.9h.01M227.4 90.2h.01M224.2 89.3h.01M225.1 88.0h.01M226.9 89.9h.01M228.2 90.3h.01M223.9 89.7h.01M225.4 89.2h.01M223.9 90.3h.01M223.8 89.6h.01M224.2 88.5h.01M223.8 89.8h.01M222.0 88.4h.01M221.5 90.7h.01M223.6 90.1h.01M225.1 88.7h.01M226.9 89.9h.01M224.0 90.9h.01M224.6 87.5h.01M226.0 89.5h.01M226.1 91.3h.01M224.7 88.1h.01M224.8 89.5h.01M228.0 88.2h.01M224.3 89.6h.01M224.0 87.2h.01M222.2 88.0h.01M225.6 89.1h.01M224.4 89.8h.01M228.0 90.1h.01M224.3 90.1h.01M226.2 90.8h.01M226.4 90.4h.01M227.6 90.4h.01M222.7 88.7h.01M227.5 89.5h.01M224.9 92.9h.01M224.7 92.0h.01M224.3 90.5h.01M224.2 90.4h.01M224.3 90.7h.01M221.0 89.3h.01M225.7 91.7h.01M225.0 89.3h.01M223.3 89.6h.01M224.8 91.9h.01M228.7 87.5h.01M225.5 90.0h.01M224.2 87.9h.01M227.7 89.0h.01M223.5 89.6h.01M224.6 89.3h.01M223.9 89.8h.01M224.5 88.9h.01M226.1 89.6h.01M225.8 88.4h.01M223.6 89.3h.01M224.6 88.2h.01M225.0 90.3h.01M224.2 88.3h.01M224.8 90.4h.01M223.7 89.2h.01M223.6 89.4h.01M224.9 90.9h.01M223.1 89.8h.01M225.5 87.7h.01M224.5 90.2h.01M223.3 86.7h.01M223.8 89.9h.01M224.1 89.3h.01M224.6 88.2h.01M225.0 89.8h.01M224.5 89.3h.01M223.4 91.7h.01M227.2 89.2h.01M226.4 91.7h.01M225.0 91.1h.01M226.4 89.0h.01M225.4 88.8h.01M224.4 91.0h.01M225.0 89.5h.01M229.3 89.8h.01M226.5 89.4h.01M226.6 88.4h.01M224.2 89.3h.01M225.8 88.7h.01M228.6 88.1h.01M225.6 89.4h.01M226.6 91.5h.01M226.9 91.4h.01M225.9 89.6h.01M227.5 89.8h.01M225.2 90.2h.01M225.7 91.1h.01M223.8 90.0h.01M229.2 89.2h.01M225.4 89.3h.01M225.0 90.9h.01M227.1 92.4h.01M224.0 89.0h.01M224.8 87.5h.01M223.6 90.5h.01M224.9 89.6h.01M224.2 89.8h.01M225.7 91.0h.01M224.6 89.7h.01M223.9 88.3h.01M224.4 87.6h.01M224.7 89.6h.01M224.0 88.5h.01M226.4 90.0h.01M226.0 88.3h.01M225.1 89.3h.01M222.9 88.1h.01M225.7 89.3h.01M222.7 89.2h.01M225.2 90.3h.01M224.9 91.1h.01M223.9 89.5h.01M223.5 88.8h.01M223.7 91.7h.01M228.2 90.1h.01M224.4 90.3h.01M224.5 90.3h.01M226.4 91.2h.01M225.5 90.7h.01M226.6 90.4h.01M222.8 90.5h.01M223.1 88.8h.01M230.3 89.0h.01M224.8 89.6h.01M224.4 89.8h.01M225.1 89.7h.01M226.5 90.0h.01M222.9 89.7h.01M225.3 89.2h.01M224.8 88.0h.01M225.9 90.5h.01M225.1 90.3h.01M224.0 88.8h.01M223.4 90.2h.01M220.9 90.1h.01M226.5 89.7h.01M222.4 87.7h.01M224.2 88.4h.01M227.6 89.0h.01M224.2 91.4h.01M225.8 88.8h.01M224.5 89.3h.01M226.0 88.5h.01M224.9 89.2h.01M224.0 90.0h.01M227.1 87.5h.01M224.4 86.7h.01M222.7 90.4h.01M224.3 89.7h.01M225.7 89.0h.01M223.0 90.7h.01M226.1 90.7h.01M226.1 87.5h.01M228.3 89.5h.01M230.3 89.9h.01M225.7 89.0h.01M226.6 93.2h.01M229.9 89.5h.01M226.7 90.4h.01M224.3 91.4h.01M225.6 88.1h.01M224.0 88.8h.01M228.9 89.3h.01M223.0 88.6h.01M230.0 88.2h.01M223.2 89.1h.01M227.5 91.3h.01M223.6 90.6h.01M226.6 89.8h.01M230.1 89.8h.01M230.3 87.8h.01M230.8 90.6h.01M227.2 90.3h.01M227.7 88.5h.01M228.0 90.0h.01M229.0 89.5h.01M226.4 89.1h.01M230.3 88.6h.01M228.3 89.0h.01M230.4 88.6h.01M228.7 90.3h.01M229.2 90.2h.01M225.5 90.1h.01M226.3 89.5h.01M224.1 89.3h.01M226.7 92.2h.01M227.0 87.5h.01M229.6 91.2h.01M224.2 90.2h.01M235.8 89.8h.01M227.1 89.2h.01M230.7 89.5h.01M230.1 88.3h.01M220.9 88.1h.01M226.7 89.6h.01M231.3 87.8h.01M221.1 90.8h.01M229.4 91.1h.01M225.1 85.6h.01M226.2 87.9h.01M228.0 90.1h.01M222.6 90.0h.01M227.9 89.9h.01M225.7 90.3h.01M225.5 90.7h.01M229.3 90.8h.01M236.5 91.9h.01M228.3 89.8h.01M228.9 90.8h.01M227.3 87.8h.01M225.5 89.6h.01M228.1 88.3h.01M231.4 91.4h.01M227.9 92.6h.01M229.7 90.4h.01M226.8 88.2h.01M234.0 89.6h.01M223.1 89.8h.01M228.9 90.0h.01M228.8 91.1h.01M228.1 90.9h.01M224.5 86.6h.01M224.5 91.4h.01M226.8 89.2h.01M227.7 89.1h.01M224.3 91.5h.01M224.6 89.5h.01M228.9 88.1h.01M230.1 88.2h.01M226.0 89.8h.01M225.6 90.9h.01M225.5 91.6h.01M233.9 89.6h.01M228.7 89.2h.01M227.2 91.7h.01M230.0 89.2h.01M233.4 91.5h.01M230.5 90.1h.01M223.7 90.1h.01M227.2 89.5h.01M226.4 90.1h.01M226.5 89.2h.01M224.2 89.0h.01M226.4 89.6h.01M224.6 89.0h.01M228.3 90.1h.01M227.5 89.9h.01M223.7 89.5h.01M223.0 89.5h.01M226.2 89.5h.01M229.1 91.9h.01M228.7 89.8h.01M227.2 89.1h.01M218.8 89.4h.01M226.1 90.6h.01M225.5 89.5h.01M226.5 89.6h.01M224.2 89.5h.01M226.3 90.0h.01M225.7 90.2h.01M234.5 90.3h.01M229.2 87.8h.01M226.9 88.5h.01M227.3 86.6h.01M227.1 90.7h.01M227.9 91.1h.01M226.3 91.3h.01M227.3 89.9h.01M230.1 91.1h.01M229.6 89.7h.01M228.2 89.6h.01M230.9 87.9h.01M228.0 88.8h.01M224.8 89.1h.01M222.8 90.9h.01M225.6 91.8h.01M227.2 89.2h.01M228.4 90.2h.01M230.2 90.1h.01M225.9 88.8h.01M225.3 87.7h.01M229.4 88.9h.01M230.5 88.0h.01M226.2 89.4h.01M228.3 89.6h.01M231.0 89.6h.01M228.2 89.6h.01M227.3 90.3h.01M222.0 88.7h.01M230.9 90.8h.01M229.1 87.8h.01M227.7 89.8h.01M226.2 90.2h.01M224.1 88.8h.01M227.1 87.9h.01M227.1 90.5h.01M230.3 89.0h.01M224.2 90.7h.01M231.2 90.7h.01M227.5 89.8h.01M230.5 89.8h.01M224.9 91.0h.01M228.3 90.2h.01M230.6 88.6h.01M227.7 90.0h.01M223.6 90.4h.01M226.5 90.0h.01M228.8 90.0h.01M223.7 89.6h.01M223.6 89.6h.01M228.0 88.6h.01M224.9 88.1h.01M229.2 91.1h.01M224.3 89.0h.01M222.6 90.0h.01M225.4 88.0h.01M231.3 90.0h.01M225.1 88.8h.01M227.4 93.3h.01M228.0 88.5h.01M224.9 88.6h.01M230.2 90.9h.01M227.9 91.1h.01M228.6 87.3h.01M223.0 90.1h.01M222.8 90.8h.01M220.2 88.3h.01M226.9 90.6h.01M226.8 89.1h.01M229.3 88.6h.01M231.3 89.3h.01M226.7 89.2h.01M226.7 88.1h.01M228.6 92.4h.01M231.4 89.2h.01M225.3 88.9h.01M229.0 90.8h.01M226.8 89.7h.01M226.5 91.4h.01M229.5 89.4h.01M225.3 90.2h.01M224.6 89.9h.01M229.1 90.0h.01M227.3 89.5h.01M226.7 89.6h.01M227.1 91.8h.01M228.7 89.0h.01M226.4 89.1h.01M229.4 89.4h.01M228.5 90.4h.01M231.3 90.2h.01M230.7 90.9h.01M229.6 88.2h.01M226.9 90.1h.01" stroke="#000" stroke-opacity="0.6" stroke-width="1.00" stroke-linecap="round" fill="none"/>
<line x1="206.00" y1="67.80" x2="277.40" y2="67.80" stroke="#8a8a8a" stroke-width="1.3"/>
<line x1="241.20" y1="36.10" x2="241.20" y2="107.20" stroke="#555" stroke-width="1"/>
<text x="206.80" y="42.30" font-size="6.9" stroke="#111" stroke-width="0.2" text-anchor="start" fill="#111">1.18</text>
<text x="275.90" y="42.30" font-size="6.9" stroke="#111" stroke-width="0.2" text-anchor="end" fill="#111">14.2</text>
<text x="206.80" y="106.30" font-size="6.9" stroke="#111" stroke-width="0.2" text-anchor="start" fill="#111">73.2</text>
<text x="275.90" y="106.30" font-size="6.9" stroke="#111" stroke-width="0.2" text-anchor="end" fill="#111">11.5</text>
<rect x="56.1" y="110.3" width="71.30000000000001" height="71.50000000000001" fill="#fff" stroke="#a4a4a4" stroke-width="1"/>
<path d="M91.5 162.4h.01M95.7 167.8h.01M85.7 168.3h.01M97.8 161.8h.01M99.2 168.0h.01M95.1 168.4h.01M96.9 159.3h.01M91.0 168.1h.01M112.0 165.7h.01M97.5 159.3h.01M84.8 164.6h.01M99.2 167.9h.01M96.6 167.8h.01M90.2 168.2h.01M107.9 164.5h.01M98.2 160.3h.01M110.6 162.7h.01M105.0 162.3h.01M116.6 165.5h.01M95.6 162.0h.01M85.4 164.9h.01M90.3 162.4h.01M109.8 164.0h.01M90.7 165.7h.01M104.3 167.5h.01M88.0 159.7h.01M113.2 163.8h.01M97.2 162.5h.01M94.0 165.6h.01M114.3 166.5h.01M108.0 166.4h.01M104.6 160.9h.01M114.9 160.8h.01M111.6 167.9h.01M84.4 162.4h.01M115.0 166.3h.01M90.8 159.5h.01M108.8 165.3h.01M94.3 161.6h.01M94.2 166.0h.01M98.5 160.1h.01M84.3 168.1h.01M112.8 166.2h.01M93.2 165.5h.01M105.7 164.0h.01M89.0 167.2h.01M87.4 163.7h.01M84.7 165.7h.01M100.6 163.2h.01M98.3 159.4h.01M108.6 163.9h.01M98.8 167.3h.01M101.3 165.7h.01M103.4 160.2h.01M89.0 159.6h.01M96.9 161.0h.01M112.4 165.6h.01M117.7 162.4h.01M100.7 161.8h.01M94.7 168.0h.01M113.1 159.4h.01M102.7 167.5h.01M85.5 162.8h.01M89.6 167.4h.01M105.9 162.2h.01M88.3 164.5h.01M102.1 160.7h.01M117.0 162.1h.01M101.7 165.8h.01M99.5 166.1h.01M111.3 161.0h.01M101.9 165.7h.01M112.6 169.1h.01M84.5 165.3h.01M112.8 162.1h.01M89.7 166.1h.01M91.5 165.2h.01M103.4 165.9h.01M107.3 167.7h.01M89.6 168.7h.01M111.1 160.8h.01M100.5 161.8h.01M109.6 160.6h.01M96.3 169.3h.01M96.3 169.1h.01M102.3 166.8h.01M106.5 165.5h.01M110.3 160.9h.01M95.5 162.3h.01M105.1 160.6h.01M92.8 162.9h.01M108.0 160.3h.01M97.8 159.5h.01M115.6 159.9h.01M108.9 163.7h.01M86.7 160.9h.01M105.8 159.9h.01M97.0 166.8h.01M95.1 166.9h.01M91.2 168.7h.01M108.0 167.3h.01M113.1 168.8h.01M99.2 165.8h.01M101.0 164.6h.01M95.4 163.4h.01M111.7 162.6h.01M117.6 159.5h.01M99.5 166.4h.01M99.4 162.5h.01M90.6 166.6h.01M93.8 168.7h.01M97.5 167.2h.01M98.2 164.4h.01M89.8 164.9h.01M96.3 168.2h.01M86.2 161.7h.01M93.7 165.2h.01M106.4 165.3h.01M115.0 165.3h.01M91.5 162.2h.01M107.9 163.9h.01M91.9 164.4h.01M116.4 167.2h.01M92.6 168.9h.01M85.8 159.8h.01M116.4 167.3h.01M95.9 164.2h.01M91.2 165.8h.01M99.6 164.7h.01M112.8 167.3h.01M97.5 163.4h.01M99.7 163.3h.01M106.3 164.8h.01M84.9 169.0h.01M114.9 163.5h.01M108.3 163.5h.01M104.2 164.4h.01M96.2 169.3h.01M117.1 160.9h.01M86.6 165.3h.01M84.3 165.4h.01M104.3 168.2h.01M107.1 162.8h.01M89.2 165.5h.01M112.8 161.8h.01M98.9 163.2h.01M95.5 160.1h.01M108.4 162.1h.01M98.0 163.2h.01M89.6 162.3h.01M98.7 163.4h.01M85.4 162.2h.01M94.6 161.8h.01M104.0 162.7h.01M86.8 166.0h.01M98.9 165.5h.01M100.5 169.1h.01M85.3 160.7h.01M91.3 167.4h.01M85.7 160.1h.01M101.8 161.6h.01M105.9 159.5h.01M84.2 164.3h.01M103.4 159.4h.01M113.4 160.0h.01M85.6 165.8h.01M104.3 165.8h.01M95.0 160.3h.01M89.0 165.5h.01M113.7 163.6h.01M113.5 139.1h.01M98.9 145.1h.01M96.4 137.2h.01M119.7 128.6h.01M83.9 143.8h.01M92.8 148.5h.01M108.8 142.5h.01M106.3 148.7h.01M72.2 137.5h.01M70.7 131.2h.01M84.1 134.3h.01M118.7 145.4h.01M73.4 148.8h.01M71.2 132.7h.01M116.1 146.0h.01M77.1 144.5h.01M85.9 131.7h.01M113.2 146.1h.01M90.0 136.4h.01M72.3 129.8h.01M90.9 139.8h.01M106.6 132.4h.01M78.1 139.2h.01M83.4 149.2h.01M86.8 131.1h.01M70.7 139.6h.01M104.5 138.6h.01M74.7 130.4h.01M80.9 140.9h.01M92.4 132.3h.01M108.0 148.1h.01M74.3 146.8h.01M118.5 139.0h.01M95.4 132.2h.01M78.5 129.7h.01M79.0 131.8h.01M97.0 138.9h.01M74.6 140.3h.01M78.3 129.6h.01M117.9 144.3h.01M113.8 138.0h.01M100.9 149.7h.01M107.5 135.8h.01M75.6 137.4h.01M83.9 145.3h.01M70.9 136.2h.01M99.2 145.1h.01M70.3 139.2h.01M75.4 129.1h.01M119.9 148.0h.01M74.6 147.9h.01M119.3 129.3h.01M97.1 134.2h.01M94.5 139.9h.01M76.5 128.8h.01M89.8 136.0h.01M87.6 127.9h.01M104.9 139.1h.01M119.2 137.9h.01M86.3 148.6h.01M71.4 145.6h.01M118.3 132.8h.01M94.3 142.6h.01M90.6 149.3h.01M108.1 129.4h.01M102.2 139.1h.01M97.1 129.8h.01M77.1 132.4h.01M110.0 138.2h.01M82.3 126.5h.01M100.5 137.8h.01M79.5 133.4h.01M81.7 127.8h.01M101.4 139.1h.01M107.4 131.1h.01M118.7 131.1h.01M104.3 148.9h.01M101.9 136.8h.01M100.1 139.4h.01M84.6 128.8h.01M115.8 149.1h.01M99.2 140.4h.01M72.8 133.4h.01M93.9 142.2h.01M87.1 141.8h.01M78.0 138.0h.01M104.6 136.5h.01M110.5 128.6h.01M115.0 144.5h.01M113.8 127.2h.01M119.4 127.8h.01M79.7 141.3h.01M98.6 147.3h.01M90.5 147.9h.01M106.4 131.6h.01M104.6 145.9h.01M73.8 130.7h.01M83.9 130.9h.01M81.1 137.4h.01M73.7 140.1h.01M83.7 139.0h.01M94.1 148.3h.01M85.6 138.2h.01M77.6 135.0h.01M110.2 137.4h.01M73.4 130.7h.01M82.3 143.6h.01M104.3 130.5h.01M90.4 137.9h.01M102.4 128.5h.01M74.0 143.6h.01M116.9 135.0h.01M89.7 145.2h.01M111.4 130.3h.01M91.0 138.0h.01M111.6 147.3h.01M71.7 143.8h.01M84.0 131.3h.01M119.7 128.6h.01M73.8 140.6h.01M112.7 149.8h.01M89.0 136.0h.01M94.2 143.2h.01M84.4 142.7h.01M87.5 149.8h.01M119.3 136.1h.01M93.5 128.5h.01M77.1 128.7h.01M108.1 148.1h.01M80.7 131.5h.01M107.2 128.2h.01M113.9 131.8h.01M108.1 134.4h.01M104.8 132.3h.01M124.7 131.3h.01M100.2 133.3h.01M107.0 137.4h.01M110.8 126.2h.01M102.9 137.2h.01M108.0 133.3h.01M106.0 129.9h.01M100.7 134.5h.01M110.4 132.6h.01M102.4 136.1h.01M104.3 130.1h.01M114.3 135.4h.01M102.5 129.8h.01M111.1 133.4h.01M114.0 134.6h.01M113.1 132.2h.01M110.4 134.4h.01M106.9 130.7h.01M101.1 135.7h.01M108.8 131.0h.01M110.3 130.4h.01M105.5 132.1h.01M103.1 132.3h.01M112.4 130.0h.01M102.8 134.9h.01M110.3 132.1h.01M105.7 134.3h.01M99.6 128.0h.01M116.1 128.5h.01M111.1 131.7h.01M110.8 129.5h.01M101.0 132.1h.01M107.4 134.2h.01M109.4 135.8h.01M104.3 136.9h.01M116.3 134.8h.01M97.9 130.4h.01M111.5 134.1h.01M98.6 130.9h.01M100.2 134.1h.01M101.6 129.3h.01M110.9 136.5h.01M104.4 133.7h.01M104.6 131.6h.01M103.4 128.4h.01M100.5 133.3h.01M103.5 130.9h.01M103.0 133.2h.01M106.3 130.3h.01M106.0 130.9h.01M95.9 134.4h.01M104.6 136.9h.01M114.0 128.7h.01M105.5 131.9h.01M107.5 133.7h.01M104.2 132.0h.01M104.4 131.2h.01M107.4 139.0h.01M101.0 130.0h.01M106.9 133.6h.01M99.4 131.0h.01M109.4 132.2h.01M99.9 125.6h.01M111.0 135.2h.01M112.8 131.9h.01M99.6 129.6h.01M111.1 137.5h.01M105.6 131.7h.01M113.5 130.7h.01M105.0 130.0h.01M106.2 135.7h.01M106.2 132.6h.01M113.9 131.6h.01M97.9 128.5h.01M111.5 129.8h.01M108.1 133.5h.01M105.2 132.4h.01M106.4 126.5h.01M112.3 129.9h.01M111.7 133.2h.01M116.1 140.5h.01M104.4 130.2h.01M98.1 125.8h.01M104.8 134.8h.01M106.6 131.1h.01M105.4 128.5h.01M113.7 134.2h.01M119.0 131.8h.01M109.5 129.6h.01M98.7 128.6h.01M112.8 132.1h.01M104.4 132.8h.01M107.8 127.2h.01M111.8 135.5h.01M109.4 128.7h.01M107.2 136.7h.01M109.0 133.5h.01M111.4 131.9h.01M110.7 133.5h.01M117.9 130.7h.01M92.6 132.3h.01M103.7 137.4h.01M104.6 130.8h.01M111.7 134.9h.01M108.7 129.8h.01M111.8 132.4h.01" stroke="#333" stroke-opacity="0.25" stroke-width="0.80" stroke-linecap="round" fill="none"/>
<path d="M80.4 163.5h.01M89.5 162.1h.01M76.9 163.8h.01M78.9 162.8h.01M77.1 166.0h.01M80.6 165.3h.01M81.4 163.9h.01M77.4 163.1h.01M77.2 158.7h.01M79.1 163.0h.01M76.4 164.7h.01M80.4 165.4h.01M76.5 158.3h.01M88.0 159.6h.01M77.5 164.4h.01M79.4 162.2h.01M80.1 163.7h.01M81.7 163.2h.01M77.1 165.2h.01M80.2 160.6h.01M86.4 163.0h.01M79.4 165.9h.01M82.5 164.5h.01M78.8 162.6h.01M80.5 165.0h.01M76.4 164.6h.01M78.2 162.4h.01M78.2 165.4h.01M102.9 165.4h.01M76.2 163.9h.01M77.0 165.9h.01M78.0 161.9h.01M77.6 165.5h.01M82.2 163.7h.01M81.4 162.3h.01M76.4 163.0h.01M83.2 166.3h.01M82.3 163.1h.01M78.9 163.5h.01M80.0 162.9h.01M87.8 162.6h.01M78.4 165.9h.01M91.6 168.3h.01M76.8 166.6h.01M84.8 165.1h.01M81.7 165.5h.01M79.1 163.5h.01M76.4 163.2h.01M78.0 161.9h.01M78.7 166.8h.01M89.0 163.5h.01M80.8 162.8h.01M84.2 162.9h.01M77.3 164.5h.01M83.6 163.1h.01M78.3 164.1h.01M79.6 164.4h.01M78.0 166.6h.01M78.0 161.8h.01M77.3 164.7h.01M76.7 162.8h.01M98.6 163.3h.01M88.3 167.2h.01M76.9 165.3h.01M76.7 163.4h.01M80.9 165.0h.01M90.6 164.1h.01M84.2 166.2h.01M79.0 163.2h.01M77.6 165.0h.01M84.6 163.7h.01M76.6 164.1h.01M80.9 163.8h.01M78.8 163.0h.01M78.7 164.3h.01M79.8 166.0h.01M78.2 163.0h.01M80.6 163.4h.01M78.6 164.8h.01M78.1 162.7h.01M82.6 165.7h.01M81.2 165.4h.01M79.3 159.8h.01M80.1 162.9h.01M80.6 162.1h.01M84.0 165.7h.01M78.3 165.9h.01M76.4 161.9h.01M77.3 162.8h.01M82.9 164.0h.01M77.9 163.4h.01M80.5 165.5h.01M80.7 166.0h.01M77.7 165.2h.01M78.8 166.2h.01M79.9 165.9h.01M80.9 164.0h.01M79.1 163.3h.01M84.5 162.7h.01M86.3 165.7h.01M77.8 165.8h.01M88.4 166.0h.01M76.3 163.5h.01M89.3 163.4h.01M81.7 164.6h.01M76.2 166.5h.01M77.6 164.8h.01M76.7 164.5h.01M88.7 162.6h.01M90.2 165.0h.01M78.7 165.1h.01M83.2 162.3h.01M80.7 167.4h.01M98.0 162.4h.01M78.4 165.9h.01M77.3 163.7h.01M82.2 164.4h.01M77.8 162.7h.01M78.8 163.1h.01M82.4 165.4h.01M77.5 163.8h.01M77.5 163.5h.01M78.8 165.8h.01M78.5 165.5h.01M76.8 164.4h.01M76.6 164.6h.01M80.3 167.3h.01M76.6 163.8h.01M76.3 164.9h.01M84.6 164.9h.01M77.1 161.5h.01M78.3 160.5h.01M77.5 164.4h.01M77.4 165.8h.01M83.8 164.5h.01M76.9 163.1h.01M76.8 162.9h.01M85.1 165.6h.01M76.1 163.6h.01M89.5 161.1h.01M80.4 165.4h.01M78.0 164.6h.01M80.2 164.8h.01M82.6 166.1h.01M76.5 166.6h.01M76.4 165.2h.01M86.9 163.8h.01M76.5 160.2h.01M76.8 164.7h.01M93.6 163.8h.01M77.5 166.6h.01M78.4 166.5h.01M79.5 165.0h.01M86.5 166.7h.01M80.4 164.0h.01M83.2 164.0h.01M81.1 162.5h.01M76.9 163.5h.01M76.2 164.5h.01M78.0 166.1h.01M80.2 162.8h.01M84.2 165.6h.01M88.1 168.5h.01M81.2 161.6h.01M80.4 163.6h.01M78.9 164.2h.01M77.4 166.0h.01M76.6 167.8h.01M76.4 166.4h.01M88.7 164.1h.01M82.6 162.5h.01M82.4 164.0h.01M83.2 164.1h.01M76.9 164.6h.01M83.7 162.5h.01M77.8 167.0h.01M78.4 162.8h.01M84.4 165.4h.01M78.5 164.5h.01M79.1 162.1h.01M77.8 164.2h.01M90.9 164.2h.01M98.7 163.8h.01M76.5 165.6h.01M95.1 163.2h.01M79.3 168.9h.01M80.3 166.2h.01M79.9 162.4h.01M81.2 159.5h.01M77.4 166.5h.01M78.3 164.6h.01M78.7 164.3h.01M83.5 162.3h.01M84.1 161.4h.01M81.3 160.6h.01M77.7 168.9h.01M77.6 167.1h.01M76.9 163.1h.01M77.5 167.6h.01M76.4 160.6h.01M78.6 165.4h.01M78.9 165.4h.01M76.3 162.5h.01M76.3 163.3h.01M78.9 162.2h.01M86.1 164.2h.01M77.5 166.6h.01M92.1 166.0h.01M78.3 164.9h.01M76.8 166.2h.01M84.9 160.8h.01M78.1 167.9h.01M83.5 164.0h.01M77.1 161.6h.01M76.3 163.4h.01M83.0 162.9h.01M76.4 164.3h.01M77.7 164.7h.01M76.9 159.7h.01M76.9 166.5h.01M77.5 167.4h.01M83.2 162.2h.01M77.3 166.9h.01M81.1 166.5h.01M78.1 166.0h.01M79.1 167.2h.01M76.1 161.5h.01M76.3 165.5h.01M76.7 162.2h.01M77.6 168.6h.01M82.0 162.3h.01M86.0 161.8h.01M79.0 166.2h.01M83.6 165.3h.01M77.8 164.2h.01M77.9 164.4h.01M81.0 165.3h.01M85.0 167.4h.01M80.2 162.8h.01M78.7 163.0h.01M77.1 163.0h.01M76.5 164.0h.01M81.2 164.1h.01M81.5 161.7h.01M82.7 164.7h.01M77.8 161.7h.01M77.8 163.5h.01M82.3 163.6h.01M81.6 163.6h.01M81.5 166.9h.01M81.6 167.2h.01M78.6 166.1h.01M82.3 167.1h.01M77.7 163.6h.01M83.7 166.8h.01M79.5 164.0h.01M77.7 164.5h.01M77.8 164.6h.01M76.4 161.6h.01M77.1 162.9h.01" stroke="#222" stroke-opacity="0.4" stroke-width="0.90" stroke-linecap="round" fill="none"/>
<path d="M75.7 164.1h.01M74.4 164.8h.01M73.1 160.4h.01M77.5 163.0h.01M74.6 169.5h.01M73.2 165.6h.01M74.8 164.3h.01M76.6 158.0h.01M72.1 162.0h.01M76.8 165.1h.01M74.3 164.4h.01M77.9 164.9h.01M75.7 166.0h.01M74.3 164.1h.01M76.7 165.8h.01M76.7 160.1h.01M73.9 169.3h.01M74.9 163.3h.01M73.6 162.5h.01M76.1 167.2h.01M72.1 165.2h.01M74.2 166.0h.01M70.8 162.6h.01M75.5 164.5h.01M70.7 165.5h.01M72.7 161.5h.01M75.0 163.5h.01M73.9 163.4h.01M73.7 163.3h.01M72.8 162.4h.01M73.7 161.2h.01M71.5 164.9h.01M75.1 164.5h.01M75.9 166.4h.01M75.8 163.8h.01M74.4 162.5h.01M76.6 160.8h.01M75.3 164.1h.01M76.2 163.3h.01M75.2 168.3h.01M74.6 168.9h.01M73.2 167.3h.01M70.0 162.0h.01M75.6 160.9h.01M74.3 163.4h.01M77.9 162.0h.01M71.1 167.0h.01M76.0 164.2h.01M72.9 163.0h.01M74.5 163.9h.01M73.0 166.6h.01M75.1 161.9h.01M74.5 165.0h.01M76.0 161.1h.01M74.8 163.5h.01M75.3 162.5h.01M76.7 164.6h.01M75.4 164.3h.01M74.3 166.5h.01M76.6 165.4h.01M74.3 162.6h.01M75.2 161.1h.01M74.0 162.2h.01M73.4 163.0h.01M69.4 163.4h.01M75.7 162.3h.01M72.5 166.2h.01M75.8 165.9h.01M77.6 163.3h.01M72.3 162.8h.01M76.0 163.4h.01M74.3 163.8h.01M75.3 163.9h.01M72.5 160.4h.01M74.6 163.0h.01M74.8 159.9h.01M77.0 164.0h.01M78.2 165.4h.01M75.1 161.6h.01M73.9 164.3h.01M78.3 162.6h.01M74.3 162.4h.01M74.4 168.1h.01M74.7 165.8h.01M75.3 165.0h.01M75.7 163.0h.01M73.5 164.8h.01M74.3 163.5h.01M77.7 164.9h.01M77.3 162.0h.01M75.3 163.8h.01M75.0 163.1h.01M74.1 160.9h.01M76.3 167.6h.01M73.6 165.7h.01M74.7 162.2h.01M73.7 160.7h.01M73.5 162.3h.01M74.6 162.1h.01M74.5 162.6h.01M73.5 160.7h.01M74.4 162.1h.01M74.6 164.0h.01M73.7 164.8h.01M73.4 159.6h.01M74.3 163.9h.01M75.7 161.8h.01M76.4 161.7h.01M74.8 163.2h.01M74.1 162.4h.01M74.5 165.4h.01M77.8 165.4h.01M76.1 163.2h.01M72.9 162.5h.01M74.4 167.8h.01M73.6 167.9h.01M73.9 164.7h.01M71.6 163.6h.01M74.6 166.1h.01M72.2 167.0h.01M73.5 162.8h.01M77.1 167.8h.01M76.2 163.6h.01M73.0 166.3h.01M72.8 162.8h.01M73.0 164.1h.01M71.3 162.9h.01M72.9 164.0h.01M74.1 166.1h.01M72.7 162.0h.01M75.8 163.3h.01M74.4 165.1h.01M73.6 162.9h.01M77.5 168.3h.01M75.7 160.7h.01M74.7 169.4h.01M77.7 162.5h.01M76.8 166.0h.01M73.3 167.4h.01M75.1 165.1h.01M73.8 160.8h.01M72.1 163.2h.01M77.8 164.1h.01M77.1 165.1h.01M72.4 166.0h.01M75.4 166.3h.01M71.7 167.1h.01M76.4 161.8h.01M74.4 166.1h.01M74.0 160.1h.01M76.7 164.2h.01M74.5 161.6h.01M74.1 160.0h.01M76.1 165.9h.01M74.0 163.8h.01M76.0 166.1h.01M74.5 160.5h.01M76.0 161.3h.01M75.6 163.7h.01M75.9 162.5h.01M72.8 164.1h.01M77.8 162.5h.01M74.3 163.2h.01M77.6 161.4h.01M73.5 166.7h.01M74.1 163.2h.01M74.1 161.3h.01M76.5 165.4h.01M73.8 165.0h.01M75.3 164.4h.01M71.8 164.4h.01M73.7 163.0h.01M74.9 163.6h.01M74.3 159.1h.01M71.3 160.5h.01M75.4 161.2h.01M72.9 164.5h.01M77.9 166.6h.01M74.2 163.5h.01M78.4 163.3h.01M75.7 166.4h.01M75.3 163.1h.01M73.7 165.3h.01M74.3 164.8h.01M75.3 161.0h.01M71.2 164.6h.01M76.3 164.4h.01M72.5 161.4h.01M74.1 161.6h.01M69.8 161.1h.01M75.3 166.9h.01M75.8 168.5h.01M75.0 165.4h.01M75.1 167.3h.01M73.9 161.0h.01M74.8 167.0h.01M76.6 168.2h.01M73.8 167.4h.01M75.4 161.8h.01M75.8 166.3h.01M74.1 163.7h.01M74.9 166.3h.01M74.9 162.5h.01M73.7 163.9h.01M78.8 162.7h.01M73.8 164.9h.01M77.5 163.7h.01M76.4 166.3h.01M71.0 165.7h.01M75.0 164.8h.01M76.3 163.8h.01M76.0 163.2h.01M73.0 163.9h.01M75.0 165.5h.01M72.4 164.2h.01M72.7 164.5h.01M74.1 163.8h.01M74.9 163.7h.01M77.3 162.4h.01M75.2 159.8h.01M76.4 165.2h.01M72.4 165.1h.01M72.5 161.8h.01M73.7 168.1h.01M77.6 161.3h.01M72.2 166.1h.01M71.8 164.5h.01M74.4 164.6h.01M76.6 166.4h.01M71.7 165.9h.01M74.1 164.0h.01M72.2 161.6h.01M77.1 161.2h.01M75.7 164.3h.01M75.0 167.4h.01M74.4 165.8h.01M74.1 163.8h.01M74.8 164.6h.01M73.4 165.4h.01M73.0 167.7h.01M72.6 162.2h.01M74.5 165.5h.01M73.1 164.5h.01M76.1 162.2h.01M70.8 161.7h.01M75.5 166.7h.01M75.5 164.6h.01M76.7 163.4h.01M74.1 164.1h.01M71.9 166.1h.01M72.9 164.1h.01M76.5 167.4h.01M74.0 163.3h.01M73.8 162.2h.01M73.5 163.7h.01M74.4 161.9h.01M74.1 163.1h.01M71.8 166.6h.01M73.5 167.7h.01M76.3 165.3h.01M77.1 164.3h.01M74.3 161.9h.01M73.6 161.7h.01M76.9 164.7h.01M74.2 164.3h.01M72.5 162.6h.01M74.3 162.9h.01M75.7 167.3h.01M77.2 166.1h.01M73.7 164.0h.01M75.5 164.4h.01M73.9 166.7h.01M76.5 164.7h.01M75.0 164.4h.01M75.0 160.5h.01M72.8 160.2h.01M74.0 159.7h.01M74.0 159.0h.01M68.2 163.9h.01M76.0 164.6h.01M74.5 162.0h.01M74.2 164.9h.01M73.9 164.9h.01M74.6 163.7h.01M74.9 160.7h.01M72.2 167.1h.01M74.7 166.9h.01M74.7 162.6h.01M74.6 168.2h.01M71.9 164.0h.01M74.3 162.2h.01M72.3 163.0h.01M75.1 159.8h.01M76.8 163.1h.01M76.0 160.4h.01M73.9 166.4h.01M73.6 164.6h.01M73.5 160.9h.01M75.1 165.2h.01M73.3 160.1h.01M73.6 164.3h.01M70.1 165.0h.01M73.0 164.1h.01M73.1 161.4h.01M73.6 163.7h.01M76.6 163.5h.01M72.1 164.0h.01M72.2 167.2h.01M75.6 167.6h.01M72.8 167.4h.01M74.2 162.5h.01M74.8 162.3h.01M74.5 164.0h.01M73.2 164.9h.01M76.1 159.4h.01M77.1 162.6h.01M72.8 167.8h.01M74.0 161.2h.01M76.2 162.3h.01M74.1 162.4h.01M72.8 165.0h.01M73.8 163.8h.01M76.0 163.2h.01M72.8 160.6h.01M75.0 165.2h.01M75.2 163.9h.01M73.4 162.4h.01M75.5 164.0h.01M75.7 165.6h.01M76.3 160.7h.01M76.1 160.5h.01M71.9 161.7h.01M76.1 162.0h.01M75.5 157.2h.01M76.2 162.6h.01M73.0 166.4h.01M76.1 163.2h.01M75.2 166.1h.01M72.5 157.6h.01M76.7 163.7h.01M73.1 167.0h.01M72.7 167.4h.01M75.2 162.8h.01M73.5 162.1h.01M75.1 164.7h.01M74.1 161.2h.01M75.0 163.1h.01M75.9 160.2h.01M74.5 164.1h.01M76.0 163.9h.01M76.0 167.5h.01M73.1 164.7h.01M76.0 162.4h.01M75.6 163.7h.01M74.7 161.1h.01M76.5 164.0h.01M77.4 163.4h.01M75.8 164.8h.01M72.0 166.0h.01M75.3 159.5h.01M74.3 164.6h.01M74.0 165.5h.01M75.1 161.3h.01M73.9 168.1h.01M77.4 162.3h.01M75.0 169.3h.01M74.6 165.6h.01M75.9 166.0h.01M75.9 164.5h.01M76.6 166.1h.01M75.6 161.6h.01M74.5 162.1h.01M74.8 159.6h.01M70.8 165.1h.01M72.0 162.3h.01M76.3 165.6h.01M74.0 165.2h.01M77.7 160.9h.01M77.7 165.4h.01M72.3 164.5h.01M75.1 164.3h.01M79.6 164.9h.01M73.2 163.8h.01M75.2 163.9h.01M74.1 166.2h.01M74.1 161.7h.01M74.0 161.2h.01M74.5 162.2h.01M75.9 166.2h.01M73.1 163.2h.01M75.4 168.1h.01M73.3 157.1h.01M75.4 162.3h.01M75.1 162.9h.01M73.2 164.5h.01M74.8 166.8h.01M73.2 163.5h.01M73.1 161.7h.01M76.6 165.7h.01M71.4 167.3h.01M75.5 158.3h.01M75.8 165.2h.01M73.5 164.6h.01M76.4 162.1h.01M76.1 162.9h.01M72.3 164.5h.01M75.4 164.0h.01M75.3 163.4h.01M73.2 161.3h.01M75.5 164.5h.01M75.8 162.4h.01M73.3 164.1h.01M71.1 162.6h.01M75.2 164.3h.01M73.2 165.5h.01M71.5 164.4h.01M73.9 165.3h.01M70.4 160.8h.01M73.9 164.9h.01M77.2 164.5h.01M69.6 162.5h.01M75.3 163.5h.01M72.9 157.7h.01M73.8 164.1h.01M72.9 163.0h.01M75.6 158.9h.01M74.5 165.0h.01M73.2 162.5h.01M72.2 164.5h.01M73.8 163.4h.01M76.5 165.0h.01M72.4 164.1h.01M75.3 163.3h.01M75.1 165.0h.01M71.0 165.7h.01M76.5 158.9h.01M74.5 163.9h.01M78.4 162.6h.01M77.6 161.5h.01M74.1 166.8h.01M74.3 166.0h.01M72.8 161.6h.01M72.1 161.4h.01M75.9 165.7h.01M74.1 162.5h.01M73.8 163.2h.01M74.2 159.5h.01M75.7 163.6h.01M76.2 166.4h.01M74.5 162.9h.01M74.2 163.6h.01M74.7 167.7h.01M78.2 165.8h.01M70.9 167.0h.01M72.5 165.3h.01M75.4 166.5h.01M74.8 160.2h.01M76.7 162.1h.01M76.8 160.2h.01M78.0 168.8h.01M73.1 164.3h.01M75.6 163.6h.01M74.1 162.2h.01M76.2 161.7h.01M74.9 157.7h.01M76.1 168.8h.01M73.2 163.7h.01M74.8 164.0h.01M73.6 160.8h.01M74.1 163.7h.01M73.7 164.7h.01M72.7 163.7h.01M76.5 165.2h.01M75.1 162.0h.01M76.5 164.6h.01M72.8 165.9h.01M71.1 165.1h.01M73.4 164.7h.01M74.3 163.7h.01M75.9 161.7h.01M76.4 165.1h.01M76.7 163.0h.01M77.3 161.8h.01M75.8 165.6h.01M74.7 160.3h.01M73.2 162.7h.01M75.8 165.6h.01M73.7 166.0h.01M73.1 163.1h.01M75.6 164.0h.01M74.9 165.1h.01M76.1 163.7h.01M73.3 162.2h.01M76.6 164.8h.01M75.2 164.2h.01M74.2 164.1h.01M73.2 166.3h.01M72.6 164.6h.01M72.1 162.9h.01M77.0 164.2h.01M72.0 168.2h.01M75.7 162.3h.01M74.1 163.3h.01M73.5 162.1h.01M73.7 164.7h.01M74.4 161.1h.01M76.1 164.9h.01M75.5 165.6h.01M74.5 162.2h.01M72.1 162.0h.01M71.4 160.6h.01M77.8 164.0h.01M72.8 161.4h.01M71.8 162.5h.01M76.5 163.0h.01M71.9 162.4h.01M75.9 165.7h.01M76.2 167.4h.01M75.0 159.2h.01M76.2 162.1h.01M72.1 164.4h.01M72.4 161.6h.01M74.2 162.7h.01M74.5 164.3h.01M74.4 166.9h.01M75.4 166.5h.01M73.2 163.2h.01M70.8 164.2h.01M75.3 163.1h.01M74.1 163.5h.01M76.0 161.3h.01M78.2 160.0h.01M74.7 163.1h.01M75.6 166.0h.01M73.0 165.6h.01M76.1 159.8h.01M75.1 163.5h.01M75.0 162.5h.01M76.2 164.5h.01M72.5 161.5h.01M75.5 165.9h.01M75.3 163.4h.01M77.3 165.2h.01M71.3 165.8h.01M74.4 159.6h.01M78.4 163.4h.01M73.8 167.2h.01M73.8 163.9h.01M77.7 166.2h.01M79.0 164.8h.01M74.7 162.8h.01M73.3 164.5h.01M73.5 166.2h.01M73.8 166.7h.01M73.0 167.1h.01M73.1 161.5h.01M74.8 165.7h.01M74.6 160.9h.01M75.4 163.6h.01M74.6 163.4h.01M72.4 165.3h.01M75.8 164.6h.01M75.0 166.6h.01M73.5 162.5h.01M74.1 165.7h.01M75.1 164.7h.01M74.7 163.9h.01M74.3 161.3h.01M75.9 165.1h.01M76.4 164.6h.01M74.0 165.6h.01M74.5 163.8h.01M72.6 163.3h.01M74.2 164.7h.01M75.4 164.9h.01M76.1 165.4h.01M74.8 168.1h.01M74.4 162.5h.01M73.3 168.3h.01M74.9 157.4h.01M72.6 166.0h.01M74.8 162.1h.01M74.6 168.3h.01M72.9 161.9h.01M75.1 166.2h.01M74.2 161.7h.01M75.6 161.4h.01M73.7 165.7h.01M75.4 165.8h.01M77.3 162.4h.01M74.8 169.2h.01M75.9 163.2h.01M73.4 167.3h.01M73.9 161.7h.01M71.2 161.8h.01M74.3 164.1h.01M72.5 161.7h.01M74.7 164.9h.01M70.9 159.2h.01M73.0 164.3h.01" stroke="#000" stroke-opacity="0.6" stroke-width="1.00" stroke-linecap="round" fill="none"/>
<line x1="56.10" y1="151.00" x2="127.40" y2="151.00" stroke="#8a8a8a" stroke-width="1.3"/>
<line x1="90.50" y1="110.30" x2="90.50" y2="181.80" stroke="#555" stroke-width="1"/>
<text x="56.90" y="116.50" font-size="6.9" stroke="#111" stroke-width="0.2" text-anchor="start" fill="#111">1.70</text>
<text x="125.90" y="116.50" font-size="6.9" stroke="#111" stroke-width="0.2" text-anchor="end" fill="#111">7.72</text>
<text x="56.90" y="180.90" font-size="6.9" stroke="#111" stroke-width="0.2" text-anchor="start" fill="#111">84.6</text>
<text x="125.90" y="180.90" font-size="6.9" stroke="#111" stroke-width="0.2" text-anchor="end" fill="#111">5.98</text>
<rect x="130.5" y="110.3" width="71.69999999999999" height="71.50000000000001" fill="#fff" stroke="#a4a4a4" stroke-width="1"/>
<path d="M170.0 167.2h.01M167.9 162.9h.01M170.3 164.9h.01M169.4 164.9h.01M179.9 162.8h.01M170.6 164.7h.01M149.6 166.7h.01M174.0 166.7h.01M167.4 163.4h.01M175.2 171.0h.01M160.0 165.0h.01M155.6 163.6h.01M165.7 162.5h.01M156.2 161.9h.01M168.5 166.1h.01M167.0 157.4h.01M172.0 163.8h.01M149.3 161.0h.01M175.3 163.8h.01M152.6 164.1h.01M164.7 161.1h.01M162.7 161.9h.01M181.8 167.2h.01M175.6 162.9h.01M179.5 164.2h.01M157.6 163.5h.01M165.5 166.2h.01M178.2 167.1h.01M177.6 166.4h.01M168.7 165.5h.01M165.6 165.5h.01M157.1 161.4h.01M166.5 167.3h.01M177.9 162.9h.01M173.0 162.1h.01M176.4 163.3h.01M169.0 162.3h.01M151.8 165.2h.01M154.8 165.9h.01M162.8 167.2h.01M178.7 164.0h.01M164.7 162.8h.01M180.4 163.5h.01M164.7 161.5h.01M173.4 162.5h.01M172.0 168.9h.01M148.9 162.4h.01M163.2 163.1h.01M168.0 165.7h.01M181.9 164.8h.01M176.3 166.0h.01M156.6 162.2h.01M158.5 161.7h.01M165.1 167.3h.01M160.7 162.6h.01M160.9 164.0h.01M167.8 164.7h.01M150.1 159.9h.01M163.1 163.8h.01M151.0 162.7h.01M149.0 165.4h.01M177.4 163.5h.01M150.6 158.9h.01M170.8 166.1h.01M174.7 158.2h.01M151.3 163.2h.01M151.2 162.6h.01M149.5 162.8h.01M178.3 164.2h.01M164.7 166.4h.01M153.6 162.2h.01M181.8 162.8h.01M169.4 165.9h.01M178.6 165.4h.01M151.8 165.9h.01M168.3 165.0h.01M174.2 163.6h.01M163.6 163.1h.01M165.3 163.1h.01M150.3 166.3h.01M155.8 167.7h.01M157.2 168.9h.01M163.5 161.8h.01M149.0 163.6h.01M151.5 164.2h.01M168.5 163.8h.01M182.0 161.6h.01M157.2 169.3h.01M166.4 167.8h.01M165.4 163.8h.01M174.8 163.1h.01M166.6 164.2h.01M165.9 161.4h.01M149.9 163.4h.01M149.0 166.0h.01M163.6 168.1h.01M152.7 166.3h.01M159.4 167.3h.01M153.6 161.7h.01M175.5 156.6h.01M158.5 167.5h.01M170.6 164.6h.01M168.6 164.0h.01M172.3 168.1h.01M157.8 161.9h.01M154.0 162.0h.01M178.1 162.5h.01M165.3 168.0h.01M172.9 166.4h.01M163.6 160.0h.01M149.4 168.1h.01M152.7 164.2h.01M153.5 165.2h.01M149.6 162.4h.01M172.8 168.7h.01M181.1 165.2h.01M162.2 167.3h.01M181.5 161.8h.01M152.3 165.9h.01M160.4 164.4h.01M169.0 163.7h.01M170.5 162.3h.01M149.5 162.6h.01M178.9 161.4h.01M182.3 162.6h.01M158.5 164.1h.01M158.6 165.6h.01M170.0 160.5h.01M162.7 161.8h.01M166.2 162.8h.01M177.9 160.3h.01M170.4 163.5h.01M152.5 163.6h.01M159.7 163.8h.01M177.9 165.2h.01M180.2 166.4h.01M159.0 166.1h.01M151.1 164.9h.01M175.1 165.6h.01M155.9 162.3h.01M156.2 162.0h.01M162.5 165.7h.01M151.3 165.5h.01M171.5 169.4h.01M177.7 163.7h.01M159.9 161.9h.01M171.4 164.9h.01M153.0 163.1h.01M160.7 162.1h.01M153.8 167.4h.01M152.1 168.8h.01M157.9 165.1h.01M161.0 162.7h.01M149.3 164.8h.01M170.3 164.1h.01M170.4 160.9h.01M158.3 166.2h.01M163.3 165.0h.01M157.8 167.2h.01M152.0 162.9h.01M180.9 164.2h.01M180.2 163.9h.01M164.1 160.1h.01M176.4 170.2h.01M165.8 159.2h.01M181.1 161.5h.01M169.3 163.4h.01M177.7 160.5h.01M167.5 165.2h.01M167.5 163.1h.01M169.8 164.4h.01M177.1 164.8h.01M152.7 164.4h.01M172.8 164.5h.01M172.8 163.9h.01M182.5 165.2h.01M160.5 166.2h.01M171.9 163.6h.01M161.1 163.2h.01M168.7 163.3h.01M148.8 165.0h.01M176.4 163.4h.01M155.0 163.3h.01M165.1 160.6h.01M154.0 168.9h.01M180.6 161.3h.01M173.1 168.3h.01M177.8 166.2h.01M174.3 166.7h.01M179.0 164.9h.01M170.8 165.4h.01M151.3 165.0h.01M150.9 165.7h.01M174.0 166.3h.01M158.3 167.9h.01M172.8 161.9h.01M163.3 165.4h.01M177.5 168.1h.01M160.0 167.6h.01M151.6 161.8h.01M177.0 165.0h.01M158.7 165.0h.01M162.0 164.9h.01M174.9 158.9h.01M157.0 166.4h.01M180.4 160.4h.01M149.5 169.6h.01M174.4 165.9h.01M177.5 164.1h.01M169.7 165.8h.01M155.1 164.7h.01M152.1 163.0h.01M174.7 164.1h.01M173.3 165.1h.01M175.0 162.4h.01M181.7 166.0h.01M169.1 167.0h.01M180.7 166.9h.01M182.0 167.2h.01M168.5 167.5h.01M174.8 166.0h.01M154.1 167.5h.01M182.5 164.5h.01M165.4 165.3h.01M165.6 167.8h.01M171.8 169.0h.01M177.6 163.5h.01M157.9 160.8h.01M174.1 169.5h.01M176.8 167.1h.01M162.0 168.8h.01M163.4 166.5h.01M178.5 164.9h.01M159.9 162.8h.01M175.9 162.0h.01M178.8 167.9h.01M160.9 166.7h.01M159.2 165.1h.01M154.9 161.7h.01M155.4 163.1h.01M177.8 162.8h.01M158.0 163.6h.01M157.7 157.4h.01M170.6 164.9h.01M158.1 168.1h.01M158.1 163.0h.01M180.2 164.4h.01M182.2 165.0h.01M174.4 161.9h.01M175.2 165.4h.01M161.2 162.4h.01M160.4 163.3h.01M176.3 165.0h.01M166.4 164.2h.01M155.6 164.6h.01M159.6 162.1h.01M173.2 166.1h.01M161.7 161.7h.01M176.0 166.4h.01M156.1 163.2h.01M148.6 161.5h.01M153.4 164.1h.01M152.1 161.8h.01M154.9 163.1h.01M181.7 164.0h.01M170.7 166.3h.01M163.2 166.3h.01M153.3 165.5h.01M176.0 163.7h.01M170.2 160.6h.01M157.4 163.8h.01M164.8 163.6h.01M177.3 164.0h.01M181.2 163.1h.01M180.8 163.1h.01M168.4 166.3h.01M166.5 161.1h.01M162.8 164.4h.01M148.8 167.4h.01M158.5 162.5h.01M176.6 161.9h.01M160.7 163.8h.01M170.8 163.5h.01M181.9 165.0h.01M175.5 167.7h.01M159.3 164.0h.01M156.6 165.7h.01M180.0 162.9h.01M155.7 163.2h.01M172.8 165.1h.01M170.2 162.7h.01M167.6 167.3h.01M159.1 163.4h.01M181.6 164.0h.01M174.7 161.8h.01M162.5 163.3h.01M154.1 161.9h.01M162.4 163.2h.01M150.0 160.0h.01M154.8 164.3h.01M156.6 168.6h.01M153.8 159.8h.01M166.7 168.6h.01M153.4 164.1h.01M151.6 166.5h.01M150.9 161.9h.01M178.6 169.3h.01M151.2 161.7h.01M181.1 164.2h.01M180.1 168.2h.01M165.9 161.2h.01M178.6 158.6h.01M149.3 164.2h.01M174.1 162.5h.01M166.5 162.0h.01M169.3 162.1h.01M182.5 160.7h.01M154.0 167.8h.01M159.0 167.3h.01M171.9 161.0h.01M154.6 164.1h.01M179.8 163.2h.01M154.0 167.0h.01M161.9 162.3h.01M174.0 168.3h.01M178.0 164.3h.01M175.3 162.4h.01M176.3 164.1h.01M162.3 162.9h.01M161.3 169.9h.01M146.7 139.7h.01M163.7 144.0h.01M149.5 146.8h.01M152.2 141.2h.01M155.4 147.9h.01M150.8 140.3h.01M145.0 131.4h.01M149.4 142.2h.01M173.7 136.8h.01M161.3 145.1h.01M171.5 136.0h.01M172.3 143.2h.01M168.7 134.1h.01M167.2 143.3h.01M178.4 142.3h.01M147.7 144.1h.01M157.1 131.0h.01M144.7 139.3h.01M162.5 145.2h.01M179.2 139.2h.01M165.4 136.1h.01M178.6 145.4h.01M169.0 143.8h.01M146.3 139.2h.01M148.0 147.1h.01M171.3 143.9h.01M182.7 150.2h.01M150.8 143.5h.01M181.5 149.6h.01M172.2 145.0h.01M150.0 139.3h.01M156.4 130.5h.01M178.4 145.0h.01M179.0 138.9h.01M172.0 147.6h.01M182.5 148.0h.01M175.8 147.0h.01M181.7 141.3h.01M160.1 142.9h.01M162.1 143.1h.01M157.5 139.2h.01M153.2 138.3h.01M156.7 149.9h.01M150.3 130.3h.01M182.4 147.7h.01M169.4 132.9h.01M182.7 132.5h.01M150.1 145.7h.01M169.6 130.6h.01M162.4 143.5h.01M181.0 135.1h.01M145.2 147.5h.01M168.7 141.6h.01M165.5 134.9h.01M146.7 142.0h.01M163.4 145.0h.01M156.1 147.3h.01M156.2 130.7h.01M146.2 148.8h.01M177.6 146.8h.01M152.3 135.0h.01M180.9 142.3h.01M150.1 140.8h.01M179.6 142.4h.01M183.0 135.2h.01M163.9 148.8h.01M178.8 144.4h.01M154.8 141.6h.01M150.1 149.3h.01M174.0 137.7h.01M167.2 141.1h.01M178.6 143.0h.01M166.6 142.6h.01M183.9 137.0h.01M161.4 142.2h.01M160.8 138.9h.01M175.2 144.8h.01M184.2 137.6h.01M157.6 139.3h.01M154.4 142.1h.01M177.1 134.0h.01M156.0 141.2h.01M150.8 147.9h.01M167.0 144.2h.01M156.3 140.3h.01M148.8 132.9h.01M169.3 141.8h.01M160.2 138.5h.01M148.7 137.8h.01M156.8 144.6h.01M161.2 149.8h.01M150.3 140.7h.01M172.3 134.0h.01M146.5 143.9h.01M161.4 139.3h.01M157.1 147.3h.01M181.1 145.4h.01M149.4 137.4h.01M147.6 146.8h.01M157.5 141.0h.01M182.8 144.4h.01M163.6 131.5h.01M179.4 135.9h.01M146.2 147.4h.01M176.1 130.7h.01M173.0 144.0h.01M183.6 148.8h.01M151.9 147.2h.01M149.0 133.3h.01M183.5 132.8h.01M181.9 137.8h.01M165.1 131.5h.01M180.5 142.6h.01M177.4 143.5h.01M167.6 143.9h.01M163.1 146.8h.01M145.5 136.7h.01M171.5 130.6h.01M174.4 133.9h.01M168.0 146.7h.01M174.8 133.3h.01M163.7 132.4h.01M153.9 144.0h.01M182.5 142.5h.01M147.7 148.6h.01M155.3 146.5h.01M152.7 147.8h.01M168.9 148.3h.01M163.0 130.6h.01M167.4 149.3h.01M163.2 135.6h.01M169.0 132.2h.01M148.8 148.4h.01M159.3 136.3h.01M166.4 133.2h.01M168.8 141.6h.01M162.0 146.8h.01M146.6 136.8h.01M172.5 147.4h.01M164.5 149.7h.01M183.1 141.0h.01M158.2 134.9h.01M171.7 136.3h.01M146.2 133.7h.01M171.9 139.1h.01M147.2 138.2h.01M169.1 136.1h.01M169.9 138.4h.01M173.0 135.5h.01M164.5 147.5h.01M163.9 148.6h.01M149.2 139.0h.01M154.6 132.6h.01M176.8 136.2h.01M182.8 144.0h.01M157.9 149.9h.01M166.0 145.4h.01M155.9 131.6h.01M155.8 137.3h.01M176.2 131.6h.01M177.9 141.5h.01M169.2 138.2h.01M179.3 139.2h.01M144.7 136.0h.01M180.8 132.1h.01M148.6 146.0h.01M145.4 137.2h.01M149.1 131.7h.01M154.6 134.3h.01M166.1 131.3h.01M146.8 147.8h.01M181.0 133.7h.01M162.0 149.1h.01M183.8 149.7h.01M172.9 132.7h.01M154.8 146.1h.01M152.6 134.6h.01M177.2 144.5h.01M167.5 149.6h.01M148.3 139.6h.01M155.3 134.6h.01M149.5 143.5h.01M168.2 142.5h.01M180.2 135.2h.01M159.2 141.1h.01M145.6 140.5h.01M182.0 138.5h.01M177.7 137.8h.01M145.9 148.7h.01M155.7 143.5h.01M159.8 138.5h.01M183.9 141.6h.01M145.8 142.8h.01M184.3 147.7h.01M169.4 139.3h.01M160.5 146.6h.01M160.7 133.5h.01M171.1 144.9h.01M157.0 144.3h.01M156.5 130.5h.01M176.2 143.2h.01M157.5 131.8h.01M176.9 148.5h.01M158.1 141.4h.01M171.8 133.3h.01M144.5 144.9h.01M166.1 135.8h.01M162.2 131.7h.01M175.8 141.5h.01M168.9 146.3h.01M170.7 144.6h.01M151.4 146.4h.01M178.9 144.5h.01M177.5 138.0h.01M165.2 134.7h.01M170.8 137.1h.01M155.3 146.9h.01M155.5 130.8h.01M166.5 131.8h.01M162.2 148.7h.01M149.5 130.5h.01M179.5 141.4h.01M173.1 148.2h.01M152.2 140.7h.01M181.8 145.2h.01M167.4 130.9h.01M163.3 145.1h.01M179.1 142.7h.01M148.6 143.0h.01M148.2 135.8h.01M183.6 142.5h.01M149.4 145.6h.01M162.4 147.2h.01M183.6 131.8h.01M157.1 148.0h.01M181.6 144.5h.01M151.0 141.2h.01M179.9 145.0h.01M144.6 145.2h.01M164.7 141.3h.01M181.9 147.5h.01M175.7 147.8h.01M171.8 146.5h.01M163.6 134.7h.01M175.5 138.0h.01M173.1 148.7h.01M150.9 141.6h.01M173.2 133.7h.01M176.9 146.4h.01M171.5 133.8h.01M153.9 149.6h.01M160.1 143.5h.01M153.0 149.3h.01M159.4 136.6h.01M160.8 148.0h.01M176.7 136.4h.01M174.4 131.8h.01M151.5 145.4h.01M176.8 148.9h.01M172.5 148.8h.01M157.8 133.0h.01M167.8 141.4h.01M148.8 143.6h.01M151.1 136.6h.01M155.1 144.9h.01M175.5 137.8h.01M151.9 147.6h.01M155.5 141.5h.01M165.1 138.9h.01M161.1 140.3h.01M152.8 138.6h.01M165.4 140.0h.01M184.4 144.3h.01M164.8 136.9h.01M179.0 130.8h.01M178.1 143.9h.01M150.6 139.3h.01M164.4 147.6h.01M162.0 130.7h.01M177.2 145.6h.01M172.5 136.3h.01M169.7 146.6h.01M180.4 136.8h.01M148.9 132.8h.01M149.2 143.2h.01M163.9 134.5h.01M170.7 146.3h.01M171.2 141.4h.01M178.9 147.3h.01M151.5 143.8h.01M148.7 139.4h.01M158.5 142.3h.01M172.2 131.4h.01M156.5 132.3h.01M173.5 135.3h.01M166.3 140.6h.01M156.1 148.2h.01M166.8 130.5h.01M163.0 135.5h.01M178.3 132.1h.01M176.6 146.7h.01M153.7 148.0h.01M153.2 141.4h.01M178.3 134.7h.01M178.4 146.8h.01M179.0 136.9h.01M159.4 142.7h.01M149.6 146.2h.01M166.3 137.1h.01M182.6 134.6h.01M168.0 131.7h.01M171.9 148.7h.01M145.7 131.0h.01M160.9 146.7h.01M151.6 149.0h.01M147.8 138.6h.01M153.3 133.0h.01M156.0 144.1h.01M164.5 134.2h.01M169.0 139.1h.01M166.2 136.9h.01M158.8 144.9h.01M150.6 145.3h.01M164.3 142.7h.01M180.4 140.5h.01M180.5 145.1h.01M181.1 133.9h.01M180.1 134.4h.01M167.4 133.8h.01M165.2 134.1h.01M153.4 139.4h.01M174.3 133.2h.01M167.8 148.8h.01M160.6 131.7h.01M146.9 149.0h.01M151.7 146.2h.01M172.0 141.4h.01M165.1 140.8h.01M175.6 146.2h.01M149.1 136.9h.01M171.6 146.6h.01M179.7 138.9h.01M145.7 146.4h.01M183.6 140.6h.01M146.9 149.8h.01M173.6 142.6h.01M165.9 143.2h.01M156.9 135.0h.01M158.5 150.3h.01M145.9 131.6h.01M174.8 130.8h.01M145.4 137.4h.01M182.9 149.9h.01M183.3 135.5h.01M177.9 131.7h.01M149.6 136.7h.01M169.3 145.6h.01M177.0 146.1h.01M160.7 131.9h.01M161.5 138.6h.01M176.2 138.9h.01M145.3 133.8h.01M159.5 133.3h.01M178.2 136.7h.01M176.5 138.0h.01M181.6 142.4h.01M179.2 143.4h.01M152.5 142.6h.01M181.5 138.8h.01M154.4 133.8h.01M166.5 132.5h.01M167.5 133.0h.01M171.3 145.0h.01M169.3 134.1h.01M153.7 139.8h.01M179.3 135.2h.01M150.4 135.6h.01M174.2 145.2h.01M144.7 146.1h.01M180.3 141.0h.01M179.6 142.8h.01M155.0 143.0h.01M166.6 146.3h.01M163.8 130.3h.01M181.8 135.7h.01M156.1 146.2h.01M147.6 150.3h.01M160.4 144.3h.01M156.9 146.8h.01M155.0 134.0h.01M175.6 131.0h.01M159.8 149.1h.01M150.1 135.2h.01M151.9 135.8h.01M179.3 143.0h.01M163.1 140.6h.01M152.6 147.2h.01M163.6 135.1h.01M148.9 133.8h.01M163.7 131.9h.01M154.1 146.1h.01M159.8 143.4h.01M181.7 143.9h.01M163.9 135.6h.01M174.0 134.3h.01M157.5 144.9h.01M152.2 146.3h.01M158.4 136.1h.01M153.0 136.6h.01M164.9 146.2h.01M171.4 146.4h.01M155.1 133.7h.01M172.6 135.5h.01M165.0 145.5h.01M176.3 144.4h.01M175.0 137.9h.01M182.2 146.3h.01M172.0 144.1h.01M147.1 139.0h.01M158.2 140.2h.01M160.4 134.5h.01M179.4 138.4h.01M179.2 132.6h.01M153.2 140.6h.01M180.4 131.8h.01M161.1 130.5h.01M171.4 149.6h.01M171.2 133.0h.01M161.7 136.7h.01M167.0 148.0h.01M172.6 139.8h.01M173.9 137.0h.01M176.5 134.0h.01M186.6 132.7h.01M179.8 132.2h.01M176.6 130.6h.01M178.7 133.3h.01M178.3 136.3h.01M175.7 133.1h.01M177.1 141.7h.01M176.5 136.8h.01M180.4 133.5h.01M183.7 135.2h.01M182.8 141.1h.01M176.2 128.6h.01M179.7 136.2h.01M174.6 145.8h.01M173.2 139.2h.01M177.8 131.7h.01M179.9 135.8h.01M177.3 134.4h.01M180.8 146.2h.01M180.8 132.6h.01M180.5 134.2h.01M176.9 134.0h.01M172.1 129.7h.01M184.7 122.3h.01M175.6 134.4h.01M180.4 137.3h.01M179.4 133.6h.01M176.1 137.2h.01M184.8 138.3h.01M180.2 138.0h.01M177.5 128.6h.01M175.9 141.2h.01M173.7 138.7h.01M172.5 138.5h.01M179.8 135.3h.01M175.8 135.3h.01M175.7 133.2h.01M179.5 136.9h.01M176.1 138.9h.01M180.1 133.0h.01M175.0 138.5h.01M175.5 133.5h.01M181.1 137.6h.01M174.8 134.7h.01M179.9 138.7h.01M179.5 142.9h.01M177.5 136.2h.01M171.0 133.4h.01M172.3 133.6h.01M173.2 137.7h.01M172.4 133.3h.01M180.9 139.1h.01M174.1 136.5h.01M172.6 138.9h.01M175.5 133.1h.01M177.1 131.5h.01M170.9 132.4h.01M179.9 136.9h.01M180.4 132.2h.01M175.1 138.0h.01M180.7 127.2h.01M171.4 132.7h.01M175.3 134.7h.01M176.9 128.1h.01M177.8 132.9h.01M182.0 129.4h.01M176.2 135.0h.01M173.5 134.4h.01M178.3 138.2h.01M178.1 132.0h.01M179.3 128.9h.01M176.2 133.2h.01M178.2 135.8h.01M175.2 135.7h.01M179.7 136.0h.01M174.9 140.1h.01M175.1 133.9h.01M182.1 134.5h.01M174.5 132.0h.01M177.5 133.0h.01M179.7 139.4h.01M176.2 136.7h.01M181.1 125.0h.01M175.2 140.1h.01M181.5 127.5h.01M171.4 133.7h.01M172.2 139.1h.01M177.8 135.8h.01M183.1 137.5h.01M183.8 138.7h.01M174.1 136.5h.01M177.4 130.4h.01M175.6 136.8h.01M169.1 132.6h.01M180.3 125.8h.01M176.0 134.2h.01M182.9 137.5h.01M178.6 135.8h.01M175.4 135.4h.01M174.8 142.2h.01M176.8 136.4h.01M179.3 138.9h.01M175.6 136.6h.01M188.5 141.8h.01M178.3 133.9h.01M173.0 140.0h.01M177.8 142.5h.01M150.4 167.0h.01M182.0 152.8h.01M171.1 170.1h.01M173.7 168.4h.01M172.8 152.4h.01M176.8 161.2h.01M162.1 161.8h.01M154.2 161.4h.01M145.7 150.7h.01M164.1 170.5h.01M150.4 159.8h.01M162.1 166.4h.01M146.8 162.4h.01M174.0 170.7h.01M158.1 156.8h.01M156.1 165.8h.01M174.9 157.3h.01M159.6 170.7h.01M162.4 157.0h.01M169.7 151.2h.01M145.8 161.0h.01M156.3 165.8h.01M182.3 159.3h.01M170.5 166.8h.01M149.4 166.7h.01M180.6 155.3h.01M179.8 159.2h.01M169.4 172.1h.01M145.1 161.7h.01M160.3 169.6h.01M159.2 159.1h.01M151.3 155.2h.01M167.5 169.7h.01M155.4 160.3h.01M170.0 150.6h.01M153.9 165.7h.01M179.1 162.1h.01M154.9 168.4h.01M145.0 171.5h.01M176.7 165.5h.01M153.0 153.2h.01M146.2 152.4h.01M180.5 169.1h.01M156.8 166.5h.01M171.2 168.3h.01M148.6 162.3h.01M175.2 163.3h.01M176.5 151.9h.01M155.0 159.7h.01M153.7 162.7h.01M149.7 156.6h.01M166.8 152.0h.01M160.2 169.7h.01M178.4 153.6h.01M158.5 161.6h.01M163.8 165.1h.01M159.2 161.1h.01M154.7 169.9h.01M146.7 155.5h.01M167.1 170.0h.01M155.6 169.3h.01M179.1 162.3h.01M169.3 159.5h.01M168.5 169.2h.01M177.4 161.1h.01M151.7 171.5h.01M178.3 153.6h.01M175.5 152.5h.01M151.5 154.1h.01M152.8 168.8h.01M146.2 159.8h.01M161.4 160.6h.01M148.9 165.0h.01M175.4 154.8h.01M155.0 160.0h.01M153.1 163.6h.01M179.3 150.9h.01M156.3 159.9h.01M157.2 163.2h.01M165.7 159.5h.01M165.0 154.6h.01M155.9 151.7h.01M168.0 171.2h.01M152.7 167.8h.01M170.0 162.5h.01M156.4 166.3h.01M153.1 150.8h.01M157.5 172.3h.01M154.5 157.7h.01M174.8 160.1h.01" stroke="#333" stroke-opacity="0.25" stroke-width="0.80" stroke-linecap="round" fill="none"/>
<path d="M146.0 162.2h.01M147.4 163.1h.01M148.4 163.4h.01M147.7 162.8h.01M148.1 164.8h.01M147.4 166.8h.01M148.7 165.0h.01M146.4 166.8h.01M148.5 166.9h.01M146.0 162.5h.01M148.0 164.8h.01M146.1 163.1h.01M147.4 165.9h.01M148.5 163.2h.01M149.4 163.6h.01M145.2 168.6h.01M146.6 163.7h.01M146.4 160.0h.01M149.4 164.4h.01M146.5 164.9h.01M148.7 162.8h.01M147.0 164.3h.01M145.7 166.8h.01M147.8 162.8h.01M146.1 163.6h.01M148.7 162.3h.01M148.8 165.0h.01M149.5 163.8h.01M146.3 161.7h.01M149.9 163.7h.01M149.0 169.0h.01M145.2 159.6h.01M150.7 160.5h.01M150.0 165.0h.01M146.3 160.5h.01M148.1 169.3h.01M145.8 160.2h.01M147.5 160.7h.01M147.9 162.8h.01M148.5 167.0h.01M146.5 166.3h.01M147.6 165.6h.01M146.4 164.9h.01M148.2 167.6h.01M148.6 159.3h.01M147.8 164.9h.01M149.3 167.9h.01M148.7 161.3h.01M148.2 165.0h.01M149.3 167.4h.01M146.0 167.4h.01M147.6 163.8h.01M145.2 169.0h.01M147.7 165.5h.01M147.0 167.0h.01M148.8 161.3h.01M147.1 162.1h.01M146.8 162.1h.01M147.6 168.8h.01M147.5 158.0h.01M148.4 159.3h.01M146.5 166.2h.01M145.6 164.5h.01M145.5 156.3h.01M149.3 163.1h.01M145.9 163.3h.01M147.0 167.3h.01M146.2 159.1h.01M148.9 162.7h.01M146.9 166.9h.01M149.4 166.1h.01M146.7 161.7h.01M148.1 163.4h.01M148.7 160.3h.01M149.0 167.7h.01M146.0 163.0h.01M147.2 167.5h.01M147.6 166.2h.01M145.2 161.8h.01M148.7 163.8h.01M148.2 165.9h.01M148.4 165.3h.01M145.8 168.2h.01M147.9 167.1h.01M148.3 165.0h.01M149.1 166.0h.01M147.0 162.3h.01M148.6 162.6h.01M150.4 165.7h.01M147.1 165.0h.01M147.1 161.3h.01M147.2 164.0h.01M145.6 162.1h.01M147.2 162.7h.01M149.9 167.6h.01M146.4 161.7h.01M147.4 162.5h.01M149.3 165.7h.01M148.5 164.4h.01M148.0 164.6h.01M147.2 160.4h.01M147.5 164.1h.01M147.7 163.2h.01M148.6 162.1h.01M147.8 162.7h.01M149.0 163.4h.01M145.1 166.4h.01M148.8 169.1h.01M147.0 164.5h.01M147.7 168.1h.01M147.1 164.5h.01M148.6 160.3h.01M147.5 164.3h.01M148.6 167.5h.01M146.6 167.9h.01M148.0 161.9h.01M149.4 170.0h.01M149.2 162.3h.01M147.2 162.3h.01M147.9 162.8h.01M147.2 168.0h.01M147.5 165.2h.01M147.7 166.6h.01M149.4 158.4h.01M148.5 164.1h.01M149.7 163.9h.01M149.8 166.0h.01M146.0 163.0h.01M148.1 167.3h.01M147.1 162.4h.01M145.5 160.6h.01M146.2 159.9h.01M147.0 167.5h.01M150.0 166.2h.01M147.8 162.2h.01M147.4 167.1h.01M147.7 163.8h.01M146.7 163.9h.01M147.9 160.4h.01M147.6 162.8h.01M145.5 164.5h.01M147.0 164.7h.01M152.3 162.7h.01M148.6 166.8h.01M147.6 168.0h.01M148.6 162.1h.01M146.4 165.3h.01M147.8 160.2h.01M148.9 165.3h.01M145.5 161.7h.01M172.3 163.3h.01M169.2 167.1h.01M172.0 164.2h.01M178.8 164.2h.01M166.8 161.2h.01M163.2 163.3h.01M178.0 166.3h.01M174.6 165.4h.01M169.3 164.4h.01M171.2 163.9h.01M177.0 164.4h.01M158.1 165.1h.01M177.9 163.6h.01M170.7 159.3h.01M174.9 168.2h.01M171.3 166.6h.01M186.9 164.0h.01M168.5 167.1h.01M177.0 161.7h.01M158.6 166.9h.01M171.7 164.7h.01M175.5 166.1h.01M163.9 163.6h.01M161.5 164.6h.01M172.0 165.5h.01M176.6 166.4h.01M177.4 165.3h.01M168.1 165.2h.01M173.3 163.1h.01M164.5 167.7h.01M180.2 164.7h.01M168.7 163.8h.01M177.9 163.7h.01M170.2 161.9h.01M169.9 162.8h.01M179.6 161.3h.01M167.2 164.7h.01M178.0 164.1h.01M169.7 164.7h.01M167.1 161.8h.01M167.3 163.5h.01M177.1 163.0h.01M171.1 166.3h.01M169.8 161.3h.01M164.0 161.3h.01M177.4 166.9h.01M176.7 165.0h.01M173.1 161.2h.01M175.4 167.0h.01M155.3 167.3h.01M168.9 166.6h.01M172.3 160.2h.01M172.0 164.5h.01M168.7 162.6h.01M172.7 163.8h.01M167.9 161.1h.01M168.2 167.8h.01M165.3 162.9h.01M172.2 164.9h.01M167.9 165.9h.01" stroke="#222" stroke-opacity="0.4" stroke-width="0.90" stroke-linecap="round" fill="none"/>
<path d="M147.5 165.6h.01M145.8 162.0h.01M147.0 163.5h.01M145.0 163.4h.01M145.8 164.4h.01M146.4 164.2h.01M147.4 163.4h.01M147.3 166.1h.01M146.0 167.3h.01M146.6 162.9h.01M146.9 160.8h.01M145.5 165.0h.01M147.1 164.2h.01M147.8 165.2h.01M147.7 162.6h.01M146.2 164.9h.01M146.4 162.1h.01M146.0 166.7h.01M146.3 168.1h.01M146.5 162.1h.01M147.3 158.2h.01M146.8 163.1h.01M146.0 163.0h.01M147.4 164.7h.01M147.4 164.3h.01M146.2 165.4h.01M146.5 170.5h.01M146.6 163.0h.01M145.4 163.4h.01M146.8 165.2h.01M147.3 160.0h.01M148.3 166.1h.01M146.9 162.8h.01M146.5 161.0h.01M146.6 162.3h.01M147.2 165.4h.01M147.4 166.2h.01M146.0 167.1h.01M146.9 165.3h.01M147.2 162.6h.01M145.1 165.6h.01M147.8 164.1h.01M146.6 169.7h.01M147.4 159.5h.01M146.7 168.0h.01M146.5 166.1h.01M146.7 165.2h.01M147.0 164.1h.01M147.4 163.0h.01M146.5 162.1h.01M145.8 160.7h.01M146.2 169.0h.01M145.9 166.5h.01M147.3 165.9h.01M146.0 165.1h.01M147.9 159.9h.01M146.8 163.7h.01M146.7 164.6h.01M147.8 167.0h.01M146.4 162.0h.01M146.5 164.9h.01M147.4 163.8h.01M147.3 164.4h.01M145.9 162.5h.01M148.7 165.2h.01M147.2 164.5h.01M145.7 160.0h.01M146.6 167.1h.01M147.5 169.4h.01M146.9 162.3h.01M147.4 167.0h.01M148.6 162.1h.01M147.5 163.1h.01M148.3 168.4h.01M147.3 164.8h.01M146.2 167.8h.01M147.9 165.0h.01M146.2 166.7h.01M147.5 164.0h.01M147.3 167.7h.01M146.1 168.5h.01M146.2 165.9h.01M146.6 163.1h.01M147.1 163.5h.01M147.8 162.2h.01M146.8 165.8h.01M148.3 165.6h.01M147.4 162.8h.01M146.2 166.5h.01M146.3 163.1h.01M146.8 168.6h.01M146.3 166.3h.01M146.7 168.1h.01M147.4 162.8h.01M147.0 162.1h.01M147.5 160.2h.01M146.2 165.9h.01M146.1 161.8h.01M145.6 167.5h.01M145.3 164.7h.01M146.4 166.2h.01M146.8 161.5h.01M146.6 163.0h.01M146.8 164.8h.01M148.4 166.1h.01M145.9 161.5h.01M146.6 165.2h.01M146.4 162.5h.01M146.0 166.3h.01M147.9 163.9h.01M146.7 163.7h.01M147.8 165.4h.01M145.9 167.1h.01M148.3 163.9h.01M148.6 167.2h.01M146.1 162.1h.01M146.8 165.1h.01M146.7 161.9h.01M147.2 164.9h.01M145.7 162.3h.01M147.2 164.5h.01M147.4 165.8h.01M146.3 162.2h.01M145.0 160.4h.01M146.2 164.0h.01M146.5 165.6h.01M147.4 164.9h.01M146.3 162.3h.01M145.9 166.3h.01M147.3 163.8h.01M147.1 166.2h.01M147.4 162.4h.01M146.8 165.4h.01M147.6 167.1h.01M147.2 162.9h.01M145.4 163.7h.01M146.9 165.8h.01M147.4 165.6h.01M146.8 165.2h.01M148.0 164.1h.01M146.4 160.8h.01M147.3 164.4h.01M145.8 161.4h.01M146.8 164.6h.01M146.3 159.0h.01M146.0 167.7h.01M145.7 168.7h.01M147.0 165.4h.01M147.1 162.5h.01M146.3 163.7h.01M145.8 166.4h.01M146.1 165.9h.01M147.4 162.8h.01M145.8 167.1h.01M147.7 166.0h.01M145.5 165.6h.01M147.0 163.6h.01M147.3 164.4h.01M147.8 162.8h.01M146.4 164.8h.01M146.2 162.9h.01M145.6 167.1h.01M147.5 164.5h.01M146.7 164.9h.01M146.4 165.1h.01M146.5 165.1h.01M147.0 161.1h.01M146.8 167.3h.01M147.7 164.6h.01M145.1 163.1h.01M147.5 162.2h.01M146.4 162.8h.01M146.7 163.0h.01M146.5 164.4h.01M146.7 162.4h.01M147.4 164.6h.01M147.0 164.7h.01M145.6 162.8h.01M146.7 169.4h.01M146.7 164.1h.01M147.1 165.1h.01M146.8 164.6h.01M146.7 164.0h.01M147.6 165.9h.01M145.9 167.5h.01M148.5 164.2h.01M146.3 162.4h.01M146.0 165.6h.01M147.4 159.4h.01M147.7 164.7h.01M147.8 163.9h.01M148.0 165.1h.01M147.2 160.9h.01M146.8 163.3h.01M147.1 162.0h.01M146.8 163.1h.01M146.4 165.7h.01M148.1 163.9h.01M148.3 163.0h.01M146.8 167.0h.01M146.6 164.3h.01M146.4 159.7h.01M145.5 161.9h.01M146.3 165.2h.01M146.4 165.3h.01M146.8 164.8h.01M146.0 164.9h.01M145.3 162.2h.01M147.3 164.1h.01M148.2 161.6h.01M145.1 162.4h.01M146.7 162.2h.01M147.5 162.3h.01M145.9 163.5h.01M145.7 163.7h.01M146.8 162.4h.01M146.6 166.7h.01M146.3 163.2h.01M148.1 167.7h.01M148.0 166.5h.01M147.3 161.5h.01M146.8 166.2h.01M146.5 161.0h.01M147.5 167.5h.01M146.6 164.9h.01M148.0 161.9h.01M147.8 159.2h.01M146.3 163.3h.01M147.4 161.1h.01M148.1 166.6h.01" stroke="#000" stroke-opacity="0.6" stroke-width="1.00" stroke-linecap="round" fill="none"/>
<line x1="130.50" y1="151.30" x2="202.20" y2="151.30" stroke="#8a8a8a" stroke-width="1.3"/>
<line x1="165.20" y1="110.30" x2="165.20" y2="181.80" stroke="#555" stroke-width="1"/>
<text x="131.30" y="116.50" font-size="6.9" stroke="#111" stroke-width="0.2" text-anchor="start" fill="#111">12.4</text>
<text x="200.70" y="116.50" font-size="6.9" stroke="#111" stroke-width="0.2" text-anchor="end" fill="#111">17.9</text>
<text x="131.30" y="180.90" font-size="6.9" stroke="#111" stroke-width="0.2" text-anchor="start" fill="#111">47.7</text>
<text x="200.70" y="180.90" font-size="6.9" stroke="#111" stroke-width="0.2" text-anchor="end" fill="#111">22.0</text>
<rect x="206.0" y="110.3" width="71.39999999999998" height="71.50000000000001" fill="#fff" stroke="#a4a4a4" stroke-width="1"/>
<path d="M253.9 165.9h.01M229.0 164.9h.01M240.4 163.3h.01M257.7 166.0h.01M233.7 162.6h.01M235.2 166.6h.01M252.8 167.0h.01M250.3 166.5h.01M251.2 161.1h.01M252.9 165.3h.01M257.9 165.1h.01M229.4 166.4h.01M242.1 160.5h.01M237.9 162.8h.01M237.6 164.1h.01M252.8 167.6h.01M257.7 162.8h.01M247.7 166.4h.01M224.8 164.6h.01M238.1 169.0h.01M256.3 165.0h.01M241.8 160.3h.01M231.6 163.6h.01M228.2 164.9h.01M230.7 167.4h.01M227.0 165.9h.01M251.8 163.6h.01M246.9 161.2h.01M245.5 164.3h.01M250.4 164.0h.01M239.7 167.5h.01M250.7 166.5h.01M251.3 160.8h.01M247.1 158.6h.01M230.3 163.2h.01M256.8 164.9h.01M240.8 161.9h.01M248.7 163.0h.01M233.1 167.2h.01M227.8 166.1h.01M225.8 160.0h.01M226.0 165.1h.01M257.2 164.7h.01M226.9 163.8h.01M228.8 165.6h.01M254.8 165.7h.01M224.3 170.3h.01M252.2 164.8h.01M250.4 162.5h.01M255.0 163.0h.01M245.9 166.0h.01M232.6 169.0h.01M257.7 165.8h.01M250.4 165.6h.01M233.0 164.9h.01M233.3 163.2h.01M250.1 164.5h.01M242.7 161.3h.01M254.3 166.1h.01M236.2 165.4h.01M230.7 164.7h.01M249.3 162.2h.01M226.1 163.6h.01M234.4 162.9h.01M238.2 165.0h.01M243.1 163.6h.01M241.6 165.2h.01M254.2 166.6h.01M252.2 167.4h.01M229.6 161.8h.01M228.9 163.5h.01M246.4 161.6h.01M236.8 167.3h.01M257.4 162.2h.01M234.2 167.6h.01M230.8 163.1h.01M235.7 166.8h.01M247.9 163.0h.01M243.3 163.7h.01M232.5 164.6h.01M254.9 164.5h.01M255.8 163.9h.01M251.5 165.9h.01M234.1 167.2h.01M226.0 166.4h.01M245.9 163.1h.01M246.5 159.8h.01M254.5 164.6h.01M224.8 157.3h.01M232.0 165.9h.01M255.8 165.8h.01M257.9 161.3h.01M235.7 165.7h.01M253.5 162.7h.01M251.9 167.4h.01M227.8 162.4h.01M250.1 162.3h.01M237.8 162.7h.01M235.0 164.9h.01M248.2 161.8h.01M238.6 169.8h.01M254.0 163.4h.01M233.6 168.6h.01M232.3 163.6h.01M226.6 163.5h.01M252.9 162.6h.01M236.9 162.4h.01M226.1 165.4h.01M257.2 167.2h.01M229.3 164.6h.01M231.5 162.1h.01M247.0 164.8h.01M257.0 162.4h.01M256.8 157.7h.01M257.6 164.6h.01M235.6 160.0h.01M236.0 162.7h.01M226.1 164.4h.01M250.2 163.3h.01M253.2 163.7h.01M224.8 168.1h.01M235.2 166.6h.01M254.3 168.0h.01M238.0 164.8h.01M251.0 164.8h.01M238.2 168.6h.01M256.8 162.8h.01M227.0 165.1h.01M248.9 164.6h.01M256.0 165.0h.01M251.0 165.8h.01M252.9 164.6h.01M234.8 166.3h.01M242.7 162.2h.01M241.1 165.5h.01M225.1 161.7h.01M250.9 166.9h.01M226.2 166.7h.01M231.7 163.8h.01M233.8 163.0h.01M255.8 164.2h.01M255.0 165.6h.01M235.7 160.6h.01M236.6 161.8h.01M230.1 166.6h.01M233.5 163.8h.01M226.8 161.1h.01M255.1 158.9h.01M235.7 163.2h.01M230.9 160.0h.01M227.1 164.6h.01M229.0 164.1h.01M225.2 168.7h.01M237.9 161.2h.01M252.0 165.8h.01M255.3 161.3h.01M232.3 161.7h.01M227.8 163.7h.01M236.8 162.2h.01M224.7 168.7h.01M251.6 164.1h.01M234.4 162.4h.01M234.4 169.9h.01M254.0 162.3h.01M255.8 163.3h.01M254.8 163.7h.01M241.3 162.3h.01M235.4 165.7h.01M226.8 167.1h.01M256.5 161.1h.01M225.2 163.0h.01M252.0 163.3h.01M253.1 160.8h.01M251.6 161.0h.01M252.8 163.3h.01M238.5 162.0h.01M253.4 164.9h.01M236.3 166.2h.01M256.1 164.6h.01M225.7 164.9h.01M253.4 162.0h.01M236.8 162.7h.01M243.6 165.1h.01M225.2 165.6h.01M224.4 164.0h.01M227.4 165.5h.01M231.7 163.6h.01M234.3 161.3h.01M245.8 164.9h.01M238.4 163.1h.01M245.0 160.0h.01M233.3 166.2h.01M227.5 165.1h.01M249.9 165.9h.01M244.1 163.0h.01M253.7 167.8h.01M255.2 165.3h.01M239.7 166.5h.01M230.7 162.6h.01M229.9 163.4h.01M239.3 167.3h.01M234.0 164.1h.01M248.2 164.2h.01M239.9 167.8h.01M243.7 167.0h.01M235.8 164.7h.01M250.4 168.8h.01M241.5 160.6h.01M252.9 164.0h.01M240.1 162.8h.01M252.9 167.7h.01M251.8 168.0h.01M233.7 163.0h.01M234.0 164.5h.01M257.6 166.4h.01M237.8 165.4h.01M245.3 164.8h.01M254.9 166.6h.01M242.3 168.9h.01M226.3 164.5h.01M237.9 161.5h.01M242.0 163.9h.01M256.2 164.1h.01M256.0 163.3h.01M233.3 165.9h.01M227.8 166.0h.01M240.9 166.4h.01M238.2 165.3h.01M249.7 164.8h.01M240.4 161.8h.01M229.4 163.4h.01M237.6 162.1h.01M230.4 165.0h.01M250.8 163.9h.01M242.0 164.1h.01M249.6 165.5h.01M228.3 163.5h.01M258.0 166.8h.01M239.0 166.7h.01M245.3 162.0h.01M250.8 167.3h.01M247.9 163.4h.01M255.9 162.5h.01M229.1 163.5h.01M249.5 161.2h.01M256.5 165.0h.01M250.7 167.1h.01M251.6 160.6h.01M228.3 165.2h.01M232.5 165.6h.01M257.5 165.8h.01M235.3 165.7h.01M245.6 165.2h.01M243.6 163.1h.01M257.6 166.3h.01M235.4 165.0h.01M232.5 166.1h.01M240.9 165.0h.01M251.6 163.6h.01M232.6 164.1h.01M227.1 165.7h.01M231.1 166.7h.01M248.5 159.7h.01M227.4 161.2h.01M244.1 160.3h.01M257.0 162.9h.01M254.3 162.6h.01M232.9 164.7h.01M224.4 163.5h.01M225.0 167.4h.01M250.9 162.7h.01M251.5 162.5h.01M228.2 162.2h.01M245.8 163.5h.01M230.9 164.6h.01M234.8 163.0h.01M242.6 162.0h.01M256.7 161.0h.01M225.9 164.6h.01M248.3 162.9h.01M254.0 161.9h.01M239.8 163.6h.01M255.0 165.0h.01M237.0 169.1h.01M225.1 168.1h.01M238.2 162.1h.01M240.7 163.1h.01M244.6 159.5h.01M225.8 159.5h.01M225.5 159.8h.01M228.4 166.4h.01M228.9 163.8h.01M231.2 160.7h.01M245.4 162.6h.01M236.1 163.0h.01M253.6 162.6h.01M253.8 167.7h.01M254.4 159.6h.01M252.9 163.1h.01M257.9 164.8h.01M242.7 165.3h.01M237.4 159.0h.01M238.7 164.6h.01M227.7 161.2h.01M229.5 162.8h.01M256.7 160.4h.01M248.1 166.0h.01M253.9 171.6h.01M254.1 166.6h.01M252.3 163.5h.01M236.5 160.0h.01M225.7 166.3h.01M238.8 167.0h.01M257.3 161.6h.01M228.1 166.4h.01M242.3 159.9h.01M229.6 161.1h.01M251.7 164.5h.01M252.7 160.9h.01M227.9 166.0h.01M245.5 167.6h.01M257.7 164.3h.01M234.8 165.4h.01M241.0 168.0h.01M238.8 165.4h.01M237.0 167.3h.01M241.0 167.6h.01M230.7 161.7h.01M241.2 169.4h.01M239.1 167.0h.01M238.7 143.3h.01M221.6 136.8h.01M220.4 131.7h.01M257.1 135.5h.01M250.5 130.8h.01M247.9 145.9h.01M222.2 135.7h.01M248.0 148.6h.01M248.7 141.7h.01M233.6 144.2h.01M252.3 140.5h.01M259.9 147.6h.01M229.9 145.6h.01M221.5 132.9h.01M231.6 144.0h.01M247.1 146.9h.01M256.0 144.3h.01M257.7 146.9h.01M252.5 144.1h.01M244.5 139.4h.01M228.4 131.8h.01M232.8 135.0h.01M228.4 144.7h.01M243.1 136.2h.01M223.8 145.6h.01M251.8 146.6h.01M245.8 150.2h.01M251.8 148.2h.01M248.4 149.9h.01M246.6 135.2h.01M232.6 132.2h.01M256.3 147.0h.01M250.6 136.8h.01M224.9 148.1h.01M229.3 144.6h.01M223.9 150.0h.01M247.1 134.4h.01M238.2 135.9h.01M229.4 143.9h.01M248.3 130.5h.01M224.5 143.9h.01M259.5 141.3h.01M258.2 140.0h.01M223.9 131.7h.01M247.1 145.2h.01M244.4 131.4h.01M232.1 144.2h.01M233.4 146.4h.01M258.3 135.4h.01M223.2 147.6h.01M256.0 135.0h.01M239.6 137.8h.01M242.0 146.4h.01M240.2 148.0h.01M251.4 148.8h.01M227.6 145.8h.01M229.3 130.7h.01M224.4 147.2h.01M238.0 147.6h.01M221.6 148.5h.01M258.7 137.1h.01M237.6 133.0h.01M234.0 146.5h.01M257.2 135.8h.01M254.3 138.5h.01M228.8 148.2h.01M223.1 133.9h.01M248.8 135.9h.01M234.3 136.9h.01M253.1 146.5h.01M235.1 149.3h.01M232.0 133.6h.01M238.4 136.0h.01M221.7 145.7h.01M227.0 134.6h.01M226.0 142.3h.01M248.3 139.4h.01M232.0 147.1h.01M252.6 135.6h.01M257.9 140.7h.01M239.8 142.0h.01M227.5 131.1h.01M220.6 131.6h.01M258.5 134.4h.01M224.8 131.1h.01M249.8 138.0h.01M220.8 141.6h.01M256.6 140.0h.01M242.4 143.1h.01M246.3 141.9h.01M244.7 144.6h.01M229.4 147.3h.01M224.7 130.7h.01M253.4 131.6h.01M242.2 130.9h.01M242.8 141.4h.01M224.5 133.4h.01M257.9 140.1h.01M247.9 135.8h.01M236.9 138.7h.01M221.9 139.1h.01M238.8 142.2h.01M259.1 130.8h.01M250.4 140.3h.01M220.9 136.3h.01M249.9 141.4h.01M254.8 138.3h.01M230.3 130.7h.01M253.7 139.2h.01M258.9 141.3h.01M236.7 147.6h.01M224.1 139.8h.01M234.8 135.9h.01M256.2 130.8h.01M238.6 133.5h.01M232.0 149.2h.01M237.7 141.2h.01M253.3 148.5h.01M244.3 132.5h.01M224.6 133.5h.01M232.7 147.9h.01M231.4 131.2h.01M250.7 139.8h.01M240.5 143.4h.01M222.9 140.9h.01M220.7 143.6h.01M234.6 131.3h.01M242.7 141.3h.01M243.0 141.0h.01M235.4 145.9h.01M236.5 140.0h.01M232.1 136.8h.01M226.3 139.4h.01M233.1 133.6h.01M246.3 145.9h.01M231.8 141.1h.01M256.3 135.6h.01M242.4 144.2h.01M226.5 136.6h.01M238.5 140.4h.01M227.1 150.1h.01M225.3 149.0h.01M224.4 139.2h.01M226.8 135.5h.01M227.5 145.1h.01M258.8 149.7h.01M222.0 147.5h.01M238.1 142.2h.01M246.0 145.4h.01M222.8 150.3h.01M233.1 136.2h.01M236.2 132.2h.01M239.0 145.3h.01M247.2 148.7h.01M240.5 141.9h.01M240.9 136.4h.01M231.3 138.1h.01M222.1 130.4h.01M246.5 145.2h.01M241.1 149.9h.01M240.6 133.2h.01M243.2 142.0h.01M257.4 139.0h.01M250.3 143.0h.01M239.6 149.7h.01M228.2 146.8h.01M226.6 142.8h.01M243.2 131.0h.01M251.3 137.0h.01M247.0 136.8h.01M250.5 144.7h.01M223.1 133.1h.01M223.3 135.1h.01M242.6 132.6h.01M250.9 144.1h.01M228.0 130.3h.01M259.5 137.8h.01M238.8 137.3h.01M222.4 148.2h.01M244.1 131.4h.01M259.9 145.0h.01M259.4 139.3h.01M259.0 136.8h.01M237.7 131.0h.01M255.2 138.1h.01M233.5 149.7h.01M254.9 145.2h.01M240.8 133.5h.01M235.3 132.9h.01M221.7 141.1h.01M235.6 143.2h.01M246.7 148.9h.01M227.4 149.2h.01M238.0 147.7h.01M229.9 132.9h.01M226.6 139.2h.01M233.7 134.7h.01M226.6 142.6h.01M243.7 135.3h.01M246.6 138.9h.01M233.4 148.2h.01M223.5 135.6h.01M232.3 147.9h.01M225.3 142.5h.01M245.3 135.6h.01M255.0 143.9h.01M222.3 143.4h.01M237.8 138.1h.01M239.5 147.1h.01M221.7 145.5h.01M259.5 142.2h.01M224.7 143.8h.01M224.7 146.7h.01M222.6 141.8h.01M235.0 144.9h.01M246.5 140.1h.01M241.1 139.2h.01M236.9 137.6h.01M229.8 137.8h.01M253.4 146.8h.01M229.9 137.5h.01M237.9 141.6h.01M247.0 137.9h.01M220.9 142.2h.01M226.2 132.8h.01M238.4 130.9h.01M230.8 137.5h.01M227.5 135.6h.01M258.7 147.4h.01M220.5 145.9h.01M232.3 147.5h.01M226.8 140.0h.01M228.5 143.3h.01M257.4 145.5h.01M234.5 136.7h.01M243.5 132.4h.01M245.0 149.7h.01M256.4 149.0h.01M257.0 131.7h.01M233.8 133.8h.01M246.4 147.0h.01M224.1 143.5h.01M246.5 146.1h.01M229.6 140.0h.01M220.4 134.8h.01M250.8 133.9h.01M259.8 148.5h.01M248.0 141.1h.01M251.4 140.8h.01M257.3 142.5h.01M233.9 144.0h.01M255.2 135.8h.01M239.7 131.9h.01M240.6 148.7h.01M222.9 133.9h.01M231.1 145.1h.01M235.9 139.2h.01M242.0 136.9h.01M229.1 148.8h.01M259.1 144.8h.01M254.8 145.8h.01M225.8 136.1h.01M224.4 144.6h.01M222.0 137.6h.01M227.8 145.4h.01M251.0 147.7h.01M229.4 132.0h.01M243.8 146.4h.01M242.5 137.3h.01M258.4 131.1h.01M237.3 144.3h.01M228.3 146.6h.01M240.7 135.1h.01M235.0 143.9h.01M224.7 143.3h.01M255.2 141.5h.01M234.0 148.1h.01M220.3 145.0h.01M254.0 141.2h.01M253.9 149.8h.01M235.7 130.9h.01M251.7 143.2h.01M239.9 143.8h.01M244.3 143.8h.01M238.8 145.9h.01M225.1 140.2h.01M258.0 133.1h.01M220.6 143.1h.01M221.2 131.9h.01M238.0 147.3h.01M227.9 144.6h.01M253.4 132.5h.01M254.8 144.5h.01M232.3 134.6h.01M223.6 146.1h.01M241.9 131.1h.01M235.1 130.7h.01M259.6 138.0h.01M235.3 138.8h.01M244.8 138.4h.01M258.4 130.4h.01M256.2 130.3h.01M225.5 139.6h.01M237.2 144.0h.01M241.0 149.5h.01M250.2 146.1h.01M254.3 136.8h.01M255.9 139.6h.01M243.5 145.0h.01M252.4 137.0h.01M254.8 142.3h.01M224.3 138.3h.01M259.2 144.9h.01M233.4 137.6h.01M220.7 132.5h.01M231.0 139.3h.01M245.9 139.2h.01M235.2 141.5h.01M243.7 136.3h.01M251.6 136.8h.01M232.7 146.1h.01M228.2 145.7h.01M249.9 131.1h.01M223.4 140.2h.01M257.1 145.7h.01M253.4 131.5h.01M233.7 139.5h.01M240.0 134.1h.01M249.5 141.2h.01M256.1 138.4h.01M259.3 143.0h.01M240.2 142.9h.01M236.7 131.5h.01M222.4 137.8h.01M259.8 131.5h.01M230.7 149.4h.01M228.8 131.3h.01M255.6 134.2h.01M250.1 132.7h.01M239.5 132.9h.01M245.6 141.3h.01M257.3 135.2h.01M238.8 144.7h.01M222.3 149.8h.01M260.0 146.9h.01M258.9 136.4h.01M256.1 135.3h.01M227.9 133.3h.01M232.0 144.6h.01M222.0 132.2h.01M242.9 150.1h.01M257.1 146.6h.01M241.7 144.8h.01M224.4 149.3h.01M225.3 130.5h.01M250.5 133.1h.01M229.3 140.3h.01M250.7 143.6h.01M243.7 132.4h.01M235.5 141.0h.01M237.7 131.5h.01M253.0 138.1h.01M258.5 133.1h.01M226.2 146.0h.01M251.1 145.6h.01M244.6 146.7h.01M229.4 138.4h.01M228.0 133.5h.01M228.7 145.4h.01M258.2 138.8h.01M249.0 132.8h.01M220.1 130.7h.01M236.8 136.2h.01M249.7 142.6h.01M228.2 140.1h.01M237.6 138.3h.01M232.8 130.5h.01M240.1 141.1h.01M223.9 150.3h.01M246.5 133.9h.01M224.2 145.9h.01M240.3 132.0h.01M226.7 145.4h.01M244.2 138.8h.01M222.8 144.8h.01M230.0 143.1h.01M250.9 137.1h.01M224.2 147.1h.01M228.4 139.5h.01M244.8 150.0h.01M243.6 145.8h.01M222.7 130.7h.01M241.7 145.5h.01M257.1 142.0h.01M224.6 148.4h.01M235.0 142.2h.01M221.5 142.6h.01M246.5 142.5h.01M223.5 134.7h.01M235.6 140.0h.01M227.6 147.8h.01M250.5 133.5h.01M227.5 138.1h.01M231.6 145.9h.01M246.9 147.9h.01M223.2 133.8h.01M241.8 135.6h.01M226.5 145.2h.01M227.2 145.4h.01M259.9 135.9h.01M223.2 132.9h.01M230.1 132.0h.01M233.7 148.7h.01M248.5 149.5h.01M227.8 130.6h.01M225.2 138.0h.01M230.8 136.0h.01M244.1 138.8h.01M258.8 141.1h.01M243.1 139.9h.01M220.6 141.7h.01M235.2 140.9h.01M241.8 141.1h.01M252.1 148.4h.01M259.4 135.9h.01M225.4 134.1h.01M252.6 147.4h.01M248.3 140.1h.01M245.9 132.1h.01M242.0 144.9h.01M255.6 138.8h.01M259.4 131.9h.01M254.3 135.1h.01M252.1 137.1h.01M256.5 136.4h.01M249.6 131.6h.01M255.9 127.6h.01M258.6 136.7h.01M258.1 138.2h.01M256.1 142.0h.01M251.3 137.1h.01M252.0 132.0h.01M249.7 137.1h.01M260.6 134.9h.01M258.2 132.7h.01M253.0 129.7h.01M253.0 128.2h.01M254.2 132.6h.01M250.7 133.7h.01M255.3 135.6h.01M255.2 135.5h.01M255.0 136.3h.01M253.5 142.9h.01M243.4 135.1h.01M252.5 140.8h.01M247.7 132.3h.01M246.6 132.5h.01M262.1 133.3h.01M251.3 128.3h.01M252.5 141.9h.01M252.0 136.4h.01M249.9 138.2h.01M259.6 142.2h.01M246.0 137.2h.01M255.1 141.8h.01M250.9 126.1h.01M258.2 140.4h.01M256.5 136.6h.01M253.5 133.2h.01M247.3 139.7h.01M256.3 135.5h.01M257.0 132.6h.01M255.8 127.7h.01M252.0 142.4h.01M255.7 125.0h.01M250.1 135.7h.01M254.2 141.7h.01M254.6 138.0h.01M252.3 132.9h.01M249.3 134.3h.01M252.3 132.9h.01M249.7 136.4h.01M248.5 135.1h.01M257.3 130.3h.01M252.6 129.5h.01M251.1 139.9h.01M251.1 130.3h.01M254.9 130.9h.01M251.9 144.6h.01M250.4 132.0h.01M254.2 130.1h.01M253.7 131.5h.01M249.6 138.4h.01M248.9 132.3h.01M258.3 134.8h.01M252.0 126.1h.01M257.9 132.8h.01M255.5 135.4h.01M252.9 135.5h.01M252.2 141.1h.01M259.6 137.3h.01M250.6 123.8h.01M251.6 128.8h.01M249.9 131.7h.01M252.5 134.1h.01M249.4 135.5h.01M253.6 137.7h.01M248.2 128.5h.01M255.2 126.4h.01M254.5 138.4h.01M254.0 131.2h.01M250.8 125.8h.01M258.2 131.4h.01M261.0 133.4h.01M252.6 130.4h.01M250.1 130.5h.01M255.7 139.2h.01M252.3 130.8h.01M253.7 136.4h.01M255.7 136.0h.01M247.8 133.8h.01M256.0 144.6h.01M249.0 129.8h.01M248.2 145.5h.01M251.6 131.4h.01M258.9 134.1h.01M250.6 136.4h.01M254.9 139.6h.01M249.4 138.0h.01M255.6 133.8h.01M254.4 133.8h.01M257.7 139.9h.01M253.8 141.3h.01M253.1 133.1h.01M245.7 140.1h.01M254.3 137.5h.01M256.2 136.2h.01M253.9 130.8h.01M253.8 130.2h.01M255.3 136.9h.01M256.9 153.4h.01M245.0 157.2h.01M221.4 164.8h.01M248.1 168.6h.01M251.4 169.3h.01M238.6 157.8h.01M223.1 165.2h.01M249.3 163.5h.01M235.6 155.2h.01M250.9 166.8h.01M235.3 153.4h.01M236.8 165.5h.01M247.8 159.0h.01M230.2 167.4h.01M253.5 167.7h.01M229.8 153.6h.01M253.0 162.4h.01M249.6 169.9h.01M231.0 164.7h.01M247.6 160.0h.01M242.5 154.5h.01M233.7 154.1h.01M240.8 162.3h.01M226.2 167.6h.01M220.6 168.2h.01M256.9 168.4h.01M246.7 164.2h.01M249.3 171.4h.01M233.3 162.5h.01M220.5 162.1h.01M221.2 171.1h.01M231.6 167.9h.01M229.5 168.3h.01M238.9 158.6h.01M230.4 162.5h.01M254.7 152.6h.01M234.4 168.3h.01M232.7 156.4h.01M233.8 164.6h.01M229.1 151.0h.01M224.6 158.0h.01M244.7 153.4h.01M232.6 158.7h.01M235.2 164.2h.01M254.5 161.9h.01M249.0 151.5h.01M255.2 161.5h.01M244.4 150.7h.01M249.5 160.0h.01M248.6 167.7h.01M237.2 162.9h.01M253.3 158.6h.01M233.1 164.5h.01M231.7 162.9h.01M241.1 158.9h.01M242.6 158.9h.01M243.9 165.2h.01M242.8 164.3h.01M222.7 164.6h.01M251.3 153.2h.01M249.0 170.9h.01M255.7 169.4h.01M231.0 153.8h.01M229.6 167.1h.01M249.2 158.3h.01M224.8 168.2h.01M233.7 161.4h.01M257.0 164.3h.01M233.8 163.7h.01M239.6 164.5h.01M236.5 164.0h.01M248.7 164.6h.01M246.1 160.9h.01M234.2 161.7h.01M247.7 153.4h.01M241.2 164.1h.01M234.5 158.7h.01M234.2 151.5h.01M237.6 167.4h.01M237.2 165.0h.01M220.3 158.5h.01M220.6 165.0h.01M227.5 172.2h.01M246.0 153.5h.01M256.8 166.6h.01M220.3 172.3h.01M220.2 152.8h.01M240.2 155.3h.01M251.9 157.5h.01M252.8 171.5h.01" stroke="#333" stroke-opacity="0.25" stroke-width="0.80" stroke-linecap="round" fill="none"/>
<path d="M223.9 164.5h.01M224.1 165.9h.01M221.6 163.5h.01M224.8 161.4h.01M222.3 166.6h.01M220.5 160.1h.01M223.3 167.9h.01M223.8 162.5h.01M222.2 162.7h.01M220.9 165.2h.01M221.6 165.2h.01M223.0 165.5h.01M219.6 160.1h.01M224.6 161.7h.01M224.6 165.0h.01M222.9 165.1h.01M224.6 163.9h.01M222.9 167.6h.01M221.6 163.6h.01M224.1 166.6h.01M224.0 167.0h.01M221.9 165.0h.01M221.2 163.6h.01M221.8 166.1h.01M224.8 165.3h.01M222.7 165.8h.01M227.1 161.8h.01M222.3 165.4h.01M224.0 168.4h.01M223.6 163.3h.01M222.9 164.5h.01M224.3 163.5h.01M222.0 166.5h.01M223.1 158.6h.01M221.5 168.4h.01M220.1 165.5h.01M223.3 163.5h.01M221.6 164.9h.01M221.4 167.2h.01M224.0 165.1h.01M222.9 165.9h.01M223.7 167.4h.01M225.6 164.6h.01M223.4 166.1h.01M223.8 168.1h.01M221.5 165.6h.01M224.3 162.5h.01M224.4 166.2h.01M221.7 169.6h.01M224.1 163.3h.01M223.6 165.4h.01M222.9 165.3h.01M223.3 166.5h.01M226.6 163.0h.01M222.3 164.1h.01M222.7 169.4h.01M223.3 166.0h.01M222.9 162.5h.01M220.6 166.3h.01M224.1 164.3h.01M224.5 168.3h.01M225.6 159.8h.01M222.4 164.4h.01M221.4 166.8h.01M224.1 160.7h.01M221.7 162.1h.01M223.2 165.4h.01M222.6 164.2h.01M223.4 163.3h.01M222.5 165.0h.01M224.2 160.4h.01M221.9 161.9h.01M226.5 168.8h.01M224.3 162.4h.01M222.3 165.3h.01M221.8 164.0h.01M222.9 166.5h.01M222.5 165.0h.01M222.0 165.2h.01M225.1 167.3h.01M224.5 165.0h.01M221.7 159.6h.01M224.0 162.4h.01M223.2 168.0h.01M224.3 167.0h.01M222.3 163.5h.01M226.2 159.9h.01M223.3 162.2h.01M226.0 169.7h.01M222.5 167.4h.01M225.1 167.4h.01M223.0 159.8h.01M225.5 160.5h.01M222.9 162.6h.01M221.7 160.5h.01M221.7 164.4h.01M222.3 161.2h.01M224.0 165.4h.01M223.7 163.6h.01M223.3 162.6h.01M224.7 165.9h.01M225.5 165.3h.01M221.8 164.5h.01M224.6 163.2h.01M226.4 164.0h.01M222.3 159.0h.01M222.4 158.9h.01M223.8 162.3h.01M223.5 164.5h.01M222.4 168.8h.01M223.1 165.2h.01M225.4 161.5h.01M224.5 162.8h.01M222.1 160.8h.01M220.8 164.0h.01M221.6 163.9h.01M223.4 164.0h.01M222.1 164.9h.01M222.0 166.9h.01M224.2 166.0h.01M222.8 161.1h.01M222.7 166.4h.01M223.5 161.4h.01M225.2 165.2h.01M223.6 164.4h.01M224.2 168.6h.01M223.3 163.9h.01M225.4 163.9h.01M221.5 163.4h.01M221.6 166.4h.01M222.5 165.0h.01M226.0 163.4h.01M225.4 166.4h.01M221.7 169.7h.01M222.6 168.5h.01M224.0 168.1h.01M223.3 162.7h.01M224.4 163.9h.01M222.5 164.6h.01M220.9 159.6h.01M224.1 168.7h.01M224.9 160.3h.01M221.0 165.2h.01M220.6 160.9h.01M222.6 164.5h.01M220.6 166.4h.01M223.8 165.5h.01M221.6 161.9h.01M224.2 162.4h.01M222.7 166.6h.01M247.6 163.4h.01M250.8 164.1h.01M248.4 166.6h.01M248.0 160.9h.01M242.2 165.9h.01M245.0 164.9h.01M245.3 166.9h.01M252.1 162.2h.01M249.2 166.5h.01M248.9 162.7h.01M246.4 164.9h.01M252.9 163.6h.01M235.3 159.6h.01M242.6 164.2h.01M251.5 165.1h.01M245.0 165.9h.01M250.0 163.1h.01M254.5 162.1h.01M250.8 165.7h.01M239.9 163.6h.01M245.9 166.3h.01M241.5 167.0h.01M249.2 163.9h.01M251.9 164.0h.01M245.8 162.9h.01M249.4 160.5h.01M246.0 164.3h.01M256.1 165.7h.01M247.6 166.3h.01M248.1 164.3h.01M249.7 167.8h.01M252.0 163.3h.01M250.3 164.3h.01M246.8 163.3h.01M247.2 163.5h.01M249.4 163.8h.01M249.8 163.0h.01M245.2 163.5h.01M244.2 164.9h.01M245.9 164.5h.01M249.2 162.3h.01M244.9 165.3h.01M241.9 162.8h.01M245.4 165.2h.01M244.7 164.5h.01M249.9 160.7h.01M244.6 162.4h.01M245.1 166.1h.01M255.9 163.1h.01M249.1 163.1h.01M242.6 163.5h.01M252.7 164.5h.01M245.3 165.4h.01M243.1 163.8h.01M250.1 167.5h.01M240.3 163.2h.01M246.7 163.4h.01M249.7 164.0h.01M250.6 164.6h.01M244.5 167.1h.01" stroke="#222" stroke-opacity="0.4" stroke-width="0.90" stroke-linecap="round" fill="none"/>
<path d="M222.7 163.3h.01M221.6 167.8h.01M223.7 162.3h.01M223.5 162.1h.01M221.6 159.0h.01M222.9 165.9h.01M222.3 167.4h.01M221.0 161.4h.01M221.5 163.3h.01M222.4 163.5h.01M222.7 160.6h.01M222.0 164.2h.01M222.5 164.7h.01M222.5 162.9h.01M222.5 161.8h.01M221.4 164.4h.01M222.4 165.4h.01M222.7 160.9h.01M221.1 163.8h.01M223.5 165.3h.01M223.5 157.8h.01M222.4 164.8h.01M224.0 167.9h.01M221.7 161.2h.01M221.6 167.0h.01M221.8 163.4h.01M221.7 165.4h.01M223.8 163.7h.01M222.3 161.5h.01M222.3 160.2h.01M222.6 169.4h.01M223.6 161.1h.01M222.4 163.5h.01M222.0 167.3h.01M222.5 164.7h.01M223.3 164.5h.01M222.1 159.5h.01M223.4 162.7h.01M222.5 161.1h.01M222.2 160.0h.01M222.7 164.9h.01M223.9 165.9h.01M222.1 162.3h.01M223.4 162.6h.01M222.8 165.0h.01M222.4 166.0h.01M222.3 161.7h.01M223.0 166.7h.01M222.8 166.2h.01M222.6 164.1h.01M222.8 161.6h.01M221.6 165.3h.01M221.8 165.6h.01M221.5 168.0h.01M222.0 162.7h.01M222.1 167.6h.01M222.0 163.3h.01M222.7 165.3h.01M221.6 163.8h.01M222.1 164.3h.01M223.0 167.4h.01M223.6 162.5h.01M222.3 165.9h.01M223.3 163.5h.01M223.4 164.0h.01M221.5 162.5h.01M222.5 164.5h.01M221.5 159.6h.01M222.0 163.5h.01M222.6 166.3h.01M221.3 166.0h.01M222.7 160.4h.01M222.2 161.5h.01M222.1 163.1h.01M222.7 168.3h.01M221.7 163.1h.01M221.0 164.1h.01M222.3 163.5h.01M221.7 164.8h.01M222.1 162.0h.01M221.4 164.7h.01M221.6 165.1h.01M221.5 166.4h.01M221.3 162.1h.01M221.7 166.1h.01M221.7 168.4h.01M222.3 165.9h.01M224.8 165.6h.01M221.8 158.6h.01M221.0 167.1h.01M222.8 168.4h.01M221.3 166.8h.01M221.6 165.2h.01M222.0 166.0h.01M222.3 170.9h.01M222.4 162.5h.01M222.5 163.2h.01M222.2 166.6h.01M223.2 164.7h.01M223.0 159.2h.01M221.9 164.6h.01M222.1 164.9h.01M221.2 162.0h.01M222.8 164.9h.01M222.1 164.6h.01M223.8 160.0h.01M221.8 165.3h.01M223.5 169.0h.01M221.6 168.1h.01M221.0 161.5h.01M221.6 161.1h.01M222.6 164.2h.01M223.1 164.7h.01M221.6 161.0h.01M223.0 162.4h.01M221.9 167.2h.01M221.9 164.6h.01M222.1 166.5h.01M223.6 164.0h.01M222.4 166.4h.01M222.5 162.9h.01M221.1 162.9h.01M222.4 161.9h.01M222.5 159.7h.01M223.6 163.2h.01M221.6 161.0h.01M221.7 163.0h.01M221.6 164.4h.01M221.8 164.5h.01M222.8 165.0h.01M221.7 163.2h.01M223.3 163.9h.01M222.3 166.7h.01M221.6 163.7h.01M221.8 164.1h.01M221.2 158.5h.01M221.1 161.6h.01M223.2 166.6h.01M223.0 162.1h.01M221.5 161.6h.01M221.9 166.3h.01M223.5 161.3h.01M221.7 166.3h.01M222.5 163.8h.01M222.7 162.6h.01M222.1 159.4h.01M222.1 167.1h.01M222.0 159.9h.01M222.4 161.2h.01M221.1 165.9h.01M222.3 161.2h.01M222.4 165.2h.01M221.2 164.0h.01M222.6 163.4h.01M221.5 161.6h.01M220.2 162.5h.01M220.8 164.7h.01M222.3 161.8h.01M222.7 165.5h.01M221.9 164.6h.01M221.1 165.3h.01M222.1 164.6h.01M223.0 165.3h.01M222.2 164.9h.01M221.1 165.9h.01M222.6 164.9h.01M222.1 164.8h.01M222.1 162.0h.01M222.3 160.1h.01M222.7 164.2h.01M222.2 166.2h.01M221.5 161.9h.01M222.2 160.4h.01M222.4 162.8h.01M223.2 164.9h.01M221.3 166.0h.01M222.2 163.3h.01M221.6 161.4h.01M222.5 163.9h.01M221.8 165.6h.01M219.9 163.9h.01M223.0 166.4h.01M221.7 162.9h.01M221.4 166.0h.01M221.1 167.8h.01M221.4 161.8h.01M221.3 162.1h.01M222.2 165.5h.01M222.4 171.2h.01M222.2 165.2h.01M222.5 164.0h.01M221.6 167.0h.01M222.7 163.8h.01M222.2 160.3h.01M222.6 161.9h.01M222.7 167.1h.01M222.0 160.2h.01M223.2 160.8h.01M222.9 165.9h.01M221.9 164.4h.01M223.6 166.8h.01M223.6 161.6h.01M221.1 162.4h.01M220.5 163.3h.01M221.8 161.2h.01M222.6 163.5h.01M223.0 163.7h.01M222.8 166.0h.01M222.3 163.9h.01M223.0 163.1h.01M222.8 165.2h.01M221.9 166.6h.01M222.4 166.4h.01M223.1 164.7h.01M221.8 163.2h.01M221.8 163.0h.01M221.6 161.1h.01M223.4 164.2h.01M222.8 164.0h.01M222.9 167.8h.01M222.0 164.5h.01M222.3 165.8h.01M223.2 167.0h.01M222.1 159.8h.01M223.2 162.6h.01M222.3 163.5h.01M222.3 164.3h.01M222.7 161.5h.01M222.9 166.0h.01M223.6 166.1h.01" stroke="#000" stroke-opacity="0.6" stroke-width="1.00" stroke-linecap="round" fill="none"/>
<line x1="206.00" y1="151.70" x2="277.40" y2="151.70" stroke="#8a8a8a" stroke-width="1.3"/>
<line x1="239.90" y1="110.30" x2="239.90" y2="181.80" stroke="#555" stroke-width="1"/>
<text x="206.80" y="116.50" font-size="6.9" stroke="#111" stroke-width="0.2" text-anchor="start" fill="#111">11.7</text>
<text x="275.90" y="116.50" font-size="6.9" stroke="#111" stroke-width="0.2" text-anchor="end" fill="#111">26.9</text>
<text x="206.80" y="180.90" font-size="6.9" stroke="#111" stroke-width="0.2" text-anchor="start" fill="#111">43.9</text>
<text x="275.90" y="180.90" font-size="6.9" stroke="#111" stroke-width="0.2" text-anchor="end" fill="#111">17.5</text>
<line x1="313.50" y1="67.00" x2="313.50" y2="147.00" stroke="#111" stroke-width="1"/>
<line x1="313.00" y1="146.50" x2="472.00" y2="146.50" stroke="#111" stroke-width="1"/>
<line x1="311.00" y1="146.50" x2="314.00" y2="146.50" stroke="#111" stroke-width="1"/>
<text x="309.90" y="149.20" font-size="7.5" font-weight="bold" stroke="#111" stroke-width="0.4" text-anchor="end" fill="#111">0</text>
<line x1="311.00" y1="132.50" x2="314.00" y2="132.50" stroke="#111" stroke-width="1"/>
<text x="309.90" y="134.80" font-size="7.5" font-weight="bold" stroke="#111" stroke-width="0.4" text-anchor="end" fill="#111">20</text>
<line x1="311.00" y1="117.50" x2="314.00" y2="117.50" stroke="#111" stroke-width="1"/>
<text x="309.90" y="120.40" font-size="7.5" font-weight="bold" stroke="#111" stroke-width="0.4" text-anchor="end" fill="#111">40</text>
<line x1="311.00" y1="103.50" x2="314.00" y2="103.50" stroke="#111" stroke-width="1"/>
<text x="309.90" y="106.00" font-size="7.5" font-weight="bold" stroke="#111" stroke-width="0.4" text-anchor="end" fill="#111">60</text>
<line x1="311.00" y1="88.50" x2="314.00" y2="88.50" stroke="#111" stroke-width="1"/>
<text x="309.90" y="91.60" font-size="7.5" font-weight="bold" stroke="#111" stroke-width="0.4" text-anchor="end" fill="#111">80</text>
<line x1="311.00" y1="74.50" x2="314.00" y2="74.50" stroke="#111" stroke-width="1"/>
<text x="309.90" y="77.20" font-size="7.5" font-weight="bold" stroke="#111" stroke-width="0.4" text-anchor="end" fill="#111">100</text>
<text x="294.80" y="109.80" font-size="8" font-weight="bold" stroke="#111" stroke-width="0.4" text-anchor="middle" fill="#111" transform="rotate(-90 294.80 109.80)">% of total cells</text>
<defs><pattern id="stip" width="2" height="2" patternUnits="userSpaceOnUse"><rect width="2" height="2" fill="#e2e2e2"/><rect width="1" height="1" fill="#cfcfcf"/><rect x="1" y="1" width="1" height="1" fill="#d4d4d4"/></pattern></defs>
<rect x="317" y="75" width="12" height="71" fill="#fff"/>
<rect x="317" y="78.10" width="12" height="5.98" fill="url(#stip)"/>
<rect x="317" y="84.08" width="12" height="61.92" fill="#000"/>
<rect x="317.5" y="75.5" width="11" height="70.5" fill="none" stroke="#111" stroke-width="1"/>
<line x1="317.00" y1="78.50" x2="329.00" y2="78.50" stroke="#111" stroke-width="1"/>
<text x="327.75" y="151.50" font-size="8" font-weight="bold" stroke="#111" stroke-width="0.4" text-anchor="end" fill="#111" transform="rotate(-47 327.75 151.50)">Ctrl</text>
<rect x="337" y="74" width="11" height="72" fill="#fff"/>
<rect x="337" y="77.60" width="11" height="7.70" fill="url(#stip)"/>
<rect x="337" y="85.30" width="11" height="60.70" fill="#000"/>
<rect x="337.5" y="74.5" width="10" height="71.5" fill="none" stroke="#111" stroke-width="1"/>
<line x1="337.00" y1="77.50" x2="348.00" y2="77.50" stroke="#111" stroke-width="1"/>
<text x="349.70" y="151.50" font-size="8" font-weight="bold" stroke="#111" stroke-width="0.4" text-anchor="end" fill="#111" transform="rotate(-47 349.70 151.50)">24 h</text>
<line x1="362.50" y1="75.00" x2="362.50" y2="72.00" stroke="#111" stroke-width="1"/>
<line x1="360.00" y1="72.50" x2="365.00" y2="72.50" stroke="#111" stroke-width="1"/>
<rect x="357" y="75" width="11" height="71" fill="#fff"/>
<rect x="357" y="80.98" width="11" height="10.08" fill="url(#stip)"/>
<rect x="357" y="91.06" width="11" height="54.94" fill="#000"/>
<rect x="357.5" y="75.5" width="10" height="70.5" fill="none" stroke="#111" stroke-width="1"/>
<line x1="357.00" y1="80.50" x2="368.00" y2="80.50" stroke="#111" stroke-width="1"/>
<text x="362.50" y="70.90" font-size="5.5" font-weight="bold" stroke="#111" stroke-width="0.1" text-anchor="middle" fill="#111">**</text>
<text x="369.45" y="151.50" font-size="8" font-weight="bold" stroke="#111" stroke-width="0.4" text-anchor="end" fill="#111" transform="rotate(-47 369.45 151.50)">48 h</text>
<line x1="382.50" y1="75.00" x2="382.50" y2="72.00" stroke="#111" stroke-width="1"/>
<line x1="379.00" y1="71.50" x2="385.00" y2="71.50" stroke="#111" stroke-width="1"/>
<rect x="376" y="75" width="12" height="71" fill="#fff"/>
<rect x="376" y="82.06" width="12" height="12.74" fill="url(#stip)"/>
<rect x="376" y="94.80" width="12" height="51.20" fill="#000"/>
<rect x="376.5" y="75.5" width="11" height="70.5" fill="none" stroke="#111" stroke-width="1"/>
<line x1="376.00" y1="82.50" x2="388.00" y2="82.50" stroke="#111" stroke-width="1"/>
<text x="382.25" y="70.90" font-size="5.5" font-weight="bold" stroke="#111" stroke-width="0.1" text-anchor="middle" fill="#111">***</text>
<text x="389.20" y="151.50" font-size="8" font-weight="bold" stroke="#111" stroke-width="0.4" text-anchor="end" fill="#111" transform="rotate(-47 389.20 151.50)">72 h</text>
<rect x="396" y="76" width="12" height="70" fill="#fff"/>
<rect x="396" y="81.48" width="12" height="4.54" fill="url(#stip)"/>
<rect x="396" y="86.02" width="12" height="59.98" fill="#000"/>
<rect x="396.5" y="76.5" width="11" height="69.5" fill="none" stroke="#111" stroke-width="1"/>
<line x1="396.00" y1="81.50" x2="408.00" y2="81.50" stroke="#111" stroke-width="1"/>
<text x="406.75" y="151.50" font-size="8" font-weight="bold" stroke="#111" stroke-width="0.4" text-anchor="end" fill="#111" transform="rotate(-47 406.75 151.50)">Ctrl</text>
<rect x="416" y="77" width="12" height="69" fill="#fff"/>
<rect x="416" y="86.74" width="12" height="12.96" fill="url(#stip)"/>
<rect x="416" y="99.70" width="12" height="46.30" fill="#000"/>
<rect x="416.5" y="77.5" width="11" height="68.5" fill="none" stroke="#111" stroke-width="1"/>
<line x1="416.00" y1="86.50" x2="428.00" y2="86.50" stroke="#111" stroke-width="1"/>
<text x="421.75" y="76.00" font-size="5.5" font-weight="bold" stroke="#111" stroke-width="0.1" text-anchor="middle" fill="#111">***</text>
<text x="428.70" y="151.50" font-size="8" font-weight="bold" stroke="#111" stroke-width="0.4" text-anchor="end" fill="#111" transform="rotate(-47 428.70 151.50)">24 h</text>
<rect x="436" y="81" width="11" height="65" fill="#fff"/>
<rect x="436" y="94.66" width="11" height="17.28" fill="url(#stip)"/>
<rect x="436" y="111.94" width="11" height="34.06" fill="#000"/>
<rect x="436.5" y="81.5" width="10" height="64.5" fill="none" stroke="#111" stroke-width="1"/>
<line x1="436.00" y1="94.50" x2="447.00" y2="94.50" stroke="#111" stroke-width="1"/>
<text x="441.50" y="82.20" font-size="5.5" font-weight="bold" stroke="#111" stroke-width="0.1" text-anchor="middle" fill="#111">***</text>
<text x="448.45" y="151.50" font-size="8" font-weight="bold" stroke="#111" stroke-width="0.4" text-anchor="end" fill="#111" transform="rotate(-47 448.45 151.50)">48 h</text>
<rect x="456" y="82" width="11" height="64" fill="#fff"/>
<rect x="456" y="102.58" width="11" height="12.46" fill="url(#stip)"/>
<rect x="456" y="115.04" width="11" height="30.96" fill="#000"/>
<rect x="456.5" y="82.5" width="10" height="63.5" fill="none" stroke="#111" stroke-width="1"/>
<line x1="456.00" y1="102.50" x2="467.00" y2="102.50" stroke="#111" stroke-width="1"/>
<text x="461.25" y="82.70" font-size="5.5" font-weight="bold" stroke="#111" stroke-width="0.1" text-anchor="middle" fill="#111">***</text>
<text x="468.20" y="151.50" font-size="8" font-weight="bold" stroke="#111" stroke-width="0.4" text-anchor="end" fill="#111" transform="rotate(-47 468.20 151.50)">72 h</text>
<line x1="318.00" y1="166.50" x2="389.00" y2="166.50" stroke="#111" stroke-width="1"/>
<line x1="397.00" y1="166.50" x2="469.00" y2="166.50" stroke="#111" stroke-width="1"/>
<text x="353.00" y="176.00" font-size="8.2" font-weight="bold" stroke="#111" stroke-width="0.4" text-anchor="middle" fill="#111">MCF-10A</text>
<text x="432.60" y="176.00" font-size="8.2" font-weight="bold" stroke="#111" stroke-width="0.4" text-anchor="middle" fill="#111">SKBR3</text>
<rect x="475.5" y="82.5" width="10.0" height="3" fill="#000" stroke="#111" stroke-width="1"/>
<text x="488.30" y="87.20" font-size="8.0" stroke="#111" stroke-width="0.2" text-anchor="start" fill="#111">Live (V)</text>
<rect x="475.5" y="91.5" width="10.0" height="3" fill="url(#stip)" stroke="#111" stroke-width="1"/>
<text x="488.30" y="96.05" font-size="8.0" stroke="#111" stroke-width="0.2" text-anchor="start" fill="#111">Early (E)</text>
<rect x="475.5" y="100.5" width="10.0" height="3" fill="#fff" stroke="#111" stroke-width="1"/>
<text x="488.30" y="104.90" font-size="8.0" stroke="#111" stroke-width="0.2" text-anchor="start" fill="#111">Late (L)</text>
<text x="2.50" y="224.30" font-size="13" font-weight="bold" stroke="#111" stroke-width="0.7" text-anchor="start" fill="#111">B</text>
<line x1="154.50" y1="231.00" x2="154.50" y2="326.00" stroke="#111" stroke-width="1"/>
<line x1="154.00" y1="325.50" x2="296.00" y2="325.50" stroke="#111" stroke-width="1"/>
<line x1="152.00" y1="325.50" x2="154.00" y2="325.50" stroke="#111" stroke-width="1"/>
<text x="150.20" y="327.70" font-size="7.5" font-weight="bold" stroke="#111" stroke-width="0.4" text-anchor="end" fill="#111">0</text>
<line x1="152.00" y1="306.50" x2="154.00" y2="306.50" stroke="#111" stroke-width="1"/>
<text x="150.20" y="309.00" font-size="7.5" font-weight="bold" stroke="#111" stroke-width="0.4" text-anchor="end" fill="#111">20</text>
<line x1="152.00" y1="287.50" x2="154.00" y2="287.50" stroke="#111" stroke-width="1"/>
<text x="150.20" y="290.30" font-size="7.5" font-weight="bold" stroke="#111" stroke-width="0.4" text-anchor="end" fill="#111">40</text>
<line x1="152.00" y1="268.50" x2="154.00" y2="268.50" stroke="#111" stroke-width="1"/>
<text x="150.20" y="271.60" font-size="7.5" font-weight="bold" stroke="#111" stroke-width="0.4" text-anchor="end" fill="#111">60</text>
<line x1="152.00" y1="250.50" x2="154.00" y2="250.50" stroke="#111" stroke-width="1"/>
<text x="150.20" y="252.90" font-size="7.5" font-weight="bold" stroke="#111" stroke-width="0.4" text-anchor="end" fill="#111">80</text>
<line x1="152.00" y1="231.50" x2="154.00" y2="231.50" stroke="#111" stroke-width="1"/>
<text x="150.20" y="234.20" font-size="7.5" font-weight="bold" stroke="#111" stroke-width="0.4" text-anchor="end" fill="#111">100</text>
<text x="132.00" y="277.60" font-size="8" font-weight="bold" stroke="#111" stroke-width="0.4" text-anchor="middle" fill="#111" transform="rotate(-90 132.00 277.60)">Relative cell numbers (%)</text>
<rect x="163.5" y="231.5" width="11.0" height="94.0" fill="#fff" stroke="#111" stroke-width="1"/>
<line x1="186.50" y1="274.00" x2="186.50" y2="269.00" stroke="#111" stroke-width="1"/>
<line x1="184.00" y1="268.50" x2="189.00" y2="268.50" stroke="#111" stroke-width="1"/>
<rect x="181.5" y="274.5" width="11.0" height="51.0" fill="#000" stroke="#000" stroke-width="1"/>
<text x="186.85" y="266.02" font-size="5.5" font-weight="bold" stroke="#111" stroke-width="0.1" text-anchor="middle" fill="#111">***</text>
<text x="178.15" y="333.90" font-size="8.2" font-weight="bold" stroke="#111" stroke-width="0.4" text-anchor="middle" fill="#111">MCF-10A</text>
<rect x="210.5" y="231.5" width="11.0" height="94.0" fill="#fff" stroke="#111" stroke-width="1"/>
<line x1="233.50" y1="319.00" x2="233.50" y2="318.00" stroke="#111" stroke-width="1"/>
<line x1="231.00" y1="317.50" x2="236.00" y2="317.50" stroke="#111" stroke-width="1"/>
<rect x="228.5" y="318.5" width="11.0" height="7.0" fill="#000" stroke="#000" stroke-width="1"/>
<text x="233.75" y="314.92" font-size="5.5" font-weight="bold" stroke="#111" stroke-width="0.1" text-anchor="middle" fill="#111">***</text>
<text x="225.10" y="333.90" font-size="8.2" font-weight="bold" stroke="#111" stroke-width="0.4" text-anchor="middle" fill="#111">SKBR3</text>
<rect x="257.5" y="231.5" width="11.0" height="94.0" fill="#fff" stroke="#111" stroke-width="1"/>
<line x1="280.50" y1="308.00" x2="280.50" y2="306.00" stroke="#111" stroke-width="1"/>
<line x1="278.00" y1="306.50" x2="283.00" y2="306.50" stroke="#111" stroke-width="1"/>
<rect x="275.5" y="307.5" width="11.0" height="18.0" fill="#000" stroke="#000" stroke-width="1"/>
<text x="280.65" y="302.49" font-size="5.5" font-weight="bold" stroke="#111" stroke-width="0.1" text-anchor="middle" fill="#111">***</text>
<text x="272.05" y="333.90" font-size="8.2" font-weight="bold" stroke="#111" stroke-width="0.4" text-anchor="middle" fill="#111">BT549</text>
<rect x="304.5" y="241.5" width="11.0" height="3" fill="#fff" stroke="#111" stroke-width="1"/>
<text x="317.80" y="246.00" font-size="8.3" stroke="#111" stroke-width="0.2" text-anchor="start" fill="#111">Control</text>
<rect x="304.5" y="253.5" width="11.0" height="3" fill="#000" stroke="#111" stroke-width="1"/>
<text x="317.80" y="257.50" font-size="8.3" stroke="#111" stroke-width="0.2" text-anchor="start" fill="#111">Compound 43</text>
<text x="2.50" y="356.30" font-size="13" font-weight="bold" stroke="#111" stroke-width="0.7" text-anchor="start" fill="#111">C</text>
<line x1="59.50" y1="356.00" x2="59.50" y2="474.00" stroke="#111" stroke-width="1"/>
<line x1="59.00" y1="473.50" x2="416.00" y2="473.50" stroke="#111" stroke-width="1"/>
<line x1="57.00" y1="473.50" x2="59.00" y2="473.50" stroke="#111" stroke-width="1"/>
<text x="55.40" y="475.90" font-size="7.5" font-weight="bold" stroke="#111" stroke-width="0.4" text-anchor="end" fill="#111">0</text>
<line x1="57.00" y1="455.50" x2="59.00" y2="455.50" stroke="#111" stroke-width="1"/>
<text x="55.40" y="457.86" font-size="7.5" font-weight="bold" stroke="#111" stroke-width="0.4" text-anchor="end" fill="#111">20</text>
<line x1="57.00" y1="437.50" x2="59.00" y2="437.50" stroke="#111" stroke-width="1"/>
<text x="55.40" y="439.82" font-size="7.5" font-weight="bold" stroke="#111" stroke-width="0.4" text-anchor="end" fill="#111">40</text>
<line x1="57.00" y1="419.50" x2="59.00" y2="419.50" stroke="#111" stroke-width="1"/>
<text x="55.40" y="421.78" font-size="7.5" font-weight="bold" stroke="#111" stroke-width="0.4" text-anchor="end" fill="#111">60</text>
<line x1="57.00" y1="401.50" x2="59.00" y2="401.50" stroke="#111" stroke-width="1"/>
<text x="55.40" y="403.74" font-size="7.5" font-weight="bold" stroke="#111" stroke-width="0.4" text-anchor="end" fill="#111">80</text>
<line x1="57.00" y1="383.50" x2="59.00" y2="383.50" stroke="#111" stroke-width="1"/>
<text x="55.40" y="385.70" font-size="7.5" font-weight="bold" stroke="#111" stroke-width="0.4" text-anchor="end" fill="#111">100</text>
<line x1="57.00" y1="364.50" x2="59.00" y2="364.50" stroke="#111" stroke-width="1"/>
<text x="55.40" y="367.66" font-size="7.5" font-weight="bold" stroke="#111" stroke-width="0.4" text-anchor="end" fill="#111">120</text>
<text x="36.80" y="416.00" font-size="8.15" font-weight="bold" stroke="#111" stroke-width="0.4" text-anchor="middle" fill="#111" transform="rotate(-90 36.80 416.00)">Relative cell numbers (%)</text>
<rect x="66.5" y="383.5" width="9.0" height="90.0" fill="#fff" stroke="#111" stroke-width="1"/>
<line x1="84.50" y1="383.00" x2="84.50" y2="377.00" stroke="#111" stroke-width="1"/>
<line x1="82.00" y1="376.50" x2="88.00" y2="376.50" stroke="#111" stroke-width="1"/>
<rect x="80.5" y="382.5" width="8.0" height="91.0" fill="#000" stroke="#111" stroke-width="1"/>
<line x1="98.50" y1="377.00" x2="98.50" y2="374.00" stroke="#111" stroke-width="1"/>
<line x1="95.00" y1="373.50" x2="101.00" y2="373.50" stroke="#111" stroke-width="1"/>
<rect x="94.5" y="376.5" width="8.0" height="97.0" fill="#dcdcdc" stroke="#111" stroke-width="1"/>
<line x1="112.50" y1="386.00" x2="112.50" y2="375.00" stroke="#111" stroke-width="1"/>
<line x1="109.00" y1="374.50" x2="115.00" y2="374.50" stroke="#111" stroke-width="1"/>
<rect x="108.5" y="385.5" width="8.0" height="88.0" fill="#e6e6e6" stroke="#111" stroke-width="1"/>
<line x1="125.50" y1="386.00" x2="125.50" y2="384.00" stroke="#111" stroke-width="1"/>
<line x1="123.00" y1="383.50" x2="129.00" y2="383.50" stroke="#111" stroke-width="1"/>
<rect x="121.5" y="385.5" width="9.0" height="88.0" fill="#a2a2a2" stroke="#111" stroke-width="1"/>
<line x1="139.50" y1="373.00" x2="139.50" y2="359.00" stroke="#111" stroke-width="1"/>
<line x1="137.00" y1="359.50" x2="143.00" y2="359.50" stroke="#111" stroke-width="1"/>
<rect x="135.5" y="372.5" width="8.0" height="101.0" fill="#a8a8a8" stroke="#111" stroke-width="1"/>
<line x1="153.50" y1="380.00" x2="153.50" y2="370.00" stroke="#111" stroke-width="1"/>
<line x1="150.00" y1="369.50" x2="156.00" y2="369.50" stroke="#111" stroke-width="1"/>
<rect x="149.5" y="380.5" width="8.0" height="93.0" fill="#5e5e5e" stroke="#111" stroke-width="1"/>
<line x1="167.50" y1="378.00" x2="167.50" y2="374.00" stroke="#111" stroke-width="1"/>
<line x1="164.00" y1="373.50" x2="170.00" y2="373.50" stroke="#111" stroke-width="1"/>
<rect x="162.5" y="378.5" width="9.0" height="95.0" fill="#666" stroke="#111" stroke-width="1"/>
<text x="120.40" y="484.20" font-size="8" font-weight="bold" stroke="#111" stroke-width="0.4" text-anchor="middle" fill="#111">MCF-10A</text>
<rect x="185.5" y="383.5" width="8.0" height="90.0" fill="#fff" stroke="#111" stroke-width="1"/>
<line x1="203.50" y1="383.00" x2="203.50" y2="367.00" stroke="#111" stroke-width="1"/>
<line x1="200.00" y1="366.50" x2="206.00" y2="366.50" stroke="#111" stroke-width="1"/>
<rect x="198.5" y="382.5" width="9.0" height="91.0" fill="#000" stroke="#111" stroke-width="1"/>
<line x1="216.50" y1="421.00" x2="216.50" y2="415.00" stroke="#111" stroke-width="1"/>
<line x1="214.00" y1="414.50" x2="220.00" y2="414.50" stroke="#111" stroke-width="1"/>
<rect x="212.5" y="421.5" width="8.0" height="52.0" fill="#dcdcdc" stroke="#111" stroke-width="1"/>
<text x="216.79" y="410.26" font-size="5.5" font-weight="bold" stroke="#111" stroke-width="0.1" text-anchor="middle" fill="#111">***</text>
<line x1="230.50" y1="417.00" x2="230.50" y2="403.00" stroke="#111" stroke-width="1"/>
<line x1="228.00" y1="402.50" x2="234.00" y2="402.50" stroke="#111" stroke-width="1"/>
<rect x="226.5" y="417.5" width="8.0" height="56.0" fill="#e6e6e6" stroke="#111" stroke-width="1"/>
<text x="230.51" y="398.53" font-size="5.5" font-weight="bold" stroke="#111" stroke-width="0.1" text-anchor="middle" fill="#111">**</text>
<line x1="244.50" y1="406.00" x2="244.50" y2="396.00" stroke="#111" stroke-width="1"/>
<line x1="241.00" y1="395.50" x2="247.00" y2="395.50" stroke="#111" stroke-width="1"/>
<rect x="240.5" y="406.5" width="8.0" height="67.0" fill="#a2a2a2" stroke="#111" stroke-width="1"/>
<line x1="257.50" y1="413.00" x2="257.50" y2="407.00" stroke="#111" stroke-width="1"/>
<line x1="255.00" y1="407.50" x2="261.00" y2="407.50" stroke="#111" stroke-width="1"/>
<rect x="253.5" y="413.5" width="9.0" height="60.0" fill="#a8a8a8" stroke="#111" stroke-width="1"/>
<text x="257.95" y="402.77" font-size="5.5" font-weight="bold" stroke="#111" stroke-width="0.1" text-anchor="middle" fill="#111">*</text>
<line x1="271.50" y1="418.00" x2="271.50" y2="407.00" stroke="#111" stroke-width="1"/>
<line x1="269.00" y1="406.50" x2="275.00" y2="406.50" stroke="#111" stroke-width="1"/>
<rect x="267.5" y="417.5" width="8.0" height="56.0" fill="#5e5e5e" stroke="#111" stroke-width="1"/>
<text x="271.67" y="402.14" font-size="5.5" font-weight="bold" stroke="#111" stroke-width="0.1" text-anchor="middle" fill="#111">**</text>
<line x1="285.50" y1="411.00" x2="285.50" y2="409.00" stroke="#111" stroke-width="1"/>
<line x1="282.00" y1="409.50" x2="288.00" y2="409.50" stroke="#111" stroke-width="1"/>
<rect x="281.5" y="411.5" width="8.0" height="62.0" fill="#666" stroke="#111" stroke-width="1"/>
<text x="285.39" y="405.03" font-size="5.5" font-weight="bold" stroke="#111" stroke-width="0.1" text-anchor="middle" fill="#111">*</text>
<text x="244.20" y="484.20" font-size="8" font-weight="bold" stroke="#111" stroke-width="0.4" text-anchor="middle" fill="#111">SKBR3</text>
<rect x="304.5" y="383.5" width="8.0" height="90.0" fill="#fff" stroke="#111" stroke-width="1"/>
<line x1="322.50" y1="377.00" x2="322.50" y2="370.00" stroke="#111" stroke-width="1"/>
<line x1="319.00" y1="370.50" x2="325.00" y2="370.50" stroke="#111" stroke-width="1"/>
<rect x="318.5" y="377.5" width="8.0" height="96.0" fill="#000" stroke="#111" stroke-width="1"/>
<line x1="335.50" y1="392.00" x2="335.50" y2="389.00" stroke="#111" stroke-width="1"/>
<line x1="333.00" y1="389.50" x2="339.00" y2="389.50" stroke="#111" stroke-width="1"/>
<rect x="331.5" y="391.5" width="9.0" height="82.0" fill="#dcdcdc" stroke="#111" stroke-width="1"/>
<line x1="349.50" y1="409.00" x2="349.50" y2="408.00" stroke="#111" stroke-width="1"/>
<line x1="347.00" y1="407.50" x2="353.00" y2="407.50" stroke="#111" stroke-width="1"/>
<rect x="345.5" y="409.5" width="8.0" height="64.0" fill="#e6e6e6" stroke="#111" stroke-width="1"/>
<text x="349.61" y="403.59" font-size="5.5" font-weight="bold" stroke="#111" stroke-width="0.1" text-anchor="middle" fill="#111">**</text>
<line x1="363.50" y1="409.00" x2="363.50" y2="403.00" stroke="#111" stroke-width="1"/>
<line x1="360.00" y1="403.50" x2="366.00" y2="403.50" stroke="#111" stroke-width="1"/>
<rect x="359.5" y="408.5" width="8.0" height="65.0" fill="#a2a2a2" stroke="#111" stroke-width="1"/>
<text x="363.33" y="399.08" font-size="5.5" font-weight="bold" stroke="#111" stroke-width="0.1" text-anchor="middle" fill="#111">**</text>
<line x1="377.50" y1="403.00" x2="377.50" y2="399.00" stroke="#111" stroke-width="1"/>
<line x1="374.00" y1="398.50" x2="380.00" y2="398.50" stroke="#111" stroke-width="1"/>
<rect x="372.5" y="403.5" width="9.0" height="70.0" fill="#a8a8a8" stroke="#111" stroke-width="1"/>
<text x="377.05" y="394.57" font-size="5.5" font-weight="bold" stroke="#111" stroke-width="0.1" text-anchor="middle" fill="#111">*</text>
<line x1="390.50" y1="414.00" x2="390.50" y2="410.00" stroke="#111" stroke-width="1"/>
<line x1="388.00" y1="409.50" x2="394.00" y2="409.50" stroke="#111" stroke-width="1"/>
<rect x="386.5" y="413.5" width="8.0" height="60.0" fill="#5e5e5e" stroke="#111" stroke-width="1"/>
<text x="390.77" y="405.57" font-size="5.5" font-weight="bold" stroke="#111" stroke-width="0.1" text-anchor="middle" fill="#111">**</text>
<line x1="404.50" y1="402.00" x2="404.50" y2="400.00" stroke="#111" stroke-width="1"/>
<line x1="401.00" y1="400.50" x2="407.00" y2="400.50" stroke="#111" stroke-width="1"/>
<rect x="400.5" y="402.5" width="8.0" height="71.0" fill="#666" stroke="#111" stroke-width="1"/>
<text x="358.50" y="484.20" font-size="8" font-weight="bold" stroke="#111" stroke-width="0.4" text-anchor="middle" fill="#111">BT549</text>
<rect x="439.5" y="362.5" width="17.0" height="3" fill="#fff" stroke="#111" stroke-width="1"/>
<text x="459.60" y="366.40" font-size="8.05" stroke="#111" stroke-width="0.2" text-anchor="start" fill="#111">Mock</text>
<rect x="439.5" y="375.5" width="17.0" height="3" fill="#000" stroke="#111" stroke-width="1"/>
<text x="459.60" y="380.05" font-size="8.05" stroke="#111" stroke-width="0.2" text-anchor="start" fill="#111">siControl</text>
<rect x="439.5" y="389.5" width="17.0" height="3" fill="#dcdcdc" stroke="#111" stroke-width="1"/>
<text x="459.60" y="393.70" font-size="8.05" stroke="#111" stroke-width="0.2" text-anchor="start" fill="#111">siT1-1</text>
<rect x="439.5" y="402.5" width="17.0" height="3" fill="#e6e6e6" stroke="#111" stroke-width="1"/>
<text x="459.60" y="407.35" font-size="8.05" stroke="#111" stroke-width="0.2" text-anchor="start" fill="#111">siT1-4</text>
<rect x="439.5" y="416.5" width="17.0" height="3" fill="#a2a2a2" stroke="#111" stroke-width="1"/>
<text x="459.60" y="421.00" font-size="8.05" stroke="#111" stroke-width="0.2" text-anchor="start" fill="#111">siT2-1</text>
<rect x="439.5" y="430.5" width="17.0" height="3" fill="#a8a8a8" stroke="#111" stroke-width="1"/>
<text x="459.60" y="434.65" font-size="8.05" stroke="#111" stroke-width="0.2" text-anchor="start" fill="#111">siT2-4</text>
<rect x="439.5" y="443.5" width="17.0" height="3" fill="#5e5e5e" stroke="#111" stroke-width="1"/>
<text x="459.60" y="448.30" font-size="8.05" stroke="#111" stroke-width="0.2" text-anchor="start" fill="#111">siT1-1/T2-1</text>
<rect x="439.5" y="457.5" width="17.0" height="3" fill="#666" stroke="#111" stroke-width="1"/>
<text x="459.60" y="461.95" font-size="8.05" stroke="#111" stroke-width="0.2" text-anchor="start" fill="#111">siT1-4/T2-4</text>
<text x="2.50" y="509.30" font-size="13" font-weight="bold" stroke="#111" stroke-width="0.7" text-anchor="start" fill="#111">D</text>
<text x="69.50" y="530.00" font-size="9.1" font-weight="bold" stroke="#111" stroke-width="0.4" text-anchor="middle" fill="#111">MCF-10A</text>
<text x="151.00" y="530.00" font-size="9.1" font-weight="bold" stroke="#111" stroke-width="0.4" text-anchor="middle" fill="#111">SKBR3</text>
<text x="189.00" y="568.00" font-size="9.2" font-weight="bold" stroke="#111" stroke-width="0.4" text-anchor="start" fill="#111">Control</text>
<text x="189.00" y="641.00" font-size="9.2" font-weight="bold" stroke="#111" stroke-width="0.4" text-anchor="start" fill="#111">Compound 43</text>
<defs><radialGradient id="dish" cx="50%" cy="50%" r="50%"><stop offset="0" stop-color="#bababa"/><stop offset="0.8" stop-color="#b5b5b5"/><stop offset="0.97" stop-color="#adadad"/><stop offset="1" stop-color="#b6b6b6"/></radialGradient></defs>
<circle cx="71.7" cy="568.8" r="33.7" fill="url(#dish)"/>
<path d="M54.7 545.2h.01M58.9 559.4h.01M91.8 563.8h.01M63.8 571.2h.01M71.1 583.4h.01M79.1 563.9h.01M82.2 590.3h.01M97.1 570.3h.01M54.4 572.2h.01M88.0 570.8h.01M76.0 561.8h.01M80.6 589.0h.01M93.7 549.3h.01M94.9 578.6h.01M60.7 593.2h.01M52.6 544.5h.01M59.2 569.4h.01M61.2 576.8h.01M83.4 582.0h.01M60.7 563.3h.01M52.0 577.2h.01M55.0 582.6h.01M95.2 581.4h.01M74.1 537.1h.01M48.9 551.0h.01M92.7 588.3h.01M92.8 564.4h.01M99.9 571.9h.01M64.4 544.7h.01M57.0 570.4h.01M75.0 568.7h.01M70.6 552.0h.01M101.6 572.1h.01M102.2 561.9h.01M63.6 559.7h.01M43.6 557.9h.01M66.5 582.6h.01M58.6 561.2h.01M89.0 568.5h.01M79.2 563.4h.01M51.0 562.3h.01M75.3 593.2h.01M63.2 543.7h.01M80.0 590.9h.01M92.7 572.8h.01M52.0 567.7h.01M44.0 572.5h.01M100.5 563.4h.01M70.8 553.3h.01M76.3 564.3h.01M47.6 576.6h.01M50.1 554.1h.01M60.8 552.4h.01M84.6 576.3h.01M96.0 587.1h.01M92.5 551.6h.01M77.3 592.7h.01M78.3 552.6h.01M86.8 559.1h.01M80.4 591.3h.01" stroke="#555" stroke-opacity="0.35" stroke-width="1.00" stroke-linecap="round" fill="none"/>
<circle cx="70.4" cy="566.0" r="0.85" fill="rgb(30,30,30)" fill-opacity="0.9"/>
<circle cx="77.1" cy="570.8" r="0.85" fill="rgb(30,30,30)" fill-opacity="0.9"/>
<circle cx="70.0" cy="575.6" r="0.76" fill="rgb(30,30,30)" fill-opacity="0.9"/>
<circle cx="63.5" cy="556.5" r="0.66" fill="rgb(80,80,80)" fill-opacity="0.9"/>
<circle cx="98.0" cy="553.5" r="0.57" fill="rgb(80,80,80)" fill-opacity="0.9"/>
<circle cx="94.5" cy="563.0" r="0.57" fill="rgb(80,80,80)" fill-opacity="0.9"/>
<circle cx="42.0" cy="570.5" r="0.57" fill="rgb(80,80,80)" fill-opacity="0.9"/>
<circle cx="47.5" cy="560.5" r="0.47" fill="rgb(80,80,80)" fill-opacity="0.9"/>
<circle cx="87.0" cy="556.0" r="0.47" fill="rgb(80,80,80)" fill-opacity="0.9"/>
<circle cx="65.0" cy="582.0" r="0.47" fill="rgb(80,80,80)" fill-opacity="0.9"/>
<circle cx="88.0" cy="578.0" r="0.47" fill="rgb(80,80,80)" fill-opacity="0.9"/>
<circle cx="96.0" cy="584.0" r="0.47" fill="rgb(80,80,80)" fill-opacity="0.9"/>
<circle cx="55.0" cy="548.0" r="0.38" fill="rgb(80,80,80)" fill-opacity="0.9"/>
<circle cx="78.0" cy="544.0" r="0.38" fill="rgb(80,80,80)" fill-opacity="0.9"/>
<circle cx="60.0" cy="590.0" r="0.38" fill="rgb(80,80,80)" fill-opacity="0.9"/>
<circle cx="148.95" cy="568.8" r="33.8" fill="url(#dish)"/>
<path d="M151.1 566.1h.01M147.0 578.3h.01M177.0 568.4h.01M158.4 581.2h.01M152.8 542.8h.01M168.1 574.3h.01M157.7 558.7h.01M160.0 553.7h.01M152.1 570.1h.01M151.2 543.4h.01M149.8 553.7h.01M149.5 559.7h.01M161.2 582.0h.01M139.2 592.8h.01M135.0 570.5h.01M124.8 558.9h.01M164.1 564.4h.01M133.5 569.1h.01M171.9 574.5h.01M133.2 595.3h.01M122.6 585.9h.01M145.3 570.7h.01M132.6 552.6h.01M125.6 571.9h.01M134.3 568.0h.01M180.7 569.1h.01M152.2 571.2h.01M126.5 570.7h.01M126.0 588.8h.01M167.9 586.9h.01M130.1 564.2h.01M121.2 574.2h.01M128.7 590.6h.01M151.8 550.0h.01M154.0 562.3h.01M160.1 595.1h.01M153.5 599.6h.01M133.1 573.7h.01M160.4 540.4h.01M116.8 567.6h.01M177.7 558.8h.01M145.0 556.7h.01M160.4 553.3h.01M164.3 568.7h.01M155.3 573.4h.01M162.3 560.5h.01M177.7 574.8h.01M132.9 568.9h.01M175.2 576.8h.01M159.1 562.1h.01M122.2 560.0h.01M126.4 573.8h.01M159.7 571.2h.01M140.8 552.7h.01M161.2 547.2h.01" stroke="#555" stroke-opacity="0.35" stroke-width="1.00" stroke-linecap="round" fill="none"/>
<circle cx="146.3" cy="545.8" r="1.04" fill="rgb(30,30,30)" fill-opacity="0.9"/>
<circle cx="157.9" cy="555.4" r="0.85" fill="rgb(30,30,30)" fill-opacity="0.9"/>
<circle cx="145.4" cy="566.0" r="0.76" fill="rgb(30,30,30)" fill-opacity="0.9"/>
<circle cx="165.6" cy="566.9" r="1.14" fill="rgb(30,30,30)" fill-opacity="0.9"/>
<circle cx="172.3" cy="565.0" r="0.85" fill="rgb(30,30,30)" fill-opacity="0.9"/>
<circle cx="168.5" cy="569.8" r="0.76" fill="rgb(30,30,30)" fill-opacity="0.9"/>
<circle cx="159.8" cy="575.6" r="0.95" fill="rgb(30,30,30)" fill-opacity="0.9"/>
<circle cx="148.3" cy="575.6" r="0.76" fill="rgb(30,30,30)" fill-opacity="0.9"/>
<circle cx="141.5" cy="583.3" r="0.76" fill="rgb(30,30,30)" fill-opacity="0.9"/>
<circle cx="137.7" cy="590.0" r="0.76" fill="rgb(30,30,30)" fill-opacity="0.9"/>
<circle cx="172.3" cy="582.3" r="0.95" fill="rgb(30,30,30)" fill-opacity="0.9"/>
<circle cx="176.2" cy="583.3" r="0.76" fill="rgb(30,30,30)" fill-opacity="0.9"/>
<circle cx="172.3" cy="587.1" r="0.76" fill="rgb(30,30,30)" fill-opacity="0.9"/>
<circle cx="118.5" cy="562.1" r="0.66" fill="rgb(80,80,80)" fill-opacity="0.9"/>
<circle cx="118.5" cy="566.0" r="0.66" fill="rgb(80,80,80)" fill-opacity="0.9"/>
<circle cx="179.0" cy="560.2" r="0.66" fill="rgb(80,80,80)" fill-opacity="0.9"/>
<circle cx="179.0" cy="568.8" r="0.66" fill="rgb(80,80,80)" fill-opacity="0.9"/>
<circle cx="127.1" cy="544.8" r="0.57" fill="rgb(80,80,80)" fill-opacity="0.9"/>
<circle cx="140.6" cy="549.6" r="0.57" fill="rgb(80,80,80)" fill-opacity="0.9"/>
<circle cx="173.3" cy="560.2" r="0.66" fill="rgb(80,80,80)" fill-opacity="0.9"/>
<circle cx="153.1" cy="578.5" r="0.57" fill="rgb(80,80,80)" fill-opacity="0.9"/>
<circle cx="162.7" cy="581.3" r="0.57" fill="rgb(80,80,80)" fill-opacity="0.9"/>
<circle cx="132.0" cy="553.0" r="0.47" fill="rgb(80,80,80)" fill-opacity="0.9"/>
<circle cx="151.0" cy="551.0" r="0.47" fill="rgb(80,80,80)" fill-opacity="0.9"/>
<circle cx="166.0" cy="548.0" r="0.47" fill="rgb(80,80,80)" fill-opacity="0.9"/>
<circle cx="160.0" cy="590.0" r="0.47" fill="rgb(80,80,80)" fill-opacity="0.9"/>
<circle cx="127.0" cy="578.0" r="0.47" fill="rgb(80,80,80)" fill-opacity="0.9"/>
<circle cx="135.0" cy="571.0" r="0.47" fill="rgb(80,80,80)" fill-opacity="0.9"/>
<circle cx="71.8" cy="641.8" r="33.9" fill="url(#dish)"/>
<path d="M101.0 641.9h.01M74.2 665.7h.01M98.6 633.4h.01M49.4 662.0h.01M87.1 617.0h.01M85.9 637.3h.01M58.8 612.1h.01M94.4 652.0h.01M86.3 620.2h.01M93.0 621.0h.01M58.6 646.4h.01M98.4 645.3h.01M75.8 659.6h.01M85.5 665.4h.01M41.6 634.1h.01M91.7 622.9h.01M70.7 630.0h.01M48.9 646.4h.01M62.5 663.5h.01M63.5 657.4h.01M52.6 650.8h.01M79.8 669.1h.01M79.7 645.8h.01M79.8 619.2h.01M40.2 637.5h.01M64.7 670.7h.01M68.2 628.4h.01M101.0 629.2h.01M89.9 639.3h.01M95.6 635.5h.01M70.4 618.7h.01M73.9 656.4h.01M55.6 617.1h.01M43.0 639.9h.01M45.2 636.5h.01M79.2 611.9h.01M46.0 652.3h.01M85.4 639.8h.01M51.7 646.4h.01M67.0 633.8h.01M96.7 645.8h.01M72.7 612.4h.01M52.2 640.4h.01M88.8 660.3h.01M69.8 624.7h.01M79.0 633.0h.01M49.0 659.5h.01M91.3 619.4h.01M64.7 654.9h.01M60.5 661.4h.01" stroke="#555" stroke-opacity="0.35" stroke-width="1.00" stroke-linecap="round" fill="none"/>
<circle cx="91.5" cy="632.2" r="1.04" fill="rgb(30,30,30)" fill-opacity="0.9"/>
<circle cx="44.4" cy="633.5" r="0.76" fill="rgb(30,30,30)" fill-opacity="0.9"/>
<circle cx="99.2" cy="652.2" r="0.95" fill="rgb(30,30,30)" fill-opacity="0.9"/>
<circle cx="60.8" cy="647.0" r="0.76" fill="rgb(30,30,30)" fill-opacity="0.9"/>
<circle cx="51.2" cy="644.1" r="0.66" fill="rgb(80,80,80)" fill-opacity="0.9"/>
<circle cx="59.8" cy="657.9" r="0.76" fill="rgb(30,30,30)" fill-opacity="0.9"/>
<circle cx="64.6" cy="622.9" r="0.57" fill="rgb(80,80,80)" fill-opacity="0.9"/>
<circle cx="71.3" cy="617.5" r="0.57" fill="rgb(80,80,80)" fill-opacity="0.9"/>
<circle cx="87.7" cy="669.0" r="0.66" fill="rgb(80,80,80)" fill-opacity="0.9"/>
<circle cx="76.2" cy="662.3" r="0.57" fill="rgb(80,80,80)" fill-opacity="0.9"/>
<circle cx="47.3" cy="653.7" r="0.57" fill="rgb(80,80,80)" fill-opacity="0.9"/>
<circle cx="88.7" cy="625.8" r="0.57" fill="rgb(80,80,80)" fill-opacity="0.9"/>
<circle cx="95.0" cy="638.0" r="0.47" fill="rgb(80,80,80)" fill-opacity="0.9"/>
<circle cx="96.0" cy="646.0" r="0.47" fill="rgb(80,80,80)" fill-opacity="0.9"/>
<circle cx="66.0" cy="664.0" r="0.47" fill="rgb(80,80,80)" fill-opacity="0.9"/>
<circle cx="100.0" cy="656.0" r="0.47" fill="rgb(80,80,80)" fill-opacity="0.9"/>
<circle cx="149.3" cy="641.8" r="33.9" fill="url(#dish)"/>
<line x1="297.50" y1="549.00" x2="297.50" y2="645.00" stroke="#111" stroke-width="1"/>
<line x1="297.00" y1="644.50" x2="439.00" y2="644.50" stroke="#111" stroke-width="1"/>
<line x1="294.00" y1="644.50" x2="297.00" y2="644.50" stroke="#111" stroke-width="1"/>
<text x="293.50" y="647.10" font-size="7.5" font-weight="bold" stroke="#111" stroke-width="0.4" text-anchor="end" fill="#111">0</text>
<line x1="294.00" y1="625.50" x2="297.00" y2="625.50" stroke="#111" stroke-width="1"/>
<text x="293.50" y="628.12" font-size="7.5" font-weight="bold" stroke="#111" stroke-width="0.4" text-anchor="end" fill="#111">20</text>
<line x1="294.00" y1="606.50" x2="297.00" y2="606.50" stroke="#111" stroke-width="1"/>
<text x="293.50" y="609.14" font-size="7.5" font-weight="bold" stroke="#111" stroke-width="0.4" text-anchor="end" fill="#111">40</text>
<line x1="294.00" y1="587.50" x2="297.00" y2="587.50" stroke="#111" stroke-width="1"/>
<text x="293.50" y="590.16" font-size="7.5" font-weight="bold" stroke="#111" stroke-width="0.4" text-anchor="end" fill="#111">60</text>
<line x1="294.00" y1="568.50" x2="297.00" y2="568.50" stroke="#111" stroke-width="1"/>
<text x="293.50" y="571.18" font-size="7.5" font-weight="bold" stroke="#111" stroke-width="0.4" text-anchor="end" fill="#111">80</text>
<line x1="294.00" y1="549.50" x2="297.00" y2="549.50" stroke="#111" stroke-width="1"/>
<text x="293.50" y="552.20" font-size="7.5" font-weight="bold" stroke="#111" stroke-width="0.4" text-anchor="end" fill="#111">100</text>
<text x="268.90" y="597.30" font-size="8.45" font-weight="bold" stroke="#111" stroke-width="0.4" text-anchor="middle" fill="#111" transform="rotate(-90 268.90 597.30)">Relative colony</text>
<text x="277.90" y="594.90" font-size="8.2" font-weight="bold" stroke="#111" stroke-width="0.4" text-anchor="middle" fill="#111" transform="rotate(-90 277.90 594.90)">formation (%)</text>
<rect x="310.5" y="549.5" width="17.0" height="95.0" fill="#fff" stroke="#111" stroke-width="1"/>
<line x1="346.50" y1="577.00" x2="346.50" y2="565.00" stroke="#111" stroke-width="1"/>
<line x1="341.00" y1="565.50" x2="351.00" y2="565.50" stroke="#111" stroke-width="1"/>
<rect x="337.5" y="577.5" width="17.0" height="67.0" fill="#000" stroke="#000" stroke-width="1"/>
<text x="335.55" y="653.90" font-size="8.1" font-weight="bold" stroke="#111" stroke-width="0.4" text-anchor="middle" fill="#111">MCF-10A</text>
<rect x="381.5" y="549.5" width="17.0" height="95.0" fill="#fff" stroke="#111" stroke-width="1"/>
<line x1="417.50" y1="639.00" x2="417.50" y2="636.00" stroke="#111" stroke-width="1"/>
<line x1="413.00" y1="635.50" x2="422.00" y2="635.50" stroke="#111" stroke-width="1"/>
<rect x="408.5" y="639.5" width="17.0" height="5.0" fill="#000" stroke="#000" stroke-width="1"/>
<text x="406.60" y="653.90" font-size="8.1" font-weight="bold" stroke="#111" stroke-width="0.4" text-anchor="middle" fill="#111">SKBR3</text>
<path d="M390.5 542.5V536.5H416.5V605.5" fill="none" stroke="#111" stroke-width="1"/>
<text x="402.80" y="534.60" font-size="5.5" font-weight="bold" stroke="#111" stroke-width="0.1" text-anchor="middle" fill="#111">***</text>
<rect x="446.5" y="574.5" width="11.0" height="3" fill="#fff" stroke="#111" stroke-width="1"/>
<text x="461.20" y="579.00" font-size="8.0" stroke="#111" stroke-width="0.2" text-anchor="start" fill="#111">Control</text>
<rect x="446.5" y="585.5" width="11.0" height="3" fill="#000" stroke="#111" stroke-width="1"/>
<text x="461.20" y="589.80" font-size="8.0" stroke="#111" stroke-width="0.2" text-anchor="start" fill="#111">Compound 43</text>
</svg>
</body></html>
